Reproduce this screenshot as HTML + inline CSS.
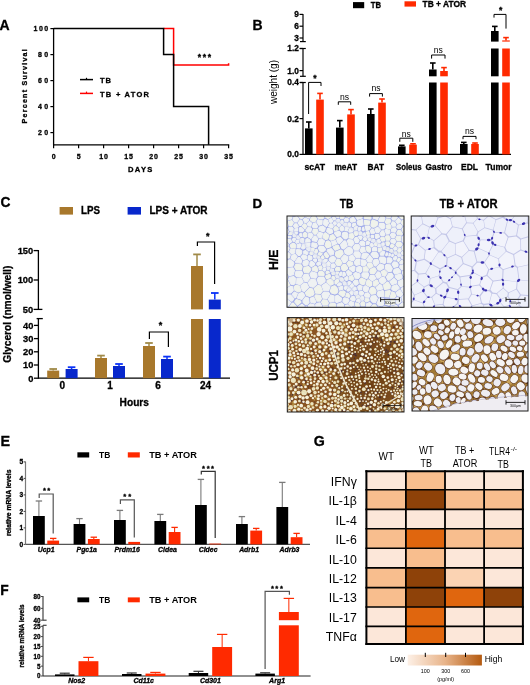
<!DOCTYPE html>
<html><head><meta charset="utf-8"><title>Figure</title>
<style>
html,body{margin:0;padding:0;background:#fff;}
body{width:530px;height:685px;overflow:hidden;}
svg{display:block;font-family:"Liberation Sans",Arial,sans-serif;}
text[font-weight="bold"]{stroke:#000;stroke-width:0.3px;}
</style></head><body>
<svg width="530" height="685" viewBox="0 0 530 685">
<rect width="530" height="685" fill="#fff"/>
<text x="-0.40" y="29.60" font-size="14" font-weight="bold">A</text>
<path d="M163.60 28.60 H173.60 V65.00 H228.60 V63.20" stroke="#ff0000" stroke-width="1.5" fill="none"/>
<path d="M53.60 28.60 H163.60 V54.60 H173.60 V106.60 H208.60 V144.80" stroke="#000" stroke-width="1.5" fill="none"/>
<line x1="53.60" y1="28.00" x2="53.60" y2="145.40" stroke="#000" stroke-width="1.3"/>
<line x1="53.00" y1="144.80" x2="229.20" y2="144.80" stroke="#000" stroke-width="1.3"/>
<line x1="50.40" y1="28.60" x2="53.60" y2="28.60" stroke="#000" stroke-width="1.2"/>
<line x1="50.40" y1="54.60" x2="53.60" y2="54.60" stroke="#000" stroke-width="1.2"/>
<line x1="50.40" y1="80.60" x2="53.60" y2="80.60" stroke="#000" stroke-width="1.2"/>
<line x1="50.40" y1="106.60" x2="53.60" y2="106.60" stroke="#000" stroke-width="1.2"/>
<line x1="50.40" y1="132.60" x2="53.60" y2="132.60" stroke="#000" stroke-width="1.2"/>
<line x1="53.60" y1="144.80" x2="53.60" y2="148.20" stroke="#000" stroke-width="1.2"/>
<line x1="78.60" y1="144.80" x2="78.60" y2="148.20" stroke="#000" stroke-width="1.2"/>
<line x1="103.60" y1="144.80" x2="103.60" y2="148.20" stroke="#000" stroke-width="1.2"/>
<line x1="128.60" y1="144.80" x2="128.60" y2="148.20" stroke="#000" stroke-width="1.2"/>
<line x1="153.60" y1="144.80" x2="153.60" y2="148.20" stroke="#000" stroke-width="1.2"/>
<line x1="178.60" y1="144.80" x2="178.60" y2="148.20" stroke="#000" stroke-width="1.2"/>
<line x1="203.60" y1="144.80" x2="203.60" y2="148.20" stroke="#000" stroke-width="1.2"/>
<line x1="228.60" y1="144.80" x2="228.60" y2="148.20" stroke="#000" stroke-width="1.2"/>
<text x="33.60" y="31.10" font-size="7" font-weight="bold" textLength="14.60" lengthAdjust="spacing">100</text>
<text x="38.00" y="57.10" font-size="7" font-weight="bold" textLength="10.20" lengthAdjust="spacing">80</text>
<text x="38.00" y="83.10" font-size="7" font-weight="bold" textLength="10.20" lengthAdjust="spacing">60</text>
<text x="38.00" y="109.10" font-size="7" font-weight="bold" textLength="10.20" lengthAdjust="spacing">40</text>
<text x="38.00" y="135.10" font-size="7" font-weight="bold" textLength="10.20" lengthAdjust="spacing">20</text>
<text x="51.80" y="159.40" font-size="7" font-weight="bold" textLength="3.60" lengthAdjust="spacing">0</text>
<text x="76.80" y="159.40" font-size="7" font-weight="bold" textLength="3.60" lengthAdjust="spacing">5</text>
<text x="99.30" y="159.40" font-size="7" font-weight="bold" textLength="8.60" lengthAdjust="spacing">10</text>
<text x="124.30" y="159.40" font-size="7" font-weight="bold" textLength="8.60" lengthAdjust="spacing">15</text>
<text x="149.30" y="159.40" font-size="7" font-weight="bold" textLength="8.60" lengthAdjust="spacing">20</text>
<text x="174.30" y="159.40" font-size="7" font-weight="bold" textLength="8.60" lengthAdjust="spacing">25</text>
<text x="199.30" y="159.40" font-size="7" font-weight="bold" textLength="8.60" lengthAdjust="spacing">30</text>
<text x="224.30" y="159.40" font-size="7" font-weight="bold" textLength="8.60" lengthAdjust="spacing">35</text>
<text x="128.00" y="171.60" font-size="7.6" font-weight="bold" textLength="24.40" lengthAdjust="spacing">DAYS</text>
<text x="27.20" y="123.40" font-size="7.1" font-weight="bold" textLength="74.20" lengthAdjust="spacing" transform="rotate(-90 27.20 123.40)">Percent Survival</text>
<line x1="80.00" y1="79.60" x2="93.00" y2="79.60" stroke="#000" stroke-width="1.5"/>
<line x1="86.50" y1="77.80" x2="86.50" y2="79.60" stroke="#000" stroke-width="1.2"/>
<text x="100.00" y="83.00" font-size="7.5" font-weight="bold" textLength="11.00" lengthAdjust="spacing">TB</text>
<line x1="80.00" y1="93.40" x2="93.00" y2="93.40" stroke="#ff0000" stroke-width="1.5"/>
<line x1="86.50" y1="91.60" x2="86.50" y2="93.40" stroke="#ff0000" stroke-width="1.2"/>
<text x="100.00" y="97.00" font-size="7.5" font-weight="bold" textLength="49.00" lengthAdjust="spacing">TB + ATOR</text>
<text x="197.87" y="60.09" font-size="8.6" font-weight="bold">*</text>
<text x="202.77" y="60.09" font-size="8.6" font-weight="bold">*</text>
<text x="207.87" y="60.09" font-size="8.6" font-weight="bold">*</text>
<text x="252.60" y="29.80" font-size="14" font-weight="bold">B</text>
<rect x="353.00" y="2.10" width="11.20" height="6.10" fill="#000"/>
<text x="370.80" y="7.90" font-size="8.5" font-weight="bold" textLength="10.30" lengthAdjust="spacingAndGlyphs">TB</text>
<rect x="404.50" y="1.30" width="11.50" height="5.30" fill="#ff2a00"/>
<text x="422.50" y="6.90" font-size="8.6" font-weight="bold" textLength="43.50" lengthAdjust="spacingAndGlyphs">TB + ATOR</text>
<line x1="303.00" y1="14.00" x2="303.00" y2="41.60" stroke="#000" stroke-width="1.2"/>
<line x1="303.00" y1="48.50" x2="303.00" y2="76.30" stroke="#000" stroke-width="1.2"/>
<line x1="303.00" y1="82.50" x2="303.00" y2="155.00" stroke="#000" stroke-width="1.2"/>
<line x1="300.00" y1="41.60" x2="305.80" y2="41.60" stroke="#000" stroke-width="1.2"/>
<line x1="300.00" y1="48.50" x2="305.80" y2="48.50" stroke="#000" stroke-width="1.2"/>
<line x1="300.00" y1="76.30" x2="305.80" y2="76.30" stroke="#000" stroke-width="1.2"/>
<line x1="300.00" y1="82.50" x2="305.80" y2="82.50" stroke="#000" stroke-width="1.2"/>
<line x1="299.50" y1="14.40" x2="303.00" y2="14.40" stroke="#000" stroke-width="1.2"/>
<text x="298.90" y="17.35" font-size="8.3" font-weight="bold" text-anchor="end">9</text>
<line x1="299.50" y1="26.20" x2="303.00" y2="26.20" stroke="#000" stroke-width="1.2"/>
<text x="298.90" y="29.15" font-size="8.3" font-weight="bold" text-anchor="end">6</text>
<line x1="299.50" y1="38.00" x2="303.00" y2="38.00" stroke="#000" stroke-width="1.2"/>
<text x="298.90" y="40.95" font-size="8.3" font-weight="bold" text-anchor="end">3</text>
<line x1="299.50" y1="48.50" x2="303.00" y2="48.50" stroke="#000" stroke-width="1.2"/>
<text x="298.90" y="51.45" font-size="8.3" font-weight="bold" text-anchor="end">1.2</text>
<line x1="299.50" y1="70.60" x2="303.00" y2="70.60" stroke="#000" stroke-width="1.2"/>
<text x="298.90" y="73.55" font-size="8.3" font-weight="bold" text-anchor="end">1.0</text>
<line x1="299.50" y1="82.50" x2="303.00" y2="82.50" stroke="#000" stroke-width="1.2"/>
<text x="298.90" y="85.45" font-size="8.3" font-weight="bold" text-anchor="end">0.4</text>
<line x1="299.50" y1="118.60" x2="303.00" y2="118.60" stroke="#000" stroke-width="1.2"/>
<text x="298.90" y="121.55" font-size="8.3" font-weight="bold" text-anchor="end">0.2</text>
<line x1="299.50" y1="154.40" x2="303.00" y2="154.40" stroke="#000" stroke-width="1.2"/>
<text x="298.90" y="157.35" font-size="8.3" font-weight="bold" text-anchor="end">0.0</text>
<text x="277.00" y="104.00" font-size="10.2" textLength="44.00" lengthAdjust="spacingAndGlyphs" transform="rotate(-90 277.00 104.00)">weight (g)</text>
<line x1="303.00" y1="154.40" x2="511.00" y2="154.40" stroke="#000" stroke-width="1.2"/>
<rect x="305.00" y="128.40" width="7.60" height="26.00" fill="#000"/>
<line x1="308.80" y1="122.00" x2="308.80" y2="128.40" stroke="#000" stroke-width="1.6"/>
<line x1="306.00" y1="122.00" x2="311.60" y2="122.00" stroke="#000" stroke-width="1.6"/>
<rect x="316.20" y="99.60" width="7.60" height="54.80" fill="#ff2a00"/>
<line x1="320.00" y1="93.40" x2="320.00" y2="99.60" stroke="#ff2a00" stroke-width="1.6"/>
<line x1="317.20" y1="93.40" x2="322.80" y2="93.40" stroke="#ff2a00" stroke-width="1.6"/>
<rect x="336.00" y="127.60" width="7.60" height="26.80" fill="#000"/>
<line x1="339.80" y1="120.60" x2="339.80" y2="127.60" stroke="#000" stroke-width="1.6"/>
<line x1="337.00" y1="120.60" x2="342.60" y2="120.60" stroke="#000" stroke-width="1.6"/>
<rect x="347.20" y="114.40" width="7.60" height="40.00" fill="#ff2a00"/>
<line x1="351.00" y1="109.60" x2="351.00" y2="114.40" stroke="#ff2a00" stroke-width="1.6"/>
<line x1="348.20" y1="109.60" x2="353.80" y2="109.60" stroke="#ff2a00" stroke-width="1.6"/>
<rect x="367.00" y="114.00" width="7.60" height="40.40" fill="#000"/>
<line x1="370.80" y1="109.00" x2="370.80" y2="114.00" stroke="#000" stroke-width="1.6"/>
<line x1="368.00" y1="109.00" x2="373.60" y2="109.00" stroke="#000" stroke-width="1.6"/>
<rect x="378.20" y="102.60" width="7.60" height="51.80" fill="#ff2a00"/>
<line x1="382.00" y1="99.00" x2="382.00" y2="102.60" stroke="#ff2a00" stroke-width="1.6"/>
<line x1="379.20" y1="99.00" x2="384.80" y2="99.00" stroke="#ff2a00" stroke-width="1.6"/>
<rect x="398.00" y="146.40" width="7.60" height="8.00" fill="#000"/>
<line x1="401.80" y1="145.30" x2="401.80" y2="146.40" stroke="#000" stroke-width="1.6"/>
<line x1="399.00" y1="145.30" x2="404.60" y2="145.30" stroke="#000" stroke-width="1.6"/>
<rect x="409.20" y="144.60" width="7.60" height="9.80" fill="#ff2a00"/>
<line x1="413.00" y1="143.80" x2="413.00" y2="144.60" stroke="#ff2a00" stroke-width="1.6"/>
<line x1="410.20" y1="143.80" x2="415.80" y2="143.80" stroke="#ff2a00" stroke-width="1.6"/>
<rect x="429.00" y="69.50" width="7.60" height="6.80" fill="#000"/>
<rect x="429.00" y="82.50" width="7.60" height="71.90" fill="#000"/>
<line x1="432.80" y1="63.00" x2="432.80" y2="69.50" stroke="#000" stroke-width="1.6"/>
<line x1="430.00" y1="63.00" x2="435.60" y2="63.00" stroke="#000" stroke-width="1.6"/>
<rect x="440.20" y="71.00" width="7.60" height="5.30" fill="#ff2a00"/>
<rect x="440.20" y="82.50" width="7.60" height="71.90" fill="#ff2a00"/>
<line x1="444.00" y1="67.60" x2="444.00" y2="71.00" stroke="#ff2a00" stroke-width="1.6"/>
<line x1="441.20" y1="67.60" x2="446.80" y2="67.60" stroke="#ff2a00" stroke-width="1.6"/>
<rect x="460.00" y="144.00" width="7.60" height="10.40" fill="#000"/>
<line x1="463.80" y1="142.40" x2="463.80" y2="144.00" stroke="#000" stroke-width="1.6"/>
<line x1="461.00" y1="142.40" x2="466.60" y2="142.40" stroke="#000" stroke-width="1.6"/>
<rect x="471.20" y="144.00" width="7.60" height="10.40" fill="#ff2a00"/>
<line x1="475.00" y1="143.00" x2="475.00" y2="144.00" stroke="#ff2a00" stroke-width="1.6"/>
<line x1="472.20" y1="143.00" x2="477.80" y2="143.00" stroke="#ff2a00" stroke-width="1.6"/>
<rect x="491.00" y="31.00" width="7.60" height="10.60" fill="#000"/>
<rect x="491.00" y="48.50" width="7.60" height="27.80" fill="#000"/>
<rect x="491.00" y="82.50" width="7.60" height="71.90" fill="#000"/>
<line x1="494.80" y1="26.40" x2="494.80" y2="31.00" stroke="#000" stroke-width="1.6"/>
<line x1="492.00" y1="26.40" x2="497.60" y2="26.40" stroke="#000" stroke-width="1.6"/>
<rect x="502.20" y="40.40" width="7.60" height="1.20" fill="#ff2a00"/>
<rect x="502.20" y="48.50" width="7.60" height="27.80" fill="#ff2a00"/>
<rect x="502.20" y="82.50" width="7.60" height="71.90" fill="#ff2a00"/>
<line x1="506.00" y1="37.60" x2="506.00" y2="40.40" stroke="#ff2a00" stroke-width="1.6"/>
<line x1="503.20" y1="37.60" x2="508.80" y2="37.60" stroke="#ff2a00" stroke-width="1.6"/>
<text x="304.40" y="169.60" font-size="8.6" font-weight="bold" textLength="20.60" lengthAdjust="spacingAndGlyphs">scAT</text>
<text x="334.40" y="169.60" font-size="8.6" font-weight="bold" textLength="22.60" lengthAdjust="spacingAndGlyphs">meAT</text>
<text x="367.60" y="169.60" font-size="8.6" font-weight="bold" textLength="16.40" lengthAdjust="spacingAndGlyphs">BAT</text>
<text x="396.00" y="169.60" font-size="8.6" font-weight="bold" textLength="25.50" lengthAdjust="spacingAndGlyphs">Soleus</text>
<text x="425.60" y="169.60" font-size="8.6" font-weight="bold" textLength="26.80" lengthAdjust="spacingAndGlyphs">Gastro</text>
<text x="461.00" y="169.60" font-size="8.6" font-weight="bold" textLength="17.00" lengthAdjust="spacingAndGlyphs">EDL</text>
<text x="485.60" y="169.60" font-size="8.6" font-weight="bold" textLength="26.00" lengthAdjust="spacingAndGlyphs">Tumor</text>
<path d="M308.6 114 V82.4 H321 V86" stroke="#000" stroke-width="1.0" fill="none"/>
<text x="313.17" y="80.79" font-size="8.6" font-weight="bold">*</text>
<path d="M338.30 104.80 V101.80 H350.70 V104.80" stroke="#000" stroke-width="1.0" fill="none"/>
<text x="344.50" y="99.70" font-size="8.6" text-anchor="middle">ns</text>
<path d="M369.60 96.60 V93.60 H382.40 V96.60" stroke="#000" stroke-width="1.0" fill="none"/>
<text x="376.00" y="91.00" font-size="8.6" text-anchor="middle">ns</text>
<path d="M399.80 141.80 V138.20 H412.80 V141.80" stroke="#000" stroke-width="1.0" fill="none"/>
<text x="406.30" y="137.00" font-size="8.6" text-anchor="middle">ns</text>
<path d="M431.60 58.60 V55.00 H445.00 V58.60" stroke="#000" stroke-width="1.0" fill="none"/>
<text x="438.30" y="52.60" font-size="8.6" text-anchor="middle">ns</text>
<path d="M463.00 139.20 V136.40 H476.00 V139.20" stroke="#000" stroke-width="1.0" fill="none"/>
<text x="469.50" y="133.60" font-size="8.6" text-anchor="middle">ns</text>
<path d="M494 17.6 V14.4 H506 V28.6" stroke="#000" stroke-width="1.0" fill="none"/>
<text x="498.97" y="12.79" font-size="8.6" font-weight="bold">*</text>
<text x="0.60" y="207.20" font-size="13.8" font-weight="bold">C</text>
<rect x="59.60" y="207.00" width="13.40" height="7.60" fill="#a8782c"/>
<text x="81.00" y="214.20" font-size="10" font-weight="bold" textLength="19.00" lengthAdjust="spacingAndGlyphs">LPS</text>
<rect x="127.60" y="207.00" width="13.40" height="7.60" fill="#0828cc"/>
<text x="149.40" y="214.20" font-size="10" font-weight="bold" textLength="58.10" lengthAdjust="spacingAndGlyphs">LPS + ATOR</text>
<line x1="38.40" y1="250.00" x2="38.40" y2="309.40" stroke="#000" stroke-width="1.3"/>
<line x1="38.40" y1="318.60" x2="38.40" y2="378.80" stroke="#000" stroke-width="1.3"/>
<line x1="33.60" y1="309.40" x2="42.40" y2="309.40" stroke="#000" stroke-width="1.3"/>
<line x1="36.60" y1="318.60" x2="42.80" y2="318.60" stroke="#000" stroke-width="1.3"/>
<line x1="33.60" y1="250.60" x2="38.40" y2="250.60" stroke="#000" stroke-width="1.3"/>
<line x1="33.60" y1="280.00" x2="38.40" y2="280.00" stroke="#000" stroke-width="1.3"/>
<line x1="34.00" y1="325.40" x2="38.40" y2="325.40" stroke="#000" stroke-width="1.3"/>
<line x1="34.00" y1="338.60" x2="38.40" y2="338.60" stroke="#000" stroke-width="1.3"/>
<line x1="34.00" y1="351.80" x2="38.40" y2="351.80" stroke="#000" stroke-width="1.3"/>
<line x1="34.00" y1="365.00" x2="38.40" y2="365.00" stroke="#000" stroke-width="1.3"/>
<line x1="34.00" y1="378.20" x2="38.40" y2="378.20" stroke="#000" stroke-width="1.3"/>
<text x="33.20" y="253.90" font-size="9.3" font-weight="bold" text-anchor="end">150</text>
<text x="33.20" y="283.30" font-size="9.3" font-weight="bold" text-anchor="end">100</text>
<text x="33.20" y="312.70" font-size="9.3" font-weight="bold" text-anchor="end">50</text>
<text x="33.40" y="328.70" font-size="9.3" font-weight="bold" text-anchor="end">40</text>
<text x="33.40" y="341.90" font-size="9.3" font-weight="bold" text-anchor="end">30</text>
<text x="33.40" y="355.10" font-size="9.3" font-weight="bold" text-anchor="end">20</text>
<text x="33.40" y="368.30" font-size="9.3" font-weight="bold" text-anchor="end">10</text>
<text x="33.40" y="381.50" font-size="9.3" font-weight="bold" text-anchor="end">0</text>
<text x="11.20" y="362.70" font-size="10.8" font-weight="bold" textLength="97.00" lengthAdjust="spacingAndGlyphs" transform="rotate(-90 11.20 362.70)">Glycerol (nmol/well)</text>
<line x1="38.40" y1="378.20" x2="230.00" y2="378.20" stroke="#000" stroke-width="1.3"/>
<rect x="47.20" y="370.60" width="12.00" height="7.60" fill="#a8782c"/>
<line x1="53.20" y1="369.00" x2="53.20" y2="370.60" stroke="#a08a48" stroke-width="1.5"/>
<line x1="49.40" y1="369.00" x2="57.00" y2="369.00" stroke="#a08a48" stroke-width="1.8"/>
<rect x="65.60" y="369.00" width="12.00" height="9.20" fill="#0828cc"/>
<line x1="71.60" y1="367.20" x2="71.60" y2="369.00" stroke="#0a32f8" stroke-width="1.5"/>
<line x1="67.80" y1="367.20" x2="75.40" y2="367.20" stroke="#0a32f8" stroke-width="1.8"/>
<rect x="95.00" y="358.00" width="12.00" height="20.20" fill="#a8782c"/>
<line x1="101.00" y1="355.60" x2="101.00" y2="358.00" stroke="#a08a48" stroke-width="1.5"/>
<line x1="97.20" y1="355.60" x2="104.80" y2="355.60" stroke="#a08a48" stroke-width="1.8"/>
<rect x="113.00" y="366.00" width="12.00" height="12.20" fill="#0828cc"/>
<line x1="119.00" y1="364.00" x2="119.00" y2="366.00" stroke="#0a32f8" stroke-width="1.5"/>
<line x1="115.20" y1="364.00" x2="122.80" y2="364.00" stroke="#0a32f8" stroke-width="1.8"/>
<rect x="143.00" y="346.00" width="12.00" height="32.20" fill="#a8782c"/>
<line x1="149.00" y1="343.00" x2="149.00" y2="346.00" stroke="#a08a48" stroke-width="1.5"/>
<line x1="145.20" y1="343.00" x2="152.80" y2="343.00" stroke="#a08a48" stroke-width="1.8"/>
<rect x="161.00" y="359.00" width="12.00" height="19.20" fill="#0828cc"/>
<line x1="167.00" y1="356.60" x2="167.00" y2="359.00" stroke="#0a32f8" stroke-width="1.5"/>
<line x1="163.20" y1="356.60" x2="170.80" y2="356.60" stroke="#0a32f8" stroke-width="1.8"/>
<rect x="191.00" y="266.00" width="12.00" height="43.40" fill="#a8782c"/>
<rect x="191.00" y="319.00" width="12.00" height="59.20" fill="#a8782c"/>
<line x1="197.00" y1="254.40" x2="197.00" y2="266.00" stroke="#a08a48" stroke-width="1.5"/>
<line x1="193.20" y1="254.40" x2="200.80" y2="254.40" stroke="#a08a48" stroke-width="1.8"/>
<rect x="208.80" y="299.60" width="12.00" height="9.80" fill="#0828cc"/>
<rect x="208.80" y="319.00" width="12.00" height="59.20" fill="#0828cc"/>
<line x1="214.80" y1="293.00" x2="214.80" y2="299.60" stroke="#0a32f8" stroke-width="1.5"/>
<line x1="211.00" y1="293.00" x2="218.60" y2="293.00" stroke="#0a32f8" stroke-width="1.8"/>
<text x="62.40" y="389.40" font-size="10" font-weight="bold" text-anchor="middle">0</text>
<text x="110.00" y="389.40" font-size="10" font-weight="bold" text-anchor="middle">1</text>
<text x="158.00" y="389.40" font-size="10" font-weight="bold" text-anchor="middle">6</text>
<text x="205.60" y="389.40" font-size="10" font-weight="bold" text-anchor="middle">24</text>
<text x="119.60" y="406.20" font-size="11" font-weight="bold" textLength="29.40" lengthAdjust="spacingAndGlyphs">Hours</text>
<path d="M149.4 339 V332 H168.4 V347" stroke="#000" stroke-width="1.2" fill="none"/>
<text x="158.79" y="328.09" font-size="9" font-weight="bold">*</text>
<path d="M197.4 246 V242 H214.6 V284" stroke="#000" stroke-width="1.2" fill="none"/>
<text x="205.89" y="238.99" font-size="9" font-weight="bold">*</text>
<text x="0.40" y="445.70" font-size="14.4" font-weight="bold">E</text>
<rect x="77.40" y="452.30" width="11.80" height="5.20" fill="#000"/>
<text x="99.00" y="457.90" font-size="9.6" font-weight="bold" textLength="11.30" lengthAdjust="spacingAndGlyphs" style="stroke:none">TB</text>
<rect x="127.80" y="452.30" width="12.00" height="5.20" fill="#ff2a00"/>
<text x="149.20" y="457.90" font-size="9.6" font-weight="bold" textLength="47.70" lengthAdjust="spacingAndGlyphs" style="stroke:none">TB + ATOR</text>
<line x1="25.50" y1="461.60" x2="25.50" y2="544.40" stroke="#7a7a7a" stroke-width="1.2"/>
<line x1="23.60" y1="544.40" x2="25.50" y2="544.40" stroke="#444" stroke-width="1.0"/>
<text x="23.20" y="546.80" font-size="6.6" font-weight="bold" text-anchor="end">0</text>
<line x1="23.60" y1="527.90" x2="25.50" y2="527.90" stroke="#444" stroke-width="1.0"/>
<text x="23.20" y="530.30" font-size="6.6" font-weight="bold" text-anchor="end">1</text>
<line x1="23.60" y1="511.40" x2="25.50" y2="511.40" stroke="#444" stroke-width="1.0"/>
<text x="23.20" y="513.80" font-size="6.6" font-weight="bold" text-anchor="end">2</text>
<line x1="23.60" y1="494.90" x2="25.50" y2="494.90" stroke="#444" stroke-width="1.0"/>
<text x="23.20" y="497.30" font-size="6.6" font-weight="bold" text-anchor="end">3</text>
<line x1="23.60" y1="478.40" x2="25.50" y2="478.40" stroke="#444" stroke-width="1.0"/>
<text x="23.20" y="480.80" font-size="6.6" font-weight="bold" text-anchor="end">4</text>
<line x1="23.60" y1="461.90" x2="25.50" y2="461.90" stroke="#444" stroke-width="1.0"/>
<text x="23.20" y="464.30" font-size="6.6" font-weight="bold" text-anchor="end">5</text>
<text x="11.00" y="536.00" font-size="6.3" font-weight="bold" textLength="66.40" lengthAdjust="spacingAndGlyphs" transform="rotate(-90 11.00 536.00)">relative mRNA levels</text>
<line x1="25.50" y1="544.40" x2="310.00" y2="544.40" stroke="#555" stroke-width="1.2"/>
<rect x="33.00" y="516.00" width="11.80" height="28.40" fill="#000"/>
<line x1="38.90" y1="501.00" x2="38.90" y2="516.00" stroke="#7a7a7a" stroke-width="1.1"/>
<line x1="35.70" y1="501.00" x2="42.10" y2="501.00" stroke="#7a7a7a" stroke-width="1.3"/>
<rect x="47.30" y="540.60" width="11.80" height="3.80" fill="#ff2a00"/>
<line x1="53.20" y1="538.40" x2="53.20" y2="540.60" stroke="#ff2a00" stroke-width="1.1"/>
<line x1="50.00" y1="538.40" x2="56.40" y2="538.40" stroke="#ff2a00" stroke-width="1.3"/>
<text x="46.10" y="552.40" font-size="6.9" font-weight="bold" text-anchor="middle" font-style="italic">Ucp1</text>
<rect x="73.60" y="524.00" width="11.80" height="20.40" fill="#000"/>
<line x1="79.50" y1="518.60" x2="79.50" y2="524.00" stroke="#7a7a7a" stroke-width="1.1"/>
<line x1="76.30" y1="518.60" x2="82.70" y2="518.60" stroke="#7a7a7a" stroke-width="1.3"/>
<rect x="87.90" y="539.00" width="11.80" height="5.40" fill="#ff2a00"/>
<line x1="93.80" y1="537.20" x2="93.80" y2="539.00" stroke="#ff2a00" stroke-width="1.1"/>
<line x1="90.60" y1="537.20" x2="97.00" y2="537.20" stroke="#ff2a00" stroke-width="1.3"/>
<text x="86.70" y="552.40" font-size="6.9" font-weight="bold" text-anchor="middle" font-style="italic">Pgc1a</text>
<rect x="114.00" y="520.00" width="11.80" height="24.40" fill="#000"/>
<line x1="119.90" y1="510.40" x2="119.90" y2="520.00" stroke="#7a7a7a" stroke-width="1.1"/>
<line x1="116.70" y1="510.40" x2="123.10" y2="510.40" stroke="#7a7a7a" stroke-width="1.3"/>
<rect x="128.30" y="541.90" width="11.80" height="2.50" fill="#ff2a00"/>
<text x="127.10" y="552.40" font-size="6.9" font-weight="bold" text-anchor="middle" font-style="italic">Prdm16</text>
<rect x="154.40" y="521.00" width="11.80" height="23.40" fill="#000"/>
<line x1="160.30" y1="514.40" x2="160.30" y2="521.00" stroke="#7a7a7a" stroke-width="1.1"/>
<line x1="157.10" y1="514.40" x2="163.50" y2="514.40" stroke="#7a7a7a" stroke-width="1.3"/>
<rect x="168.70" y="532.00" width="11.80" height="12.40" fill="#ff2a00"/>
<line x1="174.60" y1="527.40" x2="174.60" y2="532.00" stroke="#ff2a00" stroke-width="1.1"/>
<line x1="171.40" y1="527.40" x2="177.80" y2="527.40" stroke="#ff2a00" stroke-width="1.3"/>
<text x="167.50" y="552.40" font-size="6.9" font-weight="bold" text-anchor="middle" font-style="italic">Cidea</text>
<rect x="195.00" y="505.00" width="11.80" height="39.40" fill="#000"/>
<line x1="200.90" y1="479.40" x2="200.90" y2="505.00" stroke="#7a7a7a" stroke-width="1.1"/>
<line x1="197.70" y1="479.40" x2="204.10" y2="479.40" stroke="#7a7a7a" stroke-width="1.3"/>
<rect x="209.30" y="543.60" width="11.80" height="0.80" fill="#ff2a00"/>
<text x="208.10" y="552.40" font-size="6.9" font-weight="bold" text-anchor="middle" font-style="italic">Cidec</text>
<rect x="236.00" y="524.00" width="11.80" height="20.40" fill="#000"/>
<line x1="241.90" y1="516.60" x2="241.90" y2="524.00" stroke="#7a7a7a" stroke-width="1.1"/>
<line x1="238.70" y1="516.60" x2="245.10" y2="516.60" stroke="#7a7a7a" stroke-width="1.3"/>
<rect x="250.30" y="530.60" width="11.80" height="13.80" fill="#ff2a00"/>
<line x1="256.20" y1="528.40" x2="256.20" y2="530.60" stroke="#ff2a00" stroke-width="1.1"/>
<line x1="253.00" y1="528.40" x2="259.40" y2="528.40" stroke="#ff2a00" stroke-width="1.3"/>
<text x="249.10" y="552.40" font-size="6.9" font-weight="bold" text-anchor="middle" font-style="italic">Adrb1</text>
<rect x="276.40" y="507.00" width="11.80" height="37.40" fill="#000"/>
<line x1="282.30" y1="482.40" x2="282.30" y2="507.00" stroke="#7a7a7a" stroke-width="1.1"/>
<line x1="279.10" y1="482.40" x2="285.50" y2="482.40" stroke="#7a7a7a" stroke-width="1.3"/>
<rect x="290.70" y="537.20" width="11.80" height="7.20" fill="#ff2a00"/>
<line x1="296.60" y1="533.40" x2="296.60" y2="537.20" stroke="#ff2a00" stroke-width="1.1"/>
<line x1="293.40" y1="533.40" x2="299.80" y2="533.40" stroke="#ff2a00" stroke-width="1.3"/>
<text x="289.50" y="552.40" font-size="6.9" font-weight="bold" text-anchor="middle" font-style="italic">Adrb3</text>
<path d="M39.2 498 V494 H53.2 V533.6" stroke="#555" stroke-width="1.2" fill="none"/>
<text x="42.96" y="493.18" font-size="7.6" font-weight="bold">*</text>
<text x="47.36" y="493.18" font-size="7.6" font-weight="bold">*</text>
<path d="M120.4 504 V499.8 H134.3 V537.6" stroke="#555" stroke-width="1.2" fill="none"/>
<text x="123.26" y="498.68" font-size="7.6" font-weight="bold">*</text>
<text x="128.16" y="498.68" font-size="7.6" font-weight="bold">*</text>
<path d="M201.3 474.4 V471.3 H215.2 V538" stroke="#333" stroke-width="1.2" fill="none"/>
<text x="202.06" y="471.38" font-size="7.6" font-weight="bold">*</text>
<text x="206.76" y="471.38" font-size="7.6" font-weight="bold">*</text>
<text x="211.06" y="471.38" font-size="7.6" font-weight="bold">*</text>
<text x="0.20" y="594.90" font-size="13.8" font-weight="bold">F</text>
<rect x="77.40" y="597.40" width="11.80" height="4.90" fill="#000"/>
<text x="99.00" y="602.70" font-size="9.6" font-weight="bold" textLength="11.30" lengthAdjust="spacingAndGlyphs" style="stroke:none">TB</text>
<rect x="127.80" y="597.40" width="12.00" height="4.90" fill="#ff2a00"/>
<text x="149.20" y="602.70" font-size="9.6" font-weight="bold" textLength="47.70" lengthAdjust="spacingAndGlyphs" style="stroke:none">TB + ATOR</text>
<line x1="43.00" y1="596.00" x2="43.00" y2="620.20" stroke="#444" stroke-width="1.2"/>
<line x1="43.00" y1="625.30" x2="43.00" y2="676.00" stroke="#444" stroke-width="1.2"/>
<line x1="43.00" y1="620.20" x2="46.60" y2="620.20" stroke="#444" stroke-width="1.2"/>
<line x1="43.00" y1="625.30" x2="46.60" y2="625.30" stroke="#444" stroke-width="1.2"/>
<line x1="41.00" y1="596.50" x2="43.00" y2="596.50" stroke="#444" stroke-width="1.0"/>
<text x="40.60" y="598.90" font-size="6.6" font-weight="bold" text-anchor="end" textLength="7.00" lengthAdjust="spacingAndGlyphs">80</text>
<line x1="41.00" y1="608.35" x2="43.00" y2="608.35" stroke="#444" stroke-width="1.0"/>
<text x="40.60" y="610.75" font-size="6.6" font-weight="bold" text-anchor="end" textLength="7.00" lengthAdjust="spacingAndGlyphs">60</text>
<line x1="41.00" y1="620.20" x2="43.00" y2="620.20" stroke="#444" stroke-width="1.0"/>
<text x="40.60" y="622.60" font-size="6.6" font-weight="bold" text-anchor="end" textLength="7.00" lengthAdjust="spacingAndGlyphs">40</text>
<line x1="41.00" y1="626.30" x2="43.00" y2="626.30" stroke="#444" stroke-width="1.0"/>
<text x="40.60" y="628.70" font-size="6.6" font-weight="bold" text-anchor="end" textLength="7.00" lengthAdjust="spacingAndGlyphs">25</text>
<line x1="41.00" y1="636.60" x2="43.00" y2="636.60" stroke="#444" stroke-width="1.0"/>
<text x="40.60" y="639.00" font-size="6.6" font-weight="bold" text-anchor="end" textLength="7.00" lengthAdjust="spacingAndGlyphs">20</text>
<line x1="41.00" y1="646.45" x2="43.00" y2="646.45" stroke="#444" stroke-width="1.0"/>
<text x="40.60" y="648.85" font-size="6.6" font-weight="bold" text-anchor="end" textLength="7.00" lengthAdjust="spacingAndGlyphs">15</text>
<line x1="41.00" y1="656.30" x2="43.00" y2="656.30" stroke="#444" stroke-width="1.0"/>
<text x="40.60" y="658.70" font-size="6.6" font-weight="bold" text-anchor="end" textLength="7.00" lengthAdjust="spacingAndGlyphs">10</text>
<line x1="41.00" y1="666.15" x2="43.00" y2="666.15" stroke="#444" stroke-width="1.0"/>
<text x="40.60" y="668.55" font-size="6.6" font-weight="bold" text-anchor="end" textLength="3.50" lengthAdjust="spacingAndGlyphs">5</text>
<line x1="41.00" y1="676.00" x2="43.00" y2="676.00" stroke="#444" stroke-width="1.0"/>
<text x="40.60" y="678.40" font-size="6.6" font-weight="bold" text-anchor="end" textLength="3.50" lengthAdjust="spacingAndGlyphs">0</text>
<text x="24.40" y="667.60" font-size="6.3" font-weight="bold" textLength="63.10" lengthAdjust="spacingAndGlyphs" transform="rotate(-90 24.40 667.60)">relative mRNA levels</text>
<line x1="43.00" y1="676.00" x2="310.60" y2="676.00" stroke="#222" stroke-width="1.2"/>
<rect x="55.00" y="674.40" width="19.50" height="1.60" fill="#000"/>
<line x1="64.75" y1="673.20" x2="64.75" y2="674.40" stroke="#333" stroke-width="1.0"/>
<line x1="59.75" y1="673.20" x2="69.75" y2="673.20" stroke="#333" stroke-width="1.2"/>
<rect x="78.50" y="661.20" width="19.90" height="14.80" fill="#ff2a00"/>
<line x1="88.45" y1="657.40" x2="88.45" y2="661.20" stroke="#ff2a00" stroke-width="1.0"/>
<line x1="83.25" y1="657.40" x2="93.65" y2="657.40" stroke="#ff2a00" stroke-width="1.2"/>
<text x="76.70" y="683.40" font-size="7.0" font-weight="bold" text-anchor="middle" font-style="italic">Nos2</text>
<rect x="122.00" y="674.00" width="19.50" height="2.00" fill="#000"/>
<line x1="131.75" y1="673.00" x2="131.75" y2="674.00" stroke="#333" stroke-width="1.0"/>
<line x1="126.75" y1="673.00" x2="136.75" y2="673.00" stroke="#333" stroke-width="1.2"/>
<rect x="145.50" y="673.60" width="19.90" height="2.40" fill="#ff2a00"/>
<line x1="155.45" y1="672.40" x2="155.45" y2="673.60" stroke="#ff2a00" stroke-width="1.0"/>
<line x1="150.25" y1="672.40" x2="160.65" y2="672.40" stroke="#ff2a00" stroke-width="1.2"/>
<text x="143.70" y="683.40" font-size="7.0" font-weight="bold" text-anchor="middle" font-style="italic">Cd11c</text>
<rect x="188.70" y="673.00" width="19.50" height="3.00" fill="#000"/>
<line x1="198.45" y1="671.30" x2="198.45" y2="673.00" stroke="#333" stroke-width="1.0"/>
<line x1="193.45" y1="671.30" x2="203.45" y2="671.30" stroke="#333" stroke-width="1.2"/>
<rect x="212.20" y="647.00" width="19.90" height="29.00" fill="#ff2a00"/>
<line x1="222.15" y1="634.40" x2="222.15" y2="647.00" stroke="#ff2a00" stroke-width="1.0"/>
<line x1="216.95" y1="634.40" x2="227.35" y2="634.40" stroke="#ff2a00" stroke-width="1.2"/>
<text x="210.40" y="683.40" font-size="7.0" font-weight="bold" text-anchor="middle" font-style="italic">Cd301</text>
<rect x="255.40" y="673.60" width="19.50" height="2.40" fill="#000"/>
<line x1="265.15" y1="672.80" x2="265.15" y2="673.60" stroke="#333" stroke-width="1.0"/>
<line x1="260.15" y1="672.80" x2="270.15" y2="672.80" stroke="#333" stroke-width="1.2"/>
<rect x="278.90" y="612.00" width="19.90" height="8.20" fill="#ff2a00"/>
<rect x="278.90" y="625.30" width="19.90" height="50.70" fill="#ff2a00"/>
<line x1="288.85" y1="598.40" x2="288.85" y2="612.00" stroke="#ff2a00" stroke-width="1.0"/>
<line x1="283.65" y1="598.40" x2="294.05" y2="598.40" stroke="#ff2a00" stroke-width="1.2"/>
<text x="277.10" y="683.40" font-size="7.0" font-weight="bold" text-anchor="middle" font-style="italic">Arg1</text>
<path d="M265.1 669 V591.3 H289.4 V594.7" stroke="#555" stroke-width="1.2" fill="none"/>
<text x="270.96" y="590.78" font-size="7.6" font-weight="bold">*</text>
<text x="275.36" y="590.78" font-size="7.6" font-weight="bold">*</text>
<text x="280.06" y="590.78" font-size="7.6" font-weight="bold">*</text>
<text x="313.80" y="445.50" font-size="14.2" font-weight="bold">G</text>
<rect x="366.40" y="471.20" width="39.50" height="18.50" fill="#fce7d9"/>
<rect x="405.90" y="471.20" width="39.10" height="18.50" fill="#f8be8e"/>
<rect x="445.00" y="471.20" width="39.10" height="18.50" fill="#fce7d9"/>
<rect x="484.10" y="471.20" width="38.80" height="18.50" fill="#fce7d9"/>
<text x="356.80" y="485.99" font-size="12.3" text-anchor="end">IFNγ</text>
<rect x="366.40" y="489.70" width="39.50" height="19.70" fill="#f8be8e"/>
<rect x="405.90" y="489.70" width="39.10" height="19.70" fill="#8e4209"/>
<rect x="445.00" y="489.70" width="39.10" height="19.70" fill="#f8be8e"/>
<rect x="484.10" y="489.70" width="38.80" height="19.70" fill="#f8be8e"/>
<text x="356.80" y="505.37" font-size="12.3" text-anchor="end">IL-1β</text>
<rect x="366.40" y="509.40" width="39.50" height="19.40" fill="#fce7d9"/>
<rect x="405.90" y="509.40" width="39.10" height="19.40" fill="#fce7d9"/>
<rect x="445.00" y="509.40" width="39.10" height="19.40" fill="#fce7d9"/>
<rect x="484.10" y="509.40" width="38.80" height="19.40" fill="#fce7d9"/>
<text x="356.80" y="524.75" font-size="12.3" text-anchor="end">IL-4</text>
<rect x="366.40" y="528.80" width="39.50" height="19.40" fill="#f8be8e"/>
<rect x="405.90" y="528.80" width="39.10" height="19.40" fill="#e0660e"/>
<rect x="445.00" y="528.80" width="39.10" height="19.40" fill="#f8be8e"/>
<rect x="484.10" y="528.80" width="38.80" height="19.40" fill="#f8be8e"/>
<text x="356.80" y="544.13" font-size="12.3" text-anchor="end">IL-6</text>
<rect x="366.40" y="548.20" width="39.50" height="19.70" fill="#fce7d9"/>
<rect x="405.90" y="548.20" width="39.10" height="19.70" fill="#f8be8e"/>
<rect x="445.00" y="548.20" width="39.10" height="19.70" fill="#fce7d9"/>
<rect x="484.10" y="548.20" width="38.80" height="19.70" fill="#fce7d9"/>
<text x="356.80" y="563.51" font-size="12.3" text-anchor="end">IL-10</text>
<rect x="366.40" y="567.90" width="39.50" height="19.70" fill="#f8be8e"/>
<rect x="405.90" y="567.90" width="39.10" height="19.70" fill="#8e4209"/>
<rect x="445.00" y="567.90" width="39.10" height="19.70" fill="#fbd3b3"/>
<rect x="484.10" y="567.90" width="38.80" height="19.70" fill="#fce7d9"/>
<text x="356.80" y="582.89" font-size="12.3" text-anchor="end">IL-12</text>
<rect x="366.40" y="587.60" width="39.50" height="19.40" fill="#f8be8e"/>
<rect x="405.90" y="587.60" width="39.10" height="19.40" fill="#8e4209"/>
<rect x="445.00" y="587.60" width="39.10" height="19.40" fill="#e0660e"/>
<rect x="484.10" y="587.60" width="38.80" height="19.40" fill="#8e4209"/>
<text x="356.80" y="602.27" font-size="12.3" text-anchor="end">IL-13</text>
<rect x="366.40" y="607.00" width="39.50" height="19.40" fill="#fce7d9"/>
<rect x="405.90" y="607.00" width="39.10" height="19.40" fill="#e0660e"/>
<rect x="445.00" y="607.00" width="39.10" height="19.40" fill="#fce7d9"/>
<rect x="484.10" y="607.00" width="38.80" height="19.40" fill="#fce7d9"/>
<text x="356.80" y="621.65" font-size="12.3" text-anchor="end">IL-17</text>
<rect x="366.40" y="626.40" width="39.50" height="17.60" fill="#fce7d9"/>
<rect x="405.90" y="626.40" width="39.10" height="17.60" fill="#e0660e"/>
<rect x="445.00" y="626.40" width="39.10" height="17.60" fill="#fce7d9"/>
<rect x="484.10" y="626.40" width="38.80" height="17.60" fill="#fce7d9"/>
<text x="356.80" y="641.03" font-size="12.3" text-anchor="end">TNFα</text>
<line x1="366.40" y1="470.20" x2="366.40" y2="645.00" stroke="#000" stroke-width="2.0"/>
<line x1="405.90" y1="470.20" x2="405.90" y2="645.00" stroke="#000" stroke-width="1.8"/>
<line x1="445.00" y1="470.20" x2="445.00" y2="645.00" stroke="#000" stroke-width="1.8"/>
<line x1="484.10" y1="470.20" x2="484.10" y2="645.00" stroke="#000" stroke-width="1.8"/>
<line x1="522.90" y1="470.20" x2="522.90" y2="645.00" stroke="#000" stroke-width="2.0"/>
<line x1="365.40" y1="471.20" x2="523.90" y2="471.20" stroke="#000" stroke-width="2.0"/>
<line x1="365.40" y1="489.70" x2="523.90" y2="489.70" stroke="#000" stroke-width="1.6"/>
<line x1="365.40" y1="509.40" x2="523.90" y2="509.40" stroke="#000" stroke-width="1.6"/>
<line x1="365.40" y1="528.80" x2="523.90" y2="528.80" stroke="#000" stroke-width="1.6"/>
<line x1="365.40" y1="548.20" x2="523.90" y2="548.20" stroke="#000" stroke-width="1.6"/>
<line x1="365.40" y1="567.90" x2="523.90" y2="567.90" stroke="#000" stroke-width="1.6"/>
<line x1="365.40" y1="587.60" x2="523.90" y2="587.60" stroke="#000" stroke-width="1.6"/>
<line x1="365.40" y1="607.00" x2="523.90" y2="607.00" stroke="#000" stroke-width="1.6"/>
<line x1="365.40" y1="626.40" x2="523.90" y2="626.40" stroke="#000" stroke-width="1.6"/>
<line x1="365.40" y1="644.00" x2="523.90" y2="644.00" stroke="#000" stroke-width="2.0"/>
<text x="378.50" y="460.30" font-size="10.2" textLength="15.50" lengthAdjust="spacingAndGlyphs">WT</text>
<text x="419.00" y="454.00" font-size="10.2" textLength="14.80" lengthAdjust="spacingAndGlyphs">WT</text>
<text x="420.60" y="467.20" font-size="10.2" textLength="11.40" lengthAdjust="spacingAndGlyphs">TB</text>
<text x="455.00" y="454.00" font-size="10.2" textLength="19.30" lengthAdjust="spacingAndGlyphs">TB +</text>
<text x="452.70" y="467.20" font-size="10.2" textLength="24.60" lengthAdjust="spacingAndGlyphs">ATOR</text>
<text x="488.90" y="454.50" font-size="10.2" textLength="21.10" lengthAdjust="spacingAndGlyphs">TLR4</text>
<text x="510.60" y="451.30" font-size="6.2" textLength="6.60" lengthAdjust="spacingAndGlyphs">-/-</text>
<text x="497.60" y="467.50" font-size="10.2" textLength="11.30" lengthAdjust="spacingAndGlyphs">TB</text>
<defs><linearGradient id="gg" x1="0" x2="1" y1="0" y2="0"><stop offset="0" stop-color="#fdf0e6"/><stop offset="0.5" stop-color="#e8b48a"/><stop offset="1" stop-color="#b45a10"/></linearGradient></defs>
<rect x="407.7" y="654.7" width="74.2" height="10.8" fill="url(#gg)"/>
<line x1="425.30" y1="652.80" x2="425.30" y2="657.00" stroke="#000" stroke-width="1.0"/>
<line x1="445.70" y1="652.80" x2="445.70" y2="657.00" stroke="#000" stroke-width="1.0"/>
<line x1="465.50" y1="652.80" x2="465.50" y2="657.00" stroke="#000" stroke-width="1.0"/>
<text x="390.00" y="662.20" font-size="9.6" textLength="15.00" lengthAdjust="spacingAndGlyphs">Low</text>
<text x="484.70" y="662.20" font-size="9.6" textLength="17.60" lengthAdjust="spacingAndGlyphs">High</text>
<text x="425.30" y="672.60" font-size="5.4" text-anchor="middle">100</text>
<text x="445.70" y="672.60" font-size="5.4" text-anchor="middle">300</text>
<text x="465.50" y="672.60" font-size="5.4" text-anchor="middle">600</text>
<text x="445.70" y="680.60" font-size="5.4" text-anchor="middle">(pg/ml)</text>
<text x="252.40" y="207.70" font-size="13.4" font-weight="bold">D</text>
<text x="339.80" y="208.20" font-size="12" font-weight="bold" textLength="13.70" lengthAdjust="spacingAndGlyphs">TB</text>
<text x="439.40" y="207.80" font-size="12" font-weight="bold" textLength="58.10" lengthAdjust="spacingAndGlyphs">TB + ATOR</text>
<text x="278.30" y="270.00" font-size="12" font-weight="bold" textLength="20.30" lengthAdjust="spacingAndGlyphs" transform="rotate(-90 278.30 270.00)">H/E</text>
<text x="277.70" y="380.80" font-size="12" font-weight="bold" textLength="30.80" lengthAdjust="spacingAndGlyphs" transform="rotate(-90 277.70 380.80)">UCP1</text>
<defs><filter id="bl" x="-5%" y="-5%" width="110%" height="110%"><feGaussianBlur stdDeviation="0.45"/></filter><filter id="bl2" x="-5%" y="-5%" width="110%" height="110%"><feGaussianBlur stdDeviation="0.3"/></filter></defs>
<clipPath id="c1"><rect x="287.0" y="216.0" width="117.00" height="91.30"/></clipPath>
<g clip-path="url(#c1)"><g filter="url(#bl)">
<rect x="285.00" y="214.00" width="121.00" height="95.30" fill="#a4aeea"/>
<g fill="#eff2f3" stroke="#eff2f3" stroke-width="1.1" stroke-linejoin="round"><polygon points="287.3,266.7 292.7,266.3 293.9,263.6 293.5,262.1 290.0,259.8 288.3,260.2 285.9,263.3 285.8,264.6"/><polygon points="375.8,278.6 372.3,280.7 369.1,278.4 370.5,275.2 374.1,275.4"/><polygon points="349.0,284.9 348.9,284.9 348.1,284.3 347.9,282.3 349.1,281.5 350.9,282.3 351.0,282.8"/><polygon points="373.9,257.8 377.5,257.4 378.3,256.0 377.8,253.9 376.5,252.6 372.3,252.6 371.0,253.9 371.0,254.3"/><polygon points="380.0,233.7 381.8,230.9 383.5,230.8 384.9,234.6 384.0,235.6 381.0,235.6"/><polygon points="326.2,312.9 325.9,316.3 329.4,317.9 332.1,315.2 331.3,311.8 329.4,310.9"/><polygon points="371.5,304.2 368.2,308.3 368.2,308.3 366.2,306.4 366.6,303.8 369.7,302.6"/><polygon points="289.2,275.7 293.3,274.8 294.4,270.6 292.9,267.8 287.4,268.3 286.4,272.0"/><polygon points="288.3,295.0 290.7,295.0 293.8,298.7 292.5,300.8 291.4,301.1 287.6,298.2 287.6,295.7"/><polygon points="293.5,226.0 294.7,227.5 297.7,227.1 298.3,226.3 296.7,223.8 294.8,223.7"/><polygon points="364.8,245.2 364.4,245.6 361.4,245.8 359.6,243.4 360.8,241.4 362.2,240.9 364.5,242.3"/><polygon points="406.2,212.9 407.0,214.3 410.5,215.0 411.7,214.2 412.2,210.7 409.6,208.6 408.1,208.9"/><polygon points="361.6,252.6 365.4,251.4 364.4,247.3 361.4,247.4 360.0,250.7"/><polygon points="381.7,229.0 378.9,226.1 379.6,223.5 383.8,223.5 384.9,224.8 384.6,227.9 383.5,228.9"/><polygon points="364.3,230.3 363.1,230.6 362.2,230.0 362.5,227.8 363.7,227.3 363.7,227.4 364.3,230.2"/><polygon points="377.7,271.8 375.6,274.8 377.2,278.0 378.0,278.3 381.2,276.2 379.7,272.2"/><polygon points="371.4,261.4 367.9,261.7 366.6,259.5 369.7,255.5 372.6,259.0"/><polygon points="353.4,296.2 351.7,296.8 350.5,298.6 350.9,299.9 354.3,301.0 354.6,300.8 355.3,299.0 354.4,296.7"/><polygon points="329.7,294.0 327.0,298.5 323.1,298.2 321.8,294.5 323.8,292.0 328.5,292.3"/><polygon points="337.4,316.1 333.7,314.9 332.9,311.4 336.6,309.1 339.5,311.0 339.5,314.2"/><polygon points="342.8,220.6 341.0,220.7 340.6,222.4 341.9,223.8 342.0,223.8 343.4,222.2"/><polygon points="345.1,280.0 344.6,277.9 346.7,276.6 347.8,277.1 348.1,279.6 346.7,280.5"/><polygon points="379.5,215.4 377.3,219.5 373.4,218.2 373.2,215.5 376.4,212.9 378.4,213.3"/><polygon points="295.1,249.6 290.8,248.9 289.6,251.6 291.6,253.9 294.6,253.0"/><polygon points="361.9,232.6 361.3,234.4 359.0,234.5 359.1,232.1 360.7,231.8"/><polygon points="287.9,258.2 289.4,257.9 290.3,254.9 288.5,252.7 285.8,253.3 285.2,254.9"/><polygon points="347.8,233.8 347.1,232.9 344.4,232.2 342.6,233.0 342.0,236.2 344.3,238.7 346.1,238.9 347.3,237.9"/><polygon points="402.5,279.5 398.5,281.4 398.2,283.6 400.6,286.8 404.3,285.2 404.8,282.3"/><polygon points="352.3,231.9 353.0,230.6 352.3,228.7 351.1,228.0 350.0,228.4 348.7,231.5 349.4,232.3"/><polygon points="355.1,216.1 360.8,213.6 362.2,214.9 362.1,218.0 357.4,219.4"/><polygon points="400.6,271.1 398.1,268.2 394.2,269.3 393.3,271.8 394.8,274.0 400.3,272.7"/><polygon points="303.0,254.8 306.5,256.0 306.3,258.8 303.2,259.7 301.2,256.7"/><polygon points="321.1,284.4 318.5,283.7 317.2,279.4 318.7,277.2 323.9,277.6 325.2,279.9 324.9,281.9"/><polygon points="331.6,241.6 335.3,240.4 336.7,243.6 332.5,245.4"/><polygon points="403.9,278.5 406.0,281.1 410.0,279.8 410.3,277.8 408.7,275.8 404.2,276.9"/><polygon points="304.6,295.7 301.8,299.4 297.2,297.9 299.1,293.5 301.8,292.5 303.6,293.3"/><polygon points="348.6,299.0 344.8,297.8 343.4,298.5 342.9,301.4 345.0,303.5 347.2,303.1 349.0,300.4"/><polygon points="348.5,270.3 351.9,273.1 351.6,274.0 348.6,275.4 347.5,274.9 346.5,271.9"/><polygon points="287.6,220.1 286.4,219.4 286.7,214.6 289.0,213.4 292.1,216.9 291.4,219.0"/><polygon points="395.5,235.2 394.9,233.8 391.6,233.2 390.3,235.0 391.7,237.6 394.3,237.5"/><polygon points="352.0,253.4 352.9,251.0 351.5,248.0 348.4,247.3 344.4,250.4 345.1,253.3 348.3,255.0"/><polygon points="396.3,292.4 399.9,289.9 402.8,294.4 400.6,296.5 397.3,295.8"/><polygon points="393.1,312.7 391.0,311.0 390.6,307.3 391.1,306.7 396.0,305.5 397.2,306.1 398.2,309.1 397.0,311.4"/><polygon points="379.0,298.8 377.0,303.4 378.3,305.1 381.5,305.8 383.6,304.7 383.6,298.8 383.5,298.7"/><polygon points="303.0,249.1 304.7,248.3 305.2,247.2 304.1,244.4 304.1,244.4 302.5,244.7 301.5,248.1"/><polygon points="343.6,211.8 340.8,208.4 337.5,208.7 337.0,209.9 338.1,212.8 340.1,213.7 343.2,212.8"/><polygon points="334.0,267.8 331.4,267.2 330.9,266.1 331.8,264.0 334.1,263.7 335.4,265.9"/><polygon points="319.7,230.6 318.8,228.3 319.5,227.0 322.6,225.9 325.4,227.9 324.5,231.0 323.1,231.8"/><polygon points="357.4,226.7 356.6,229.5 354.8,229.7 354.1,228.0 356.6,226.0"/><polygon points="337.1,217.8 338.8,217.7 339.2,215.2 337.6,214.4 336.1,216.2"/><polygon points="358.2,278.5 360.0,276.6 359.8,274.0 355.7,272.4 353.9,273.5 353.6,274.6 355.3,278.2"/><polygon points="391.4,215.1 390.1,217.7 386.6,217.2 385.9,216.0 387.5,212.8 389.9,213.0"/><polygon points="331.9,223.9 330.0,223.9 328.5,226.7 332.2,227.9 333.4,226.0"/><polygon points="374.8,228.7 377.7,227.2 380.4,230.0 378.6,232.8 376.1,232.5"/><polygon points="316.4,247.1 315.1,247.5 312.0,246.6 311.7,246.3 311.9,243.4 312.4,242.7 316.2,243.3 317.3,245.6"/><polygon points="323.2,244.8 324.5,241.0 321.9,238.9 319.4,239.4 317.9,242.4 319.1,244.9"/><polygon points="281.5,294.9 279.2,297.2 279.5,299.4 282.9,300.8 285.7,298.2 285.7,295.5"/><polygon points="290.7,302.5 286.7,299.5 283.9,302.0 284.8,305.2 288.0,306.2"/><polygon points="354.3,312.1 357.3,311.0 357.5,309.0 354.2,306.9 352.0,308.0 351.6,309.7"/><polygon points="281.8,206.8 280.7,209.7 281.7,211.8 285.7,213.0 288.2,211.6 288.3,211.2 286.9,206.8 284.6,205.6"/><polygon points="408.5,229.4 406.0,234.0 408.6,235.6 411.4,234.3 411.8,232.3 409.0,229.5"/><polygon points="312.1,258.2 311.4,259.7 309.5,260.3 308.0,259.0 308.1,256.2 309.0,255.5 311.7,256.4"/><polygon points="356.3,257.7 359.9,257.6 360.4,253.8 358.6,251.7 354.6,251.7 353.7,254.0"/><polygon points="366.1,230.5 369.0,229.9 370.5,227.8 369.5,226.4 365.2,226.2"/><polygon points="330.0,286.5 325.8,283.2 322.0,285.7 323.8,290.5 328.7,290.7"/><polygon points="315.9,315.1 312.6,313.8 311.6,311.6 311.7,311.3 315.0,309.4 317.6,311.1 316.9,314.6"/><polygon points="363.4,213.3 361.9,211.9 360.9,209.1 363.5,204.8 365.2,204.7 368.1,207.7 367.2,211.6"/><polygon points="295.0,275.1 296.0,271.2 301.5,271.1 302.7,273.4 301.1,276.4 296.8,276.7"/><polygon points="378.2,269.9 376.8,267.3 380.1,263.9 383.8,265.3 383.4,268.4 380.3,270.3"/><polygon points="310.9,238.4 313.1,235.1 311.3,233.0 308.5,233.7 308.1,236.8"/><polygon points="402.0,241.0 403.7,243.0 407.1,243.1 408.0,242.3 407.7,237.3 404.8,235.6 404.1,235.6 402.7,236.7"/><polygon points="291.1,284.3 293.2,284.7 295.1,283.6 295.4,278.2 293.5,276.5 289.6,277.4 288.6,279.6"/><polygon points="412.0,297.8 413.9,293.3 413.7,292.9 409.3,292.3 407.8,294.5 410.1,297.8"/><polygon points="298.5,307.7 302.2,309.4 304.3,306.1 302.0,304.1 298.5,306.7"/><polygon points="305.6,297.1 302.9,300.8 303.2,302.5 305.9,304.8 306.8,304.8 309.1,302.7 308.7,298.3"/><polygon points="335.6,296.0 335.6,301.7 336.8,302.6 341.0,301.1 341.5,298.1 337.7,295.2"/><polygon points="355.1,284.9 356.5,285.1 358.3,283.6 357.7,280.3 355.1,280.1 353.3,281.8 353.3,282.5"/><polygon points="296.8,249.6 300.0,249.7 301.8,251.0 301.7,253.5 299.9,255.5 298.3,255.5 296.2,253.2 296.7,249.7"/><polygon points="400.6,220.3 398.5,218.3 395.7,221.2 397.3,223.5 400.0,222.8"/><polygon points="292.5,239.4 293.1,241.3 294.3,241.5 295.7,239.3 295.1,238.4 293.3,238.3"/><polygon points="295.0,254.4 292.0,255.3 291.0,258.5 294.3,260.7 297.1,256.6"/><polygon points="395.9,262.0 393.8,261.9 392.0,264.2 393.9,267.5 397.7,266.4 398.2,264.8 397.7,263.3"/><polygon points="325.1,219.4 327.3,220.2 328.6,223.1 326.9,226.1 326.3,226.4 323.6,224.4 323.8,220.6"/><polygon points="317.0,227.4 313.2,227.8 312.4,226.7 313.2,223.6 315.6,222.9 317.6,226.2"/><polygon points="304.3,291.6 302.4,290.8 300.9,285.8 304.3,283.1 306.7,283.6 308.6,287.2"/><polygon points="396.7,281.1 394.0,278.4 389.9,281.6 391.9,284.7 396.4,283.2"/><polygon points="298.3,257.5 295.5,261.5 295.9,262.8 301.0,263.1 301.7,260.6 299.8,257.5"/><polygon points="350.1,221.0 351.8,222.3 355.3,221.3 355.5,220.3 353.3,217.0 353.1,216.9 350.2,218.9"/><polygon points="315.6,215.0 312.5,214.7 310.7,212.0 311.8,208.8 314.0,208.4 317.4,212.0"/><polygon points="379.0,279.6 380.2,282.8 382.6,283.7 386.2,280.9 384.6,277.9 382.3,277.3"/><polygon points="353.2,261.0 349.3,259.7 349.0,256.4 352.5,254.9 355.0,258.5"/><polygon points="314.1,304.9 314.3,307.9 310.9,309.7 308.2,305.9 310.4,303.9"/><polygon points="310.0,243.4 305.7,243.7 306.8,246.7 309.8,246.1"/><polygon points="308.6,220.4 306.1,222.6 304.5,222.2 303.3,219.6 305.2,218.0 308.4,219.5"/><polygon points="386.7,264.5 385.6,265.2 385.2,268.5 388.3,271.6 391.4,271.2 392.3,268.5 390.3,264.9"/><polygon points="325.4,249.1 323.5,246.5 319.4,246.5 318.4,248.1 319.6,250.9 323.1,251.9 325.1,250.3"/><polygon points="287.8,239.1 287.1,240.9 289.4,243.4 291.5,241.8 290.9,239.8"/><polygon points="406.1,293.4 404.0,293.5 401.2,289.0 401.4,288.3 404.9,286.8 407.2,288.5 407.6,291.0"/><polygon points="376.7,248.2 376.4,250.9 372.5,250.9 372.6,248.3 374.4,247.0 376.1,247.4"/><polygon points="335.7,276.1 336.2,275.5 337.9,275.7 338.6,277.1 338.3,277.6 336.6,277.9"/><polygon points="407.3,315.5 410.5,316.8 413.6,313.4 412.5,309.0 408.4,308.1 406.5,310.3"/><polygon points="304.6,281.3 302.6,277.2 304.3,274.2 308.2,274.6 309.8,278.2 307.0,281.8"/><polygon points="360.2,230.2 358.7,230.4 358.1,229.9 358.8,227.3 360.5,227.5"/><polygon points="309.2,317.1 310.9,314.6 309.9,312.4 305.9,314.1 306.6,316.7"/><polygon points="393.1,275.3 393.0,277.1 388.9,280.3 387.9,280.0 386.4,277.0 388.7,273.5 391.6,273.2"/><polygon points="377.7,290.3 376.2,287.4 379.6,284.4 381.8,285.3 382.5,289.0"/><polygon points="284.5,314.0 288.3,312.9 289.2,311.5 287.7,307.7 284.3,306.7 280.5,309.8 280.4,310.2"/><polygon points="316.1,258.9 313.9,259.0 313.2,260.2 315.5,262.1 316.5,261.0 316.6,259.5"/><polygon points="390.4,257.9 391.6,258.7 392.2,260.7 390.4,263.0 387.2,262.6 387.2,258.2 388.2,257.8"/><polygon points="363.0,272.7 367.9,272.8 368.8,274.6 367.5,277.9 366.2,278.4 362.0,276.6 361.8,274.0"/><polygon points="405.2,309.0 407.1,306.9 406.1,303.8 402.4,302.8 399.2,305.6 400.1,308.6"/><polygon points="380.0,244.2 378.4,244.4 377.7,246.3 378.1,246.9 380.4,246.4"/><polygon points="384.5,251.7 382.8,251.0 380.1,253.4 380.6,255.2 383.7,255.2 384.6,251.8"/><polygon points="361.5,271.2 361.4,267.5 360.0,266.4 356.8,267.2 356.5,270.9 360.4,272.4"/><polygon points="380.0,242.4 378.2,242.6 377.0,241.3 377.0,240.2 379.2,239.3 380.5,241.7"/><polygon points="310.9,226.2 308.2,226.0 307.1,223.7 309.6,221.4 311.6,223.1"/><polygon points="339.9,228.0 340.1,229.7 341.8,231.0 343.4,230.3 343.7,227.5 342.0,226.0 341.8,226.0"/><polygon points="303.5,261.2 302.8,263.7 303.9,265.7 307.9,265.0 308.4,261.6 306.8,260.3"/><polygon points="351.7,287.7 353.8,285.8 352.2,283.7 349.9,286.1"/><polygon points="395.2,226.2 392.5,226.3 391.3,223.9 392.4,221.8 394.3,222.0 395.9,224.3"/><polygon points="355.5,237.5 357.1,237.4 359.1,240.5 358.0,242.4 355.5,242.5 354.1,239.4"/><polygon points="344.9,272.6 345.8,275.1 343.8,276.4 342.7,276.0 343.0,272.4"/><polygon points="356.4,301.3 359.4,302.4 360.4,301.0 359.2,299.3 357.0,299.8"/><polygon points="315.7,236.1 314.3,236.0 312.1,239.2 312.5,240.8 316.4,241.5 317.8,238.7"/><polygon points="336.5,220.7 337.6,222.1 339.0,221.8 339.5,220.0 338.9,219.4 337.2,219.5"/><polygon points="337.3,304.2 337.5,307.7 340.3,309.6 342.9,308.3 343.8,304.8 341.7,302.7"/><polygon points="349.1,222.7 350.7,223.8 350.4,226.2 349.4,226.6 347.8,225.5 347.9,223.5"/><polygon points="406.4,256.1 405.6,255.0 406.2,252.5 408.7,251.3 410.4,252.4 409.6,256.2"/><polygon points="333.5,269.2 333.7,270.7 331.1,271.9 330.4,270.4 331.2,268.7"/><polygon points="347.7,260.0 345.5,262.5 343.4,262.4 341.1,258.5 344.3,254.9 347.4,256.6"/><polygon points="406.6,265.4 405.0,263.6 405.4,261.5 409.1,262.3 409.1,263.6"/><polygon points="317.3,303.2 320.1,302.9 321.7,306.0 320.6,308.9 318.7,309.7 315.9,307.9 315.7,304.7"/><polygon points="287.6,288.5 288.3,293.0 290.8,292.9 293.3,290.4 292.8,286.7 290.7,286.2"/><polygon points="343.4,249.0 347.3,246.1 345.8,241.1 344.0,240.9 340.5,244.9 341.7,248.1"/><polygon points="407.3,266.8 410.1,264.8 412.4,266.6 411.8,269.5 409.6,270.5 407.1,268.6"/><polygon points="363.1,224.8 362.6,219.9 362.3,219.5 357.4,221.1 357.1,222.1 357.8,224.3 358.8,225.1 361.1,225.5"/><polygon points="336.9,236.4 340.1,235.7 340.7,232.6 338.9,231.2 334.9,232.4 334.5,233.5"/><polygon points="326.6,231.4 329.6,233.8 332.4,232.7 332.7,231.6 331.9,229.4 327.9,228.2 327.4,228.4"/><polygon points="359.5,291.7 362.1,291.2 363.7,292.8 362.9,294.9 360.8,295.3 359.3,293.9"/><polygon points="368.5,254.6 368.4,254.2 366.0,252.9 362.2,254.1 361.7,257.8 361.9,258.0 365.3,258.6"/><polygon points="296.9,240.1 295.6,242.2 296.6,243.3 299.0,242.3 298.5,240.4"/><polygon points="316.0,257.3 313.8,257.4 313.4,255.9 314.6,254.7 316.2,255.0 316.4,255.4"/><polygon points="303.8,230.5 303.8,230.0 301.1,227.5 300.0,227.6 299.3,228.4 299.4,231.0 300.0,231.7 302.1,231.8"/><polygon points="282.3,220.1 279.7,216.6 281.3,213.5 285.2,214.6 284.9,219.3"/><polygon points="383.9,257.0 385.5,258.1 385.5,262.9 384.4,263.6 380.6,262.2 379.3,258.6 380.2,257.1"/><polygon points="348.6,239.6 347.3,240.6 348.8,245.6 351.7,246.2 354.0,243.3 352.5,240.0"/><polygon points="354.5,261.9 354.9,264.3 356.2,265.4 359.5,264.6 360.1,259.6 359.8,259.3 356.3,259.4"/><polygon points="288.2,236.2 290.8,236.2 291.1,237.1 290.6,238.0 288.3,237.5 288.0,236.3"/><polygon points="366.5,262.6 365.7,264.9 362.5,265.9 361.0,264.8 361.6,259.8 365.1,260.4"/><polygon points="280.0,272.7 278.5,270.7 279.6,266.9 284.3,265.8 285.8,267.9 284.8,271.5"/><polygon points="406.9,225.7 408.6,227.2 409.1,227.2 411.8,225.0 411.5,222.9 410.4,222.1 407.9,222.7"/><polygon points="289.3,227.4 288.8,228.0 289.9,230.7 292.7,231.4 292.9,231.1 293.2,228.5 292.0,227.0"/><polygon points="401.8,278.1 398.0,279.9 395.2,277.1 395.3,275.4 400.8,274.1 402.0,276.5"/><polygon points="337.8,223.7 339.3,223.4 340.7,224.9 339.0,226.7 337.1,225.4"/><polygon points="318.0,219.7 316.9,222.0 318.9,225.3 322.0,224.2 322.2,220.5"/><polygon points="388.8,233.9 386.4,234.1 384.9,230.3 385.9,229.4 389.5,230.4 390.0,232.1"/><polygon points="310.2,247.9 310.0,247.6 307.1,248.1 306.6,249.1 308.9,251.0 309.7,250.4"/><polygon points="359.3,311.3 361.1,313.2 364.2,313.1 366.8,309.7 364.6,307.6 360.9,307.6 359.4,309.2"/><polygon points="378.9,237.6 379.5,236.4 378.5,234.5 376.0,234.2 375.2,235.1 375.5,237.9 376.3,238.6"/><polygon points="294.6,221.9 296.8,222.0 298.9,219.1 296.9,216.5 293.7,217.5 293.0,219.5"/><polygon points="365.2,235.9 363.5,236.2 362.7,235.0 363.3,233.2 364.8,232.8 365.6,235.0"/><polygon points="399.6,262.7 400.2,263.9 403.2,263.2 403.6,261.1 403.5,260.9 401.6,260.3"/><polygon points="391.4,242.7 390.6,241.1 391.7,239.3 394.3,239.1 395.8,241.5 394.5,243.5"/><polygon points="405.5,266.6 403.5,264.7 400.1,265.5 399.6,267.2 402.0,270.0 405.3,268.4"/><polygon points="402.0,226.3 400.4,228.8 397.9,228.8 396.7,227.0 397.5,225.0 400.2,224.2"/><polygon points="283.2,229.4 283.5,233.7 281.5,234.3 279.4,232.7 279.6,230.5 282.5,229.1"/><polygon points="353.0,247.3 355.4,244.3 358.1,244.2 360.0,246.7 358.5,250.1 354.4,250.1"/><polygon points="354.1,290.4 356.3,289.6 355.9,287.2 354.7,287.0 352.8,288.7 352.8,289.3"/><polygon points="371.8,228.9 370.4,230.9 371.2,233.7 373.8,233.5 374.6,232.7 373.4,229.3"/><polygon points="323.0,261.8 323.2,260.4 325.3,259.2 327.1,259.6 327.2,260.6 325.5,262.3 323.1,262.1"/><polygon points="288.2,245.4 288.3,244.5 286.0,241.9 283.2,243.0 284.2,246.2"/><polygon points="333.9,219.9 332.5,217.9 332.9,217.0 334.7,217.1 335.6,218.6 334.8,219.7"/><polygon points="286.7,259.2 283.9,255.8 281.5,256.9 280.8,258.6 284.6,261.9"/><polygon points="358.2,289.5 357.7,286.7 359.5,285.2 362.2,286.2 361.6,289.6 359.0,290.1"/><polygon points="322.3,317.1 324.2,316.2 324.5,312.8 321.3,310.6 319.4,311.4 318.7,315.0"/><polygon points="280.8,255.3 278.2,252.0 278.9,250.3 282.3,249.7 284.1,252.4 283.4,254.1"/><polygon points="280.6,223.9 277.2,224.5 276.6,227.5 278.8,229.1 281.9,227.6"/><polygon points="341.0,272.0 341.5,272.3 341.3,275.4 340.0,275.8 339.4,274.4 340.0,272.6"/><polygon points="314.6,263.5 314.6,264.8 311.3,266.7 309.7,265.2 310.1,261.9 312.0,261.3"/><polygon points="396.4,229.7 395.1,232.2 391.7,231.6 391.3,229.9 392.5,228.0 395.2,227.9"/><polygon points="380.9,216.2 378.7,220.4 379.5,221.8 383.7,221.8 385.0,218.2 384.3,216.9"/><polygon points="354.5,294.5 354.7,292.1 357.1,291.2 357.8,291.8 357.7,293.8 355.4,294.9"/><polygon points="348.6,291.1 350.4,289.6 350.4,289.1 348.7,287.6 348.7,287.6 347.0,290.4 347.3,290.9"/><polygon points="329.5,265.5 327.2,265.5 326.7,263.4 328.5,261.6 330.4,263.4"/><polygon points="397.3,217.1 395.4,215.5 393.1,215.8 391.9,218.3 392.7,219.9 394.6,220.1 397.3,217.4"/><polygon points="348.5,228.0 347.3,231.0 344.9,230.4 345.2,227.7 346.9,226.9"/><polygon points="286.7,234.2 288.3,231.6 287.3,229.3 284.8,229.8 285.1,233.7 286.5,234.4"/><polygon points="325.4,267.9 323.5,267.9 322.7,269.9 324.5,271.1 325.8,269.8"/><polygon points="334.0,262.0 335.7,258.4 333.7,256.4 330.7,257.0 329.2,259.0 329.3,260.2 331.4,262.3"/><polygon points="353.8,302.5 353.4,305.4 351.2,306.5 348.7,303.9 350.4,301.3"/><polygon points="329.7,267.9 328.9,269.4 327.3,269.2 327.0,267.5 327.4,267.0 329.3,267.0"/><polygon points="366.4,239.8 365.2,240.8 363.2,239.6 363.9,237.8 365.5,237.5 366.5,238.8"/><polygon points="368.3,310.6 371.8,312.8 370.6,316.5 367.5,316.9 365.8,313.8 368.2,310.6"/><polygon points="285.5,251.5 283.8,248.9 284.3,247.7 288.5,246.9 289.2,248.4 288.1,250.9"/><polygon points="297.3,212.3 294.9,210.0 290.4,211.9 290.2,212.3 293.2,215.8 296.4,214.9"/><polygon points="381.7,243.7 382.1,245.8 382.3,245.9 384.3,245.0 384.1,242.8 382.1,243.1"/><polygon points="317.9,262.4 320.7,262.9 320.8,263.2 320.5,264.3 318.0,265.4 316.8,264.6 316.8,263.5"/><polygon points="393.1,209.4 391.2,212.1 392.7,214.2 395.1,213.9 395.7,210.8"/><polygon points="406.4,302.1 402.7,301.2 401.8,297.6 404.0,295.3 406.2,295.3 408.7,298.9"/><polygon points="360.5,298.4 361.8,300.2 363.2,300.0 364.0,298.0 363.1,296.5 361.1,296.8"/><polygon points="302.7,238.4 301.1,238.7 300.1,239.8 300.6,242.0 302.0,242.6 303.7,242.3 303.9,239.0"/><polygon points="346.5,286.2 344.6,286.7 344.5,289.1 345.7,289.7 347.4,286.9"/><polygon points="285.8,236.3 284.2,235.5 282.0,236.1 280.5,240.5 282.4,241.3 285.4,240.2 286.2,238.2"/><polygon points="301.8,233.7 300.0,233.6 299.4,234.9 300.8,236.7 302.1,236.5"/><polygon points="375.5,295.6 371.6,296.1 370.6,298.2 371.0,300.7 373.1,302.6 375.4,302.8 377.4,298.2"/><polygon points="368.8,211.9 369.7,208.1 373.5,207.6 375.5,211.6 372.1,214.5"/><polygon points="397.6,255.4 398.4,256.6 400.0,256.8 400.7,255.5 399.9,253.8 398.5,253.9"/><polygon points="392.8,254.0 393.8,255.3 392.4,256.8 391.6,256.2 392.0,254.2"/><polygon points="309.9,239.9 310.2,241.3 309.8,241.9 305.6,242.3 305.6,242.2 305.9,239.3 307.5,238.6"/><polygon points="282.4,302.3 283.3,305.5 279.5,308.5 275.9,304.0 278.9,300.9"/><polygon points="384.6,306.3 382.5,307.5 383.3,312.4 384.8,313.2 389.0,311.2 388.6,307.5"/><polygon points="309.2,218.2 305.7,216.6 305.8,213.8 309.4,212.9 311.1,215.5"/><polygon points="296.4,234.1 295.0,232.9 294.9,232.7 295.0,232.6 297.2,232.4 297.6,232.8 297.1,233.8"/><polygon points="372.3,239.8 374.2,239.4 375.0,240.1 375.0,241.1 373.5,242.3 371.7,241.8 371.6,241.5"/><polygon points="297.1,247.8 297.1,244.8 299.7,243.7 301.0,244.3 299.9,247.9"/><polygon points="287.6,226.1 287.1,226.8 284.2,227.5 283.4,227.1 282.1,223.3 282.9,222.0 285.4,221.2 286.6,221.8"/><polygon points="327.5,249.7 331.3,248.6 333.9,251.7 333.3,254.5 330.4,255.1 327.1,251.0"/><polygon points="346.4,223.5 346.3,225.5 344.7,226.2 343.2,224.8 344.6,223.0"/><polygon points="306.0,306.9 306.8,306.9 309.5,310.7 309.4,311.0 305.2,312.8 304.0,312.0 303.7,310.4"/><polygon points="403.6,275.5 402.4,273.0 402.7,271.5 405.9,269.8 408.5,271.7 408.2,274.3"/><polygon points="313.2,287.3 316.8,284.2 315.5,279.8 311.1,279.2 308.1,282.9 310.1,286.5"/><polygon points="401.4,257.6 402.0,258.7 403.9,259.3 404.8,257.2 404.2,256.2 402.2,256.3"/><polygon points="337.2,284.8 339.8,282.7 341.2,283.2 341.4,284.8 338.3,286.0"/><polygon points="396.8,284.8 392.2,286.3 391.7,289.1 392.4,290.0 395.4,291.1 399.0,288.6 399.2,287.8"/><polygon points="352.8,294.4 353.0,292.1 351.7,290.9 349.7,292.5 351.4,294.9"/><polygon points="369.1,297.2 365.4,297.1 364.5,295.4 365.3,293.3 368.1,292.8 370.0,295.2"/><polygon points="391.8,208.5 390.1,211.2 387.8,211.0 386.4,208.6 388.7,206.4 391.7,207.8"/><polygon points="336.7,239.7 338.1,243.0 339.4,243.6 342.7,239.9 340.5,237.5 337.3,238.2"/><polygon points="402.1,254.8 404.1,254.7 404.6,252.4 402.4,251.5 401.2,253.1"/><polygon points="293.4,236.7 295.2,236.8 295.7,235.6 293.7,233.9 293.0,235.5"/><polygon points="377.1,294.4 379.0,296.9 383.4,296.8 383.5,291.1 382.9,290.6 377.9,291.8"/><polygon points="297.2,236.3 296.7,237.5 297.2,238.4 298.8,238.7 299.6,237.7 298.2,235.8"/><polygon points="319.2,232.2 317.0,235.1 319.2,237.8 321.6,237.3 322.6,233.3"/><polygon points="365.3,285.8 363.9,286.4 363.3,289.9 364.9,291.6 367.8,291.1 368.7,287.8"/><polygon points="406.6,282.6 406.2,285.3 408.4,287.0 412.1,284.9 412.3,283.7 410.5,281.3"/><polygon points="362.1,237.2 361.3,236.0 359.0,236.1 358.4,236.7 360.3,239.5 361.5,239.0"/><polygon points="308.1,232.2 306.0,230.5 306.0,230.0 307.9,227.6 310.7,227.8 311.5,228.9 310.9,231.5"/><polygon points="303.7,251.3 305.5,250.4 308.0,252.4 307.8,253.9 306.9,254.6 303.7,253.5"/><polygon points="393.6,248.7 395.3,246.7 397.1,248.2 396.2,250.0 394.4,250.2"/><polygon points="387.7,253.0 386.3,252.8 385.6,255.2 386.6,255.8 387.2,255.6 387.8,253.2"/><polygon points="346.1,284.5 345.9,282.2 344.4,281.8 343.1,282.8 343.3,284.5 344.0,285.1"/><polygon points="318.5,259.6 318.5,261.0 321.0,261.4 321.2,260.2 320.4,259.2"/><polygon points="325.7,265.9 325.2,263.9 322.9,263.7 322.6,264.8 323.5,266.4 325.3,266.4"/><polygon points="385.9,247.1 385.2,246.6 383.0,247.5 383.6,249.2 385.1,249.8"/><polygon points="345.7,218.0 348.3,219.1 348.2,221.1 347.0,222.0 345.0,221.6 344.4,219.7"/><polygon points="372.9,262.2 374.6,265.7 375.7,266.1 379.0,262.7 377.7,259.3 374.1,259.7"/><polygon points="371.1,243.3 373.0,243.9 373.4,245.8 371.7,247.0 369.9,245.3"/><polygon points="349.7,309.2 350.1,307.5 347.6,304.9 345.5,305.3 344.6,308.5 347.5,310.4"/><polygon points="389.3,253.4 388.7,255.9 390.2,255.9 390.5,254.0"/><polygon points="395.1,256.4 393.4,258.2 393.9,259.9 395.7,260.0 396.9,257.6 396.1,256.4"/><polygon points="310.5,298.2 310.8,302.3 314.4,303.3 315.9,301.9 313.5,297.0"/><polygon points="352.1,315.8 348.0,315.2 348.3,311.9 350.5,310.7 353.2,313.2"/><polygon points="369.1,236.9 369.3,235.6 367.2,235.9 366.9,236.5 367.7,237.5"/><polygon points="338.8,287.4 342.2,286.1 342.8,286.7 342.8,289.3 339.6,290.1"/><polygon points="334.2,221.8 333.3,223.2 334.5,225.1 335.7,224.8 336.4,223.2 335.2,221.7"/><polygon points="330.9,294.9 328.3,299.3 329.9,302.1 334.1,301.6 334.1,295.9"/><polygon points="371.0,236.9 371.2,235.5 371.2,235.5 373.4,235.4 373.6,237.6 371.9,238.0"/><polygon points="292.2,294.3 295.1,297.8 295.7,297.5 297.4,293.6 294.3,292.0"/><polygon points="396.9,303.6 398.1,304.2 401.1,301.6 400.2,298.2 397.0,297.6 395.6,299.2"/><polygon points="296.6,283.8 300.0,284.6 303.3,282.0 301.3,277.9 296.9,278.3"/><polygon points="349.6,267.8 349.4,268.9 352.9,271.8 354.7,270.8 355.0,267.0 353.7,266.0"/><polygon points="311.4,277.7 315.7,278.2 317.1,276.1 316.7,273.2 311.8,271.7 309.9,274.1"/><polygon points="355.8,224.8 355.2,223.1 352.4,224.0 352.2,226.2 353.2,226.8"/><polygon points="294.9,228.9 294.6,231.1 297.6,230.9 297.6,228.6"/><polygon points="332.9,220.9 331.8,222.3 329.9,222.4 328.8,219.8 331.2,218.6"/><polygon points="369.6,242.2 369.7,242.5 368.5,244.5 366.5,244.7 366.2,242.2 367.5,241.2"/><polygon points="302.9,222.9 301.7,220.3 300.2,220.1 298.1,222.9 299.8,225.5 300.9,225.4"/></g>
<g fill="#f0f3ec" stroke="#f0f3ec" stroke-width="1.1" stroke-linejoin="round"><polygon points="335.5,268.9 335.7,270.4 336.0,270.6 338.8,270.8 340.0,270.1 339.3,267.5 336.8,267.1"/><polygon points="336.9,265.2 340.0,265.7 342.0,263.1 339.7,259.2 337.2,259.1 335.5,262.8"/><polygon points="289.2,225.7 288.2,221.6 291.8,220.5 293.4,222.8 291.9,225.4"/><polygon points="342.5,250.9 343.2,253.7 339.9,257.4 337.3,257.3 335.3,255.1 335.8,252.1 340.8,249.9"/><polygon points="401.3,235.1 402.5,234.1 400.4,230.6 398.0,230.6 396.8,233.1 397.4,234.5"/><polygon points="295.3,248.0 295.4,244.7 294.1,243.4 292.7,243.2 290.4,244.9 290.3,245.9 291.1,247.4 295.2,248.1"/><polygon points="318.0,231.3 317.1,229.1 313.3,229.4 312.6,232.0 314.4,234.1 315.8,234.2"/><polygon points="390.4,291.4 389.8,290.6 385.2,291.3 385.0,296.8 385.1,296.8 388.6,296.9"/><polygon points="346.3,315.1 345.4,315.9 341.2,314.2 341.2,311.1 343.7,309.9 346.7,311.8"/><polygon points="373.2,304.7 375.4,304.8 376.6,306.5 374.7,311.0 373.0,311.4 369.6,309.1"/><polygon points="384.7,209.4 386.2,212.0 384.5,215.2 381.2,214.5 380.1,212.4 382.8,209.1"/><polygon points="314.3,288.4 317.9,285.4 320.6,286.1 322.4,290.9 320.4,293.5 315.7,293.1"/><polygon points="369.2,300.8 368.8,298.7 365.5,298.6 364.8,300.6 366.1,302.0"/><polygon points="335.9,284.0 338.8,281.6 338.2,279.4 336.2,279.7 334.9,281.3 335.0,283.7"/><polygon points="318.5,272.9 318.9,275.6 323.7,276.0 324.2,274.5 323.8,272.4 321.6,271.1 319.4,271.5"/><polygon points="399.2,210.1 401.1,212.8 398.5,215.5 396.6,214.0 397.2,211.0"/><polygon points="350.0,295.7 348.3,293.3 346.8,293.1 345.7,296.3 349.0,297.4"/><polygon points="371.4,262.9 373.1,266.3 369.5,268.2 367.2,265.4 368.0,263.1"/><polygon points="354.0,232.9 354.7,231.7 356.8,231.6 357.5,232.2 357.5,234.7 356.9,235.3 355.4,235.5"/><polygon points="294.8,290.2 298.2,292.0 300.9,291.0 299.5,286.1 296.1,285.3 294.3,286.4"/><polygon points="304.1,216.6 304.2,213.7 302.1,211.9 299.1,212.8 298.2,215.5 300.3,218.2 302.0,218.5"/><polygon points="352.2,212.5 353.9,208.6 353.3,207.7 349.6,207.7 348.3,210.6"/><polygon points="368.3,279.7 371.5,282.0 371.5,285.6 369.6,286.4 366.1,284.4 367.1,280.2"/><polygon points="402.0,247.7 403.7,245.0 407.1,245.0 408.1,249.8 405.4,251.1 402.8,250.0"/><polygon points="281.9,247.8 278.7,248.4 277.2,245.5 279.3,242.4 279.6,242.4 281.4,243.2 282.4,246.6"/><polygon points="325.7,215.0 329.0,212.4 330.1,212.8 331.2,215.9 330.6,217.0 328.0,218.4 325.8,217.6"/><polygon points="368.7,246.5 370.7,248.3 370.5,251.1 369.3,252.3 367.0,251.1 366.0,247.1 366.4,246.7"/><polygon points="391.0,305.1 390.8,299.6 394.2,299.6 395.4,304.0"/><polygon points="376.3,270.6 375.0,268.1 373.9,267.7 370.3,269.6 369.8,271.7 370.6,273.4 374.2,273.6"/><polygon points="389.7,223.1 390.9,221.0 390.0,219.4 386.5,218.9 385.3,222.2 386.3,223.5"/><polygon points="333.3,284.1 333.1,281.4 330.6,279.2 327.2,280.3 326.9,282.2 330.7,285.2"/><polygon points="321.5,258.0 322.3,258.9 324.2,257.9 322.9,255.5 321.6,256.8"/><polygon points="314.8,296.2 317.2,301.3 320.0,301.1 321.5,298.8 320.2,295.2 315.8,294.9"/><polygon points="315.5,266.1 312.2,268.1 312.3,270.3 316.9,271.7 317.8,270.4 316.9,267.1"/><polygon points="342.0,269.9 342.8,270.4 345.2,270.6 347.4,268.8 347.6,267.5 345.4,264.4 343.3,264.3 341.2,266.8"/><polygon points="352.6,262.4 353.0,264.6 348.9,266.4 346.9,263.5 348.9,261.1"/><polygon points="404.0,218.4 405.2,215.4 404.4,214.0 402.3,213.9 399.6,216.6 399.7,216.9 401.7,218.9"/><polygon points="326.0,252.3 328.8,255.9 327.5,257.6 325.7,257.1 324.2,254.5 324.4,253.7"/><polygon points="370.2,219.1 371.0,218.4 370.8,215.9 367.9,213.6 364.4,215.1 364.3,218.1 364.6,218.4"/><polygon points="387.1,245.5 386.3,244.9 385.9,242.3 386.3,241.9 389.0,241.9 389.6,243.4 388.6,245.4"/><polygon points="344.3,217.0 343.6,214.5 340.7,215.3 340.3,218.1 340.9,218.8 343.0,218.7"/><polygon points="308.5,273.0 310.4,270.5 310.3,268.2 308.4,266.5 304.1,267.2 303.3,270.1 304.5,272.5"/><polygon points="378.0,307.0 376.0,311.7 378.6,313.7 381.9,312.6 381.0,307.7"/><polygon points="286.8,278.9 287.8,276.7 285.1,273.1 280.3,274.2 279.3,278.2 282.1,280.5"/><polygon points="314.4,248.9 311.7,248.1 311.2,250.6 313.2,251.2"/><polygon points="384.9,289.5 389.9,288.7 390.4,285.8 388.2,282.4 387.2,282.1 383.5,284.9 384.2,288.9"/><polygon points="326.9,247.9 330.7,246.8 331.1,246.0 330.1,241.9 328.5,240.9 326.2,241.6 325.0,245.4"/><polygon points="324.0,233.5 325.4,232.8 328.7,235.3 327.8,238.9 325.6,239.6 323.0,237.6"/><polygon points="309.2,211.5 305.3,212.4 303.3,210.6 304.1,207.3 307.9,206.3 310.2,208.3"/><polygon points="396.2,245.3 396.0,244.5 397.3,242.4 400.5,242.3 402.2,244.2 400.5,246.8 398.2,247.1"/><polygon points="369.9,238.3 368.3,239.0 368.2,239.8 370.0,240.7 370.7,239.3"/><polygon points="375.3,293.7 371.4,294.2 369.4,291.6 370.5,288.2 372.4,287.3 374.5,288.1 376.1,291.1"/><polygon points="286.5,287.4 282.5,286.0 282.6,282.0 287.3,280.4 289.7,285.0"/><polygon points="389.5,304.8 389.0,305.3 385.5,304.3 385.5,299.3 388.6,299.4 389.3,299.9"/><polygon points="388.2,250.4 386.6,250.2 386.5,250.1 387.3,247.7 388.4,247.7 389.1,248.7"/><polygon points="394.1,252.8 395.3,254.4 396.2,254.4 397.1,253.0 396.3,251.7 394.6,251.9"/><polygon points="363.2,271.2 363.1,267.4 366.2,266.5 368.4,269.2 367.9,271.3"/><polygon points="391.0,247.5 390.3,246.3 391.3,244.3 394.0,245.0 394.1,245.7 392.5,247.7"/><polygon points="369.5,234.1 369.5,234.1 368.8,231.6 366.3,232.1 366.2,232.2 367.0,234.4"/><polygon points="297.9,309.1 301.6,310.9 302.0,312.4 298.6,314.7 295.9,311.5"/><polygon points="335.3,286.1 336.9,287.7 337.9,291.0 337.0,293.1 334.8,294.0 331.5,293.0 330.3,291.2 331.6,287.0 334.3,285.8"/><polygon points="398.8,312.4 400.0,310.2 404.9,310.6 405.6,315.6 402.0,317.1"/><polygon points="306.4,295.2 309.6,296.5 313.0,295.2 314.1,293.7 312.7,289.1 309.7,288.3 305.4,292.8"/><polygon points="400.7,208.2 403.9,206.6 406.5,208.4 404.7,212.1 402.5,211.9 400.5,209.0"/><polygon points="288.7,234.5 290.1,232.2 292.2,232.8 292.3,233.0 291.7,234.5"/><polygon points="317.7,257.7 318.0,256.3 319.7,256.9 319.6,257.9 318.0,258.2"/><polygon points="330.1,303.8 329.1,305.8 330.2,309.2 332.1,310.1 335.8,307.7 335.6,304.2 334.4,303.3"/><polygon points="318.2,218.2 322.5,218.9 323.9,217.8 323.8,215.1 320.5,212.6 319.0,213.0 317.2,215.9"/><polygon points="381.3,248.0 381.9,249.9 379.2,252.2 378.1,251.0 378.4,248.5 381.1,247.8"/><polygon points="359.5,279.9 361.3,278.1 365.5,279.9 364.5,284.1 363.0,284.7 360.1,283.5"/><polygon points="279.2,265.4 277.2,263.1 277.5,260.9 279.9,259.8 283.7,263.1 283.6,264.4"/><polygon points="296.0,269.6 301.4,269.5 302.2,266.7 301.0,264.7 295.7,264.4 294.6,267.0"/><polygon points="326.8,300.1 323.0,299.8 321.5,302.2 323.1,305.1 327.5,305.0 328.4,303.0"/><polygon points="405.6,219.0 406.8,216.0 410.1,216.6 410.1,220.4 407.4,221.0"/><polygon points="388.8,235.7 386.4,235.8 385.5,236.8 386.2,240.2 389.2,240.2 390.2,238.3"/><polygon points="407.7,303.1 410.0,299.8 412.2,299.7 414.7,301.5 415.2,304.9 412.8,307.3 408.7,306.4"/><polygon points="334.1,272.1 331.8,273.2 331.7,273.3 332.4,274.8 334.0,274.7 334.4,274.1 334.3,272.3"/><polygon points="317.7,251.4 316.6,253.2 315.0,252.9 314.6,251.8 315.8,249.6 316.9,249.2"/><polygon points="339.6,248.4 338.5,245.6 337.2,245.0 333.3,246.7 333.0,247.5 335.3,250.3"/><polygon points="321.2,265.8 322.1,267.4 321.2,269.4 319.4,269.8 318.6,267.0"/><polygon points="296.0,299.8 294.7,301.8 297.5,305.1 300.9,302.4 300.6,300.9 296.6,299.6"/><polygon points="399.7,258.5 400.3,259.5 398.6,261.6 397.2,260.5 398.3,258.3"/><polygon points="370.9,225.3 372.0,226.9 373.9,227.3 377.0,225.6 377.8,222.8 376.9,221.4 372.7,220.0 371.8,220.8"/><polygon points="352.6,233.5 354.2,236.4 352.7,238.4 348.9,238.0 349.4,234.0"/><polygon points="404.5,220.1 406.3,222.1 405.3,225.2 403.2,225.3 401.5,223.2 402.0,220.7"/><polygon points="329.9,277.7 326.7,278.7 325.6,276.8 326.1,275.4 329.7,274.2 330.5,276.0"/><polygon points="382.0,241.2 380.6,238.5 381.2,237.3 384.1,237.3 384.7,240.5 384.4,240.8"/><polygon points="344.0,296.0 342.6,296.6 338.9,293.8 339.8,291.8 343.4,290.9 344.9,291.7 345.3,292.3"/><polygon points="355.8,302.7 359.0,303.8 359.4,306.2 358.1,307.6 355.1,305.6 355.5,302.9"/><polygon points="336.1,226.6 338.1,228.0 338.3,229.7 334.5,230.9 333.7,228.7 334.8,226.9"/><polygon points="323.2,306.6 322.2,309.4 325.4,311.5 328.5,309.7 327.5,306.4"/><polygon points="346.1,216.2 345.3,213.6 345.7,212.7 347.3,212.0 351.2,214.0 351.8,215.5 348.9,217.4"/><polygon points="331.1,240.2 334.8,239.0 335.5,237.5 333.1,234.6 330.3,235.7 329.6,239.2"/><polygon points="364.9,303.2 363.4,301.7 361.9,301.9 360.7,303.5 361.2,305.9 364.5,305.9"/><polygon points="321.5,211.4 323.0,208.4 326.8,208.0 328.1,211.1 324.7,213.8"/><polygon points="296.4,307.8 294.2,310.4 290.9,310.7 289.5,307.1 292.1,303.4 293.3,303.1 296.4,306.8"/><polygon points="304.9,228.8 302.2,226.3 304.1,223.9 305.7,224.3 306.7,226.5"/><polygon points="389.9,229.0 386.2,227.9 386.5,225.1 389.9,224.6 391.1,227.1"/><polygon points="356.1,296.3 358.3,295.2 359.6,296.4 359.0,297.8 356.8,298.3"/><polygon points="331.7,278.1 333.8,280.0 335.1,278.4 334.1,276.5 332.3,276.6"/><polygon points="353.9,278.8 352.3,275.4 349.2,276.8 349.6,279.6 352.0,280.6"/><polygon points="400.4,240.7 397.2,240.8 395.7,238.4 397.0,236.0 401.1,236.7"/><polygon points="377.1,243.7 376.3,245.8 374.8,245.4 374.4,243.6 375.8,242.4"/><polygon points="332.7,215.2 331.6,212.3 335.5,210.6 336.5,213.4 334.9,215.3"/><polygon points="376.5,280.0 373.2,282.0 373.2,285.4 375.2,286.2 378.6,283.3 377.3,280.3"/><polygon points="328.7,271.3 329.3,272.6 329.3,272.8 326.3,273.8 326.0,272.1 327.1,271.0"/><polygon points="354.3,214.8 359.4,212.6 358.6,210.4 355.3,209.7 353.7,213.4 354.2,214.7"/><polygon points="320.6,255.4 322.0,254.0 322.1,253.3 319.3,252.4 318.2,254.2 318.4,254.7"/><polygon points="286.1,288.8 286.7,293.3 286.0,294.0 281.9,293.4 280.7,288.8 282.2,287.6"/><polygon points="398.6,252.2 400.0,252.1 401.3,250.5 400.6,248.5 398.5,248.7 397.6,250.7"/><polygon points="316.5,218.9 315.3,221.2 312.7,221.9 310.5,220.1 310.4,219.2 312.4,216.4 315.5,216.7"/><polygon points="389.7,251.4 390.7,249.4 392.1,249.6 392.8,251.0 392.3,252.0 391.4,252.2 389.9,251.5"/><polygon points="405.4,227.2 407.1,228.8 404.6,233.2 404.0,233.2 401.9,229.7 403.4,227.3"/><polygon points="340.5,280.8 339.9,278.6 340.3,278.1 341.8,277.7 342.9,278.2 343.4,280.2 342.0,281.3"/><polygon points="306.6,236.5 304.9,237.3 303.7,236.7 303.4,233.4 305.0,232.2 306.9,233.7"/><polygon points="364.8,224.7 369.0,224.9 369.8,221.0 364.4,220.3 364.8,224.7"/><polygon points="313.0,253.7 312.6,252.6 310.7,252.1 310.0,252.7 309.8,254.0 311.9,254.8"/><polygon points="338.5,272.3 337.9,274.2 336.2,274.0 336.1,272.1"/><polygon points="405.7,259.9 406.6,257.9 409.3,257.9 410.0,259.3 409.2,260.8 405.8,260.1"/><polygon points="381.2,271.7 384.3,269.9 387.2,272.7 384.9,276.2 382.7,275.6"/><polygon points="390.7,298.0 390.0,297.4 391.9,291.8 394.8,292.9 395.7,296.3 394.2,297.9"/></g>
<path d="M292 232 L362 300" stroke="#e4e8f2" stroke-width="3.0" fill="none" stroke-linecap="round" opacity="0.6"/>
<path d="M336 220 L404 258" stroke="#e4e8f2" stroke-width="2.4" fill="none" stroke-linecap="round" opacity="0.6"/>
<line x1="380.60" y1="299.60" x2="399.40" y2="299.60" stroke="#111" stroke-width="0.9"/>
<line x1="380.60" y1="297.40" x2="380.60" y2="301.80" stroke="#111" stroke-width="0.9"/>
<line x1="399.40" y1="297.40" x2="399.40" y2="301.80" stroke="#111" stroke-width="0.9"/>
<text x="390.00" y="303.80" font-size="3.6" text-anchor="middle" fill="#111">300µm</text>
</g></g>
<rect x="287.00" y="216.00" width="117.00" height="91.30" fill="none" stroke="#1c1c1c" stroke-width="1.0"/>
<clipPath id="c2"><rect x="411.2" y="216.0" width="117.60" height="91.30"/></clipPath>
<g clip-path="url(#c2)"><g filter="url(#bl)">
<rect x="409.20" y="214.00" width="121.60" height="95.30" fill="#c4c7e8"/>
<g fill="#eef0fa" stroke="#eef0fa" stroke-width="1.6" stroke-linejoin="round"><polygon points="461.7,227.5 465.3,222.4 463.8,217.0 458.3,214.5 451.7,219.1 453.4,225.8"/><polygon points="448.6,258.7 448.0,264.8 455.4,269.8 461.8,263.1 460.5,258.1 455.5,255.7"/><polygon points="444.0,280.7 446.4,281.4 454.2,273.5 453.9,272.0 446.6,267.0 441.3,269.9 440.5,275.4"/><polygon points="504.4,270.6 504.0,278.9 504.3,279.2 516.3,280.6 517.7,279.1 516.3,268.5 514.5,267.2"/><polygon points="490.1,214.9 489.6,212.3 492.9,206.0 495.4,205.0 501.5,208.4 501.8,216.0 495.9,218.2"/><polygon points="435.6,306.2 442.2,305.6 444.0,308.4 440.8,314.6 435.0,315.0 432.5,310.3"/><polygon points="438.0,274.9 438.7,269.6 431.3,265.5 427.0,273.1 430.7,277.2"/><polygon points="440.9,250.0 439.2,249.8 435.5,246.7 435.1,241.2 441.9,235.4 445.1,235.9 447.8,241.2"/><polygon points="504.8,307.7 509.0,306.7 511.7,309.3 511.5,314.0 506.4,316.6 503.1,312.3"/><polygon points="519.9,281.1 529.2,282.1 531.6,286.2 530.9,292.2 527.9,294.2 521.4,293.7 517.9,288.6 518.4,282.6"/><polygon points="482.4,305.7 480.8,304.6 473.2,306.7 471.9,310.3 475.3,315.1 480.9,315.2"/><polygon points="426.5,235.9 421.4,237.4 417.2,230.2 422.8,225.2 428.2,227.8"/><polygon points="487.4,253.5 487.8,255.0 483.8,261.0 477.9,260.8 475.6,251.9 478.7,249.6"/><polygon points="411.2,287.3 415.0,293.8 422.1,290.6 422.8,287.3 417.4,283.2"/><polygon points="433.8,239.2 428.6,236.2 430.3,228.1 434.9,227.0 440.4,233.5"/><polygon points="442.6,251.3 449.5,242.5 454.2,244.5 454.5,253.6 447.8,256.6"/><polygon points="517.9,235.1 519.5,226.1 526.8,224.2 529.1,225.9 527.1,235.8 521.2,237.6"/><polygon points="469.1,288.2 470.2,293.9 467.8,297.8 459.7,298.2 459.3,290.0 461.9,287.5"/><polygon points="513.8,313.9 519.4,316.5 522.4,309.0 519.0,307.1 514.0,309.4"/><polygon points="490.3,238.9 492.7,232.8 491.7,231.0 484.9,228.9 479.4,232.4 478.4,235.1 480.8,238.8"/><polygon points="450.5,240.1 447.7,234.5 453.0,228.0 461.3,229.8 463.9,236.2 462.1,239.8 455.4,242.2"/><polygon points="457.8,305.0 462.5,311.4 459.8,315.7 454.8,315.2 452.4,309.4"/><polygon points="520.1,279.0 529.4,280.0 532.8,273.3 528.9,265.9 518.7,268.1"/><polygon points="498.4,257.5 490.7,254.3 490.3,252.7 493.9,245.6 503.5,248.0 504.8,251.2"/><polygon points="521.8,240.0 527.9,238.2 533.6,241.4 534.0,247.2 529.0,251.5 521.9,249.0"/><polygon points="506.2,221.3 502.5,218.7 496.8,220.8 494.5,229.3 495.5,231.1 503.6,231.6"/><polygon points="414.6,244.4 405.6,239.0 405.5,234.8 410.1,230.7 415.2,231.2 419.4,238.7 417.4,243.4"/><polygon points="519.0,294.9 516.0,290.4 509.7,293.4 509.3,296.2 511.3,298.8 517.0,298.1"/><polygon points="409.4,200.1 402.4,208.0 404.1,214.4 407.2,215.7 412.7,213.2 413.6,203.4"/><polygon points="493.1,312.3 490.5,316.6 485.0,317.3 483.1,315.7 484.5,306.0 488.8,305.4 491.4,307.0"/><polygon points="478.5,240.5 476.1,236.6 466.4,237.4 464.7,241.0 469.7,249.1 473.6,249.7 477.0,247.3"/><polygon points="483.6,227.1 478.3,230.4 474.5,223.4 477.7,220.0 482.8,221.3"/><polygon points="508.3,218.6 504.5,216.0 504.2,208.4 510.4,204.2 516.4,206.4 517.6,208.8 511.5,218.4"/><polygon points="404.2,287.0 402.0,288.1 398.8,295.9 405.9,303.7 408.0,303.4 412.5,299.1 413.0,295.3 408.9,288.3"/><polygon points="529.5,296.8 532.3,294.9 538.7,298.7 537.5,307.9 533.8,308.8 529.2,306.2"/><polygon points="515.5,234.6 517.1,225.7 511.7,221.7 508.5,221.8 505.9,232.3 508.9,235.5"/><polygon points="477.5,212.9 478.5,217.8 483.3,219.0 487.3,215.5 486.8,213.1 480.3,210.7"/><polygon points="434.3,224.5 436.6,218.1 430.6,212.2 428.3,212.2 422.8,217.3 423.7,222.9 429.5,225.7"/><polygon points="498.9,268.1 490.0,270.3 488.4,275.0 493.5,279.8 501.3,278.6 501.7,270.4"/><polygon points="413.9,215.4 408.3,217.9 410.5,228.0 415.6,228.6 421.5,223.4 420.6,217.8"/><polygon points="524.4,309.8 527.6,308.9 532.0,311.4 529.1,319.9 522.3,319.1 521.5,317.4"/><polygon points="419.1,272.7 425.0,272.1 429.4,264.4 429.3,264.1 424.0,260.7 417.7,262.4 416.2,269.8"/><polygon points="415.7,247.1 412.2,255.2 416.8,259.8 423.1,258.2 424.0,250.8 418.4,246.1"/><polygon points="444.2,214.9 444.5,205.4 438.1,203.2 432.4,210.9 438.2,216.6"/><polygon points="523.7,306.7 526.9,305.9 527.2,296.9 521.3,296.4 519.2,299.7 520.3,304.8"/><polygon points="443.3,283.8 445.6,284.5 447.4,287.6 444.5,295.3 444.1,295.6 437.5,292.5 437.2,288.9"/><polygon points="492.4,228.8 494.7,220.3 489.0,217.1 484.8,220.9 485.7,226.8"/><polygon points="449.9,286.2 457.5,288.2 460.1,285.7 458.6,277.7 455.7,275.1 448.0,282.9"/><polygon points="440.7,253.4 438.9,253.2 432.4,262.9 432.5,263.2 440.0,267.3 445.2,264.5 445.8,258.6"/><polygon points="434.3,289.2 434.6,292.9 431.3,295.9 428.1,295.9 424.6,291.2 425.4,287.8 429.2,285.9"/><polygon points="469.6,276.9 469.6,285.6 469.2,286.0 462.6,285.4 461.2,278.0"/><polygon points="443.1,297.8 442.0,303.3 435.6,303.9 433.1,297.7 436.4,294.7"/><polygon points="418.6,281.4 424.2,285.6 428.1,283.6 428.9,278.7 425.2,274.7 419.3,275.2"/><polygon points="432.5,241.2 427.2,238.2 422.0,239.7 419.9,244.4 425.5,249.0 432.9,246.7"/><polygon points="513.3,219.6 519.5,209.8 526.0,213.0 526.4,221.8 518.9,223.7"/><polygon points="466.2,235.1 463.7,228.9 467.2,224.0 472.6,224.4 476.6,231.6 475.6,234.3"/><polygon points="441.7,282.0 435.5,287.2 430.5,283.9 431.3,279.2 438.4,277.0"/><polygon points="513.1,307.5 518.0,305.3 517.0,300.3 511.4,301.0 510.6,305.1"/><polygon points="503.2,289.6 507.0,293.1 506.6,295.8 501.2,297.9 498.2,293.7"/><polygon points="450.0,288.9 457.0,290.7 457.4,298.1 457.3,298.2 447.2,296.3"/><polygon points="426.0,297.2 422.6,292.7 415.7,295.8 415.2,299.3 422.5,301.8"/><polygon points="469.3,251.7 463.0,257.6 464.3,262.5 472.0,265.4 475.6,261.7 473.1,252.3"/><polygon points="415.7,203.4 414.9,213.2 421.3,215.6 426.6,210.6 421.9,203.2"/><polygon points="470.7,212.1 466.0,216.4 467.4,221.6 472.8,222.0 476.1,218.5 475.0,213.3"/><polygon points="502.8,307.0 501.1,311.6 495.3,311.4 493.6,306.4 499.6,303.4"/></g>
<g fill="#f2f3fb" stroke="#f2f3fb" stroke-width="1.6" stroke-linejoin="round"><polygon points="486.6,276.9 482.9,278.2 481.0,284.6 484.6,289.0 489.0,289.1 491.6,281.6"/><polygon points="487.3,269.5 485.7,274.3 481.9,275.7 474.4,271.8 473.9,267.2 477.5,263.6 483.7,263.7"/><polygon points="456.6,253.5 461.5,255.9 467.6,250.1 462.8,242.2 456.3,244.4"/><polygon points="500.7,266.0 499.8,259.1 506.4,252.6 512.5,255.5 513.8,264.9 503.5,268.3"/><polygon points="470.6,267.8 471.1,272.1 469.2,274.3 460.5,275.4 457.8,272.9 457.5,271.4 463.4,265.1"/><polygon points="507.5,250.2 506.1,246.9 509.0,238.4 516.0,237.4 519.5,240.1 519.6,249.1 513.5,253.0"/><polygon points="446.0,298.2 456.5,300.2 456.0,303.1 450.7,307.5 446.3,306.8 444.5,304.0 445.6,298.5"/><polygon points="471.7,276.1 473.6,273.9 480.6,277.5 478.8,283.6 471.7,284.9"/><polygon points="422.0,303.9 414.5,301.3 410.3,305.3 418.2,313.4 423.6,308.5"/><polygon points="498.8,301.5 499.1,299.4 496.0,295.0 492.7,294.5 490.4,302.9 492.8,304.4"/><polygon points="459.8,300.6 459.3,303.5 464.0,309.8 469.1,309.1 470.4,305.5 467.5,300.1 459.9,300.5"/><polygon points="405.1,284.2 406.5,273.3 414.0,271.9 417.0,274.9 416.3,281.2 409.7,285.5"/><polygon points="431.1,298.5 433.6,304.9 430.5,308.9 426.0,307.9 424.4,303.3 428.0,298.5"/><polygon points="504.4,305.4 508.3,304.5 509.1,300.4 507.2,297.8 501.8,299.9 501.4,302.0"/><polygon points="494.3,243.4 504.0,245.9 506.8,237.5 503.7,234.1 495.2,233.6 492.8,239.9"/><polygon points="433.5,249.0 426.4,251.1 425.5,258.3 430.7,261.7 437.2,252.1"/><polygon points="531.3,226.0 540.5,226.2 543.0,232.9 534.9,239.4 529.2,236.2"/><polygon points="445.8,232.9 442.4,232.4 436.5,225.4 438.8,218.9 445.1,217.2 449.5,219.6 451.2,226.3"/><polygon points="472.0,287.4 478.9,286.2 482.3,290.3 479.1,294.6 472.6,293.1 471.6,287.9"/><polygon points="528.6,221.9 528.2,212.8 535.8,208.4 540.3,210.0 542.8,220.1 540.7,223.9 531.1,223.7"/><polygon points="484.1,303.0 482.6,302.0 481.3,296.4 484.6,292.0 488.9,292.0 490.6,293.9 488.3,302.5"/><polygon points="413.4,269.3 414.9,261.9 410.3,257.4 408.6,257.6 402.4,263.8 402.4,267.8 406.0,270.6"/><polygon points="501.4,281.2 493.9,282.4 491.3,289.6 493.0,291.6 496.5,292.1 501.9,287.7 501.7,281.5"/><polygon points="516.3,264.6 518.2,266.0 528.3,263.8 529.6,261.2 528.1,253.9 521.0,251.4 515.0,255.2"/><polygon points="515.8,282.6 515.3,288.2 508.6,291.5 504.5,287.6 504.3,281.4"/><polygon points="472.2,295.4 469.9,299.1 472.7,304.5 480.1,302.5 478.8,297.0"/><polygon points="491.8,244.5 488.3,251.4 479.6,247.5 481.1,241.0 490.3,241.1"/><polygon points="413.0,246.5 404.6,241.4 401.0,245.8 401.4,249.1 408.1,254.2 409.8,254.1"/><polygon points="467.7,206.1 462.2,204.6 459.0,206.7 459.3,212.4 464.4,214.8 469.1,210.5"/><polygon points="456.9,212.7 456.6,206.8 450.2,203.3 446.6,205.4 446.3,214.9 450.5,217.2"/><polygon points="498.4,266.1 489.3,268.3 485.7,262.5 489.9,256.3 497.5,259.4"/><polygon points="445.9,309.4 442.8,315.7 445.9,319.5 449.7,319.5 452.9,316.0 450.4,310.1"/></g>
<g fill="#3a30b0"><ellipse cx="462.9" cy="215.4" rx="1.29" ry="0.90" transform="rotate(-155 462.9 215.4)"/><ellipse cx="450.5" cy="268.1" rx="1.40" ry="0.98" transform="rotate(34 450.5 268.1)"/><ellipse cx="483.3" cy="289.2" rx="1.72" ry="1.21" transform="rotate(50 483.3 289.2)"/><ellipse cx="452.0" cy="277.3" rx="1.15" ry="0.80" transform="rotate(-45 452.0 277.3)"/><ellipse cx="455.7" cy="272.8" rx="1.23" ry="0.86" transform="rotate(-100 455.7 272.8)"/><ellipse cx="445.6" cy="266.0" rx="1.22" ry="0.85" transform="rotate(151 445.6 266.0)"/><ellipse cx="439.8" cy="271.6" rx="1.12" ry="0.78" transform="rotate(98 439.8 271.6)"/><ellipse cx="502.7" cy="279.9" rx="1.38" ry="0.96" transform="rotate(48 502.7 279.9)"/><ellipse cx="518.6" cy="280.4" rx="1.89" ry="1.33" transform="rotate(-45 518.6 280.4)"/><ellipse cx="512.5" cy="266.5" rx="1.37" ry="0.96" transform="rotate(161 512.5 266.5)"/><ellipse cx="501.5" cy="206.9" rx="1.52" ry="1.07" transform="rotate(29 501.5 206.9)"/><ellipse cx="503.0" cy="212.6" rx="1.12" ry="0.79" transform="rotate(88 503.0 212.6)"/><ellipse cx="509.9" cy="306.1" rx="1.32" ry="0.93" transform="rotate(44 509.9 306.1)"/><ellipse cx="423.4" cy="238.2" rx="1.83" ry="1.28" transform="rotate(163 423.4 238.2)"/><ellipse cx="482.4" cy="262.5" rx="1.82" ry="1.28" transform="rotate(-178 482.4 262.5)"/><ellipse cx="476.8" cy="248.9" rx="1.88" ry="1.32" transform="rotate(-36 476.8 248.9)"/><ellipse cx="423.5" cy="290.5" rx="1.88" ry="1.31" transform="rotate(-78 423.5 290.5)"/><ellipse cx="428.7" cy="237.8" rx="1.38" ry="0.97" transform="rotate(-150 428.7 237.8)"/><ellipse cx="444.4" cy="255.2" rx="1.25" ry="0.87" transform="rotate(-135 444.4 255.2)"/><ellipse cx="472.9" cy="270.7" rx="1.24" ry="0.87" transform="rotate(84 472.9 270.7)"/><ellipse cx="523.4" cy="223.7" rx="1.30" ry="0.91" transform="rotate(-15 523.4 223.7)"/><ellipse cx="492.1" cy="238.3" rx="1.45" ry="1.02" transform="rotate(-69 492.1 238.3)"/><ellipse cx="494.0" cy="231.8" rx="1.16" ry="0.81" transform="rotate(-119 494.0 231.8)"/><ellipse cx="478.7" cy="238.3" rx="1.63" ry="1.14" transform="rotate(58 478.7 238.3)"/><ellipse cx="488.7" cy="240.0" rx="1.87" ry="1.31" transform="rotate(0 488.7 240.0)"/><ellipse cx="444.8" cy="297.1" rx="1.45" ry="1.02" transform="rotate(-34 444.8 297.1)"/><ellipse cx="460.1" cy="306.4" rx="1.60" ry="1.12" transform="rotate(54 460.1 306.4)"/><ellipse cx="455.1" cy="316.3" rx="1.73" ry="1.21" transform="rotate(-174 455.1 316.3)"/><ellipse cx="453.3" cy="307.0" rx="1.13" ry="0.79" transform="rotate(-40 453.3 307.0)"/><ellipse cx="532.0" cy="269.4" rx="1.83" ry="1.28" transform="rotate(-118 532.0 269.4)"/><ellipse cx="472.6" cy="272.9" rx="1.56" ry="1.09" transform="rotate(-49 472.6 272.9)"/><ellipse cx="481.7" cy="278.5" rx="1.65" ry="1.16" transform="rotate(107 481.7 278.5)"/><ellipse cx="470.7" cy="277.3" rx="1.61" ry="1.13" transform="rotate(-90 470.7 277.3)"/><ellipse cx="489.0" cy="253.5" rx="1.15" ry="0.81" transform="rotate(-104 489.0 253.5)"/><ellipse cx="535.0" cy="244.4" rx="1.29" ry="0.90" transform="rotate(86 535.0 244.4)"/><ellipse cx="533.6" cy="249.0" rx="1.14" ry="0.80" transform="rotate(140 533.6 249.0)"/><ellipse cx="411.5" cy="243.7" rx="1.11" ry="0.78" transform="rotate(-149 411.5 243.7)"/><ellipse cx="416.0" cy="245.5" rx="1.45" ry="1.01" transform="rotate(160 416.0 245.5)"/><ellipse cx="401.7" cy="209.6" rx="1.16" ry="0.81" transform="rotate(75 401.7 209.6)"/><ellipse cx="411.0" cy="199.2" rx="1.80" ry="1.26" transform="rotate(-142 411.0 199.2)"/><ellipse cx="490.5" cy="304.8" rx="1.31" ry="0.92" transform="rotate(32 490.5 304.8)"/><ellipse cx="478.6" cy="244.7" rx="1.48" ry="1.04" transform="rotate(-77 478.6 244.7)"/><ellipse cx="479.4" cy="219.3" rx="1.17" ry="0.82" transform="rotate(15 479.4 219.3)"/><ellipse cx="507.0" cy="219.7" rx="1.34" ry="0.94" transform="rotate(-145 507.0 219.7)"/><ellipse cx="491.1" cy="305.2" rx="1.61" ry="1.13" transform="rotate(32 491.1 305.2)"/><ellipse cx="497.9" cy="303.1" rx="1.81" ry="1.27" transform="rotate(-26 497.9 303.1)"/><ellipse cx="471.3" cy="308.1" rx="1.50" ry="1.05" transform="rotate(-70 471.3 308.1)"/><ellipse cx="413.7" cy="298.8" rx="1.39" ry="0.97" transform="rotate(-82 413.7 298.8)"/><ellipse cx="410.7" cy="289.2" rx="1.55" ry="1.08" transform="rotate(-120 410.7 289.2)"/><ellipse cx="535.2" cy="310.1" rx="1.70" ry="1.19" transform="rotate(167 535.2 310.1)"/><ellipse cx="514.0" cy="221.7" rx="1.30" ry="0.91" transform="rotate(-144 514.0 221.7)"/><ellipse cx="510.4" cy="220.1" rx="1.68" ry="1.18" transform="rotate(177 510.4 220.1)"/><ellipse cx="433.9" cy="306.5" rx="1.30" ry="0.91" transform="rotate(127 433.9 306.5)"/><ellipse cx="428.5" cy="297.1" rx="1.32" ry="0.92" transform="rotate(0 428.5 297.1)"/><ellipse cx="510.2" cy="301.2" rx="1.26" ry="0.88" transform="rotate(-78 510.2 301.2)"/><ellipse cx="500.2" cy="300.6" rx="1.76" ry="1.23" transform="rotate(100 500.2 300.6)"/><ellipse cx="432.4" cy="226.2" rx="1.86" ry="1.30" transform="rotate(-14 432.4 226.2)"/><ellipse cx="491.7" cy="268.8" rx="1.51" ry="1.05" transform="rotate(166 491.7 268.8)"/><ellipse cx="495.0" cy="244.8" rx="1.49" ry="1.05" transform="rotate(14 495.0 244.8)"/><ellipse cx="500.6" cy="232.9" rx="1.35" ry="0.95" transform="rotate(-177 500.6 232.9)"/><ellipse cx="492.6" cy="242.9" rx="1.77" ry="1.24" transform="rotate(67 492.6 242.9)"/><ellipse cx="408.4" cy="216.5" rx="1.67" ry="1.17" transform="rotate(156 408.4 216.5)"/><ellipse cx="520.8" cy="320.1" rx="1.77" ry="1.24" transform="rotate(-117 520.8 320.1)"/><ellipse cx="538.0" cy="238.2" rx="1.46" ry="1.02" transform="rotate(142 538.0 238.2)"/><ellipse cx="415.4" cy="260.3" rx="1.20" ry="0.84" transform="rotate(45 415.4 260.3)"/><ellipse cx="477.6" cy="295.6" rx="1.17" ry="0.82" transform="rotate(-167 477.6 295.6)"/><ellipse cx="470.3" cy="287.0" rx="1.31" ry="0.91" transform="rotate(-47 470.3 287.0)"/><ellipse cx="447.5" cy="290.4" rx="1.87" ry="1.31" transform="rotate(111 447.5 290.4)"/><ellipse cx="444.8" cy="297.1" rx="1.60" ry="1.12" transform="rotate(146 444.8 297.1)"/><ellipse cx="528.6" cy="211.2" rx="1.67" ry="1.17" transform="rotate(-30 528.6 211.2)"/><ellipse cx="536.8" cy="224.9" rx="1.84" ry="1.29" transform="rotate(-179 536.8 224.9)"/><ellipse cx="485.7" cy="290.4" rx="1.52" ry="1.06" transform="rotate(0 485.7 290.4)"/><ellipse cx="449.2" cy="280.1" rx="1.29" ry="0.90" transform="rotate(135 449.2 280.1)"/><ellipse cx="410.1" cy="255.8" rx="1.61" ry="1.13" transform="rotate(174 410.1 255.8)"/><ellipse cx="401.0" cy="264.7" rx="1.52" ry="1.06" transform="rotate(90 401.0 264.7)"/><ellipse cx="430.8" cy="263.6" rx="1.47" ry="1.03" transform="rotate(68 430.8 263.6)"/><ellipse cx="503.1" cy="284.1" rx="1.64" ry="1.15" transform="rotate(-92 503.1 284.1)"/><ellipse cx="525.9" cy="251.7" rx="1.44" ry="1.01" transform="rotate(-161 525.9 251.7)"/><ellipse cx="470.5" cy="286.9" rx="1.27" ry="0.89" transform="rotate(133 470.5 286.9)"/><ellipse cx="461.0" cy="284.6" rx="1.15" ry="0.80" transform="rotate(-101 461.0 284.6)"/><ellipse cx="441.2" cy="295.7" rx="1.40" ry="0.98" transform="rotate(25 441.2 295.7)"/><ellipse cx="428.5" cy="276.7" rx="1.38" ry="0.97" transform="rotate(-133 428.5 276.7)"/><ellipse cx="417.5" cy="280.5" rx="1.27" ry="0.89" transform="rotate(96 417.5 280.5)"/><ellipse cx="429.6" cy="249.0" rx="1.40" ry="0.98" transform="rotate(-17 429.6 249.0)"/><ellipse cx="523.6" cy="223.6" rx="1.75" ry="1.22" transform="rotate(165 523.6 223.6)"/><ellipse cx="464.7" cy="235.0" rx="1.15" ry="0.81" transform="rotate(-112 464.7 235.0)"/><ellipse cx="431.2" cy="285.8" rx="1.83" ry="1.28" transform="rotate(-147 431.2 285.8)"/><ellipse cx="440.5" cy="277.6" rx="1.48" ry="1.04" transform="rotate(57 440.5 277.6)"/><ellipse cx="458.2" cy="292.3" rx="1.70" ry="1.19" transform="rotate(87 458.2 292.3)"/><ellipse cx="456.1" cy="299.1" rx="1.54" ry="1.08" transform="rotate(-169 456.1 299.1)"/><ellipse cx="424.1" cy="301.9" rx="1.50" ry="1.05" transform="rotate(-53 424.1 301.9)"/><ellipse cx="445.3" cy="212.9" rx="1.34" ry="0.93" transform="rotate(92 445.3 212.9)"/><ellipse cx="499.5" cy="265.0" rx="1.56" ry="1.09" transform="rotate(83 499.5 265.0)"/><ellipse cx="424.7" cy="214.1" rx="1.76" ry="1.23" transform="rotate(-43 424.7 214.1)"/><ellipse cx="468.5" cy="212.8" rx="1.20" ry="0.84" transform="rotate(138 468.5 212.8)"/></g>
<line x1="506.00" y1="299.40" x2="525.00" y2="299.40" stroke="#111" stroke-width="0.9"/>
<line x1="506.00" y1="297.20" x2="506.00" y2="301.60" stroke="#111" stroke-width="0.9"/>
<line x1="525.00" y1="297.20" x2="525.00" y2="301.60" stroke="#111" stroke-width="0.9"/>
<text x="515.50" y="303.60" font-size="3.6" text-anchor="middle" fill="#111">300µm</text>
</g></g>
<rect x="411.20" y="216.00" width="117.60" height="91.30" fill="none" stroke="#1c1c1c" stroke-width="1.0"/>
<clipPath id="c3"><rect x="287.3" y="317.6" width="116.70" height="94.40"/></clipPath>
<g clip-path="url(#c3)"><g filter="url(#bl)">
<rect x="285.30" y="315.60" width="120.70" height="98.40" fill="#8a5420"/>
<defs><radialGradient id="lob" cx="0.5" cy="0.5" r="0.5"><stop offset="0" stop-color="#6e4014"/><stop offset="0.75" stop-color="#7a4c1c"/><stop offset="1" stop-color="#885c24"/></radialGradient></defs>
<ellipse cx="372" cy="374" rx="40" ry="46" fill="url(#lob)"/>
<g fill="#b08a40"><circle cx="314.8" cy="327.3" r="1.20"/><circle cx="305.4" cy="323.9" r="1.20"/><circle cx="313.2" cy="368.3" r="1.08"/><circle cx="307.4" cy="327.6" r="1.01"/><circle cx="395.5" cy="395.9" r="1.61"/><circle cx="380.7" cy="335.9" r="1.11"/><circle cx="390.0" cy="325.8" r="1.41"/><circle cx="342.6" cy="326.0" r="1.73"/><circle cx="322.9" cy="394.3" r="0.84"/><circle cx="292.7" cy="376.7" r="1.08"/><circle cx="403.7" cy="336.1" r="1.21"/><circle cx="311.0" cy="377.3" r="1.08"/><circle cx="328.8" cy="388.1" r="1.12"/><circle cx="352.5" cy="403.0" r="0.90"/><circle cx="294.5" cy="339.2" r="1.57"/><circle cx="359.1" cy="340.0" r="1.13"/><circle cx="308.0" cy="360.9" r="0.84"/><circle cx="373.1" cy="408.2" r="0.82"/><circle cx="321.0" cy="408.8" r="1.58"/><circle cx="335.2" cy="406.6" r="1.42"/><circle cx="339.1" cy="330.5" r="1.18"/><circle cx="399.5" cy="348.9" r="0.81"/><circle cx="292.5" cy="333.6" r="1.58"/><circle cx="329.6" cy="345.0" r="0.90"/><circle cx="401.9" cy="357.6" r="1.01"/><circle cx="294.2" cy="322.8" r="0.97"/><circle cx="366.3" cy="331.7" r="0.84"/><circle cx="344.6" cy="341.1" r="1.80"/><circle cx="301.6" cy="367.6" r="1.57"/><circle cx="335.1" cy="410.8" r="1.28"/><circle cx="315.5" cy="356.4" r="0.84"/><circle cx="336.5" cy="341.1" r="1.69"/><circle cx="317.0" cy="340.5" r="1.01"/><circle cx="314.3" cy="399.7" r="0.94"/><circle cx="293.3" cy="405.2" r="1.37"/><circle cx="402.9" cy="355.6" r="1.70"/><circle cx="345.0" cy="326.4" r="1.01"/><circle cx="389.3" cy="402.5" r="1.72"/><circle cx="326.6" cy="379.6" r="1.60"/><circle cx="395.0" cy="407.9" r="0.87"/><circle cx="400.6" cy="408.4" r="1.47"/><circle cx="292.5" cy="402.5" r="0.93"/><circle cx="306.8" cy="377.6" r="1.37"/><circle cx="287.7" cy="404.7" r="0.81"/><circle cx="389.6" cy="328.5" r="1.61"/><circle cx="389.8" cy="336.6" r="1.47"/><circle cx="325.9" cy="401.8" r="1.57"/><circle cx="342.3" cy="367.3" r="0.83"/><circle cx="291.3" cy="373.7" r="1.29"/><circle cx="329.6" cy="390.1" r="1.32"/><circle cx="288.5" cy="396.7" r="1.63"/><circle cx="297.2" cy="368.9" r="1.18"/><circle cx="344.1" cy="408.8" r="0.90"/><circle cx="300.7" cy="376.2" r="1.69"/><circle cx="377.9" cy="323.9" r="1.68"/><circle cx="310.2" cy="346.1" r="1.64"/><circle cx="336.6" cy="393.0" r="0.97"/><circle cx="389.3" cy="334.2" r="0.95"/><circle cx="345.0" cy="349.6" r="1.34"/><circle cx="323.7" cy="369.0" r="1.29"/><circle cx="315.9" cy="397.6" r="1.16"/><circle cx="376.8" cy="410.7" r="1.43"/><circle cx="323.0" cy="399.5" r="1.59"/><circle cx="302.9" cy="325.4" r="0.94"/><circle cx="381.7" cy="334.4" r="1.70"/><circle cx="330.7" cy="372.0" r="1.15"/><circle cx="359.8" cy="326.4" r="1.20"/><circle cx="396.6" cy="334.6" r="1.45"/><circle cx="325.4" cy="346.0" r="0.82"/><circle cx="289.6" cy="407.2" r="1.63"/><circle cx="305.8" cy="372.7" r="1.30"/><circle cx="354.3" cy="406.1" r="1.56"/><circle cx="400.3" cy="328.6" r="1.45"/><circle cx="334.7" cy="374.1" r="1.70"/><circle cx="325.4" cy="376.8" r="1.80"/><circle cx="288.8" cy="335.0" r="1.34"/><circle cx="295.2" cy="409.5" r="1.79"/><circle cx="298.0" cy="341.9" r="1.02"/><circle cx="395.6" cy="401.9" r="1.58"/><circle cx="304.7" cy="340.1" r="1.10"/><circle cx="397.9" cy="333.0" r="1.59"/><circle cx="317.9" cy="367.1" r="0.96"/><circle cx="298.6" cy="320.6" r="1.12"/><circle cx="301.5" cy="323.4" r="1.79"/><circle cx="321.0" cy="401.6" r="1.50"/><circle cx="345.9" cy="332.2" r="1.64"/><circle cx="343.8" cy="324.0" r="0.97"/><circle cx="389.4" cy="341.8" r="1.19"/><circle cx="332.4" cy="357.5" r="0.83"/><circle cx="389.6" cy="319.4" r="1.76"/><circle cx="305.1" cy="332.4" r="1.65"/><circle cx="383.4" cy="339.5" r="1.35"/><circle cx="342.9" cy="385.4" r="0.99"/><circle cx="383.6" cy="411.7" r="1.51"/><circle cx="394.8" cy="406.1" r="1.18"/><circle cx="299.8" cy="376.1" r="1.71"/><circle cx="322.9" cy="378.7" r="1.70"/><circle cx="357.3" cy="321.1" r="1.43"/><circle cx="317.1" cy="398.6" r="1.46"/><circle cx="323.2" cy="402.1" r="1.43"/><circle cx="326.9" cy="396.3" r="1.69"/><circle cx="391.5" cy="401.0" r="1.46"/><circle cx="402.5" cy="350.9" r="0.88"/><circle cx="357.1" cy="341.2" r="1.00"/><circle cx="295.6" cy="391.4" r="1.71"/><circle cx="368.6" cy="328.6" r="1.78"/><circle cx="289.4" cy="386.8" r="0.83"/><circle cx="343.1" cy="331.3" r="1.16"/><circle cx="322.1" cy="354.3" r="1.40"/><circle cx="291.3" cy="356.5" r="1.77"/><circle cx="338.3" cy="334.1" r="0.82"/><circle cx="390.8" cy="405.6" r="1.08"/><circle cx="317.2" cy="365.8" r="0.83"/><circle cx="318.1" cy="344.7" r="1.71"/><circle cx="302.8" cy="389.2" r="0.89"/><circle cx="402.4" cy="333.3" r="0.89"/><circle cx="312.0" cy="405.7" r="1.47"/><circle cx="327.0" cy="360.6" r="1.79"/><circle cx="306.7" cy="340.6" r="1.64"/><circle cx="300.6" cy="409.3" r="1.10"/><circle cx="296.1" cy="397.5" r="0.98"/><circle cx="371.1" cy="320.2" r="1.57"/><circle cx="308.4" cy="337.1" r="0.83"/><circle cx="325.2" cy="348.6" r="1.78"/><circle cx="307.4" cy="337.9" r="1.76"/><circle cx="294.0" cy="402.9" r="1.50"/><circle cx="310.6" cy="330.6" r="1.28"/><circle cx="291.7" cy="332.0" r="1.02"/><circle cx="315.1" cy="371.8" r="0.99"/><circle cx="327.9" cy="410.3" r="1.01"/><circle cx="290.4" cy="335.6" r="1.63"/><circle cx="292.1" cy="346.5" r="1.52"/><circle cx="333.1" cy="330.8" r="1.18"/><circle cx="341.4" cy="351.2" r="1.25"/><circle cx="303.2" cy="320.4" r="1.58"/><circle cx="321.8" cy="370.3" r="1.69"/><circle cx="343.5" cy="409.5" r="1.33"/><circle cx="308.4" cy="375.7" r="1.40"/><circle cx="338.3" cy="393.1" r="0.94"/><circle cx="292.3" cy="334.9" r="1.09"/><circle cx="338.1" cy="347.3" r="1.43"/><circle cx="307.2" cy="350.2" r="1.48"/><circle cx="350.8" cy="408.1" r="1.74"/><circle cx="317.4" cy="349.2" r="1.34"/><circle cx="310.3" cy="362.1" r="0.92"/><circle cx="304.0" cy="384.7" r="1.40"/><circle cx="293.3" cy="395.0" r="1.67"/><circle cx="296.7" cy="406.5" r="1.58"/><circle cx="294.0" cy="362.5" r="1.67"/><circle cx="311.7" cy="362.2" r="1.08"/><circle cx="367.9" cy="408.2" r="1.69"/><circle cx="320.9" cy="357.0" r="0.80"/><circle cx="349.1" cy="398.2" r="1.64"/><circle cx="295.7" cy="358.5" r="0.88"/><circle cx="336.8" cy="403.8" r="1.08"/><circle cx="386.0" cy="407.8" r="1.62"/><circle cx="310.9" cy="404.3" r="1.72"/><circle cx="403.8" cy="318.6" r="0.80"/><circle cx="321.3" cy="366.5" r="1.22"/><circle cx="298.1" cy="378.1" r="1.47"/><circle cx="367.8" cy="323.7" r="1.24"/><circle cx="303.1" cy="327.4" r="1.56"/><circle cx="325.1" cy="349.6" r="1.08"/><circle cx="355.8" cy="328.8" r="1.44"/><circle cx="295.5" cy="407.8" r="0.96"/><circle cx="322.8" cy="351.5" r="1.56"/><circle cx="360.2" cy="333.7" r="1.28"/><circle cx="353.8" cy="335.9" r="1.76"/><circle cx="340.0" cy="349.0" r="1.10"/><circle cx="324.2" cy="345.9" r="1.12"/><circle cx="311.7" cy="363.3" r="1.09"/><circle cx="330.3" cy="380.2" r="1.12"/><circle cx="384.7" cy="334.3" r="0.90"/><circle cx="403.4" cy="320.7" r="0.81"/><circle cx="388.5" cy="317.8" r="1.46"/><circle cx="352.2" cy="338.6" r="1.05"/><circle cx="400.2" cy="354.7" r="1.04"/><circle cx="338.8" cy="386.7" r="1.09"/><circle cx="297.7" cy="392.2" r="0.90"/><circle cx="293.8" cy="318.0" r="1.79"/><circle cx="338.0" cy="387.2" r="1.36"/><circle cx="401.1" cy="350.0" r="1.15"/><circle cx="366.9" cy="317.7" r="1.16"/><circle cx="333.1" cy="325.8" r="1.19"/><circle cx="311.9" cy="320.2" r="1.09"/><circle cx="302.0" cy="360.7" r="1.54"/></g>
<g fill="#4a3038"><circle cx="365.4" cy="401.5" r="0.70"/><circle cx="393.9" cy="327.3" r="0.96"/><circle cx="390.1" cy="410.1" r="0.92"/><circle cx="370.3" cy="358.7" r="0.86"/><circle cx="389.8" cy="372.0" r="0.81"/><circle cx="395.2" cy="344.5" r="0.67"/><circle cx="291.4" cy="400.5" r="0.81"/><circle cx="365.8" cy="340.1" r="0.59"/><circle cx="343.2" cy="400.4" r="0.68"/><circle cx="336.5" cy="357.0" r="0.92"/><circle cx="301.8" cy="399.3" r="0.51"/><circle cx="368.9" cy="389.7" r="0.73"/><circle cx="373.9" cy="344.1" r="0.57"/><circle cx="329.3" cy="342.6" r="0.86"/><circle cx="353.1" cy="380.0" r="0.99"/><circle cx="377.5" cy="392.3" r="0.98"/><circle cx="395.7" cy="387.6" r="0.67"/><circle cx="346.6" cy="388.9" r="0.89"/><circle cx="392.3" cy="387.7" r="0.83"/><circle cx="317.0" cy="376.3" r="0.59"/><circle cx="362.8" cy="334.2" r="0.51"/><circle cx="398.8" cy="399.7" r="0.65"/><circle cx="292.5" cy="394.9" r="0.89"/><circle cx="305.4" cy="394.7" r="0.92"/><circle cx="354.3" cy="343.5" r="0.53"/><circle cx="294.7" cy="359.2" r="0.86"/><circle cx="361.8" cy="338.8" r="0.90"/><circle cx="294.7" cy="375.6" r="0.59"/><circle cx="287.9" cy="335.9" r="0.90"/><circle cx="312.9" cy="318.9" r="0.74"/><circle cx="328.0" cy="371.8" r="0.79"/><circle cx="369.9" cy="404.0" r="0.67"/><circle cx="361.4" cy="328.8" r="0.63"/><circle cx="298.5" cy="399.0" r="0.67"/><circle cx="370.2" cy="400.4" r="0.69"/><circle cx="311.4" cy="341.0" r="0.74"/><circle cx="332.5" cy="324.2" r="0.93"/><circle cx="361.9" cy="399.9" r="0.92"/><circle cx="372.0" cy="395.4" r="0.85"/><circle cx="337.3" cy="394.9" r="0.96"/><circle cx="299.8" cy="331.2" r="0.58"/><circle cx="340.5" cy="399.2" r="0.76"/><circle cx="387.1" cy="352.2" r="0.78"/><circle cx="316.1" cy="378.0" r="0.64"/><circle cx="288.2" cy="355.2" r="0.78"/><circle cx="390.1" cy="344.6" r="0.96"/><circle cx="382.0" cy="332.5" r="0.89"/><circle cx="396.5" cy="408.4" r="0.85"/><circle cx="332.9" cy="368.9" r="0.83"/><circle cx="358.8" cy="335.5" r="0.94"/><circle cx="350.4" cy="324.3" r="0.65"/><circle cx="296.7" cy="361.1" r="0.55"/><circle cx="349.1" cy="343.9" r="0.91"/><circle cx="377.0" cy="335.3" r="0.91"/><circle cx="355.2" cy="343.1" r="0.96"/><circle cx="288.0" cy="355.3" r="0.80"/><circle cx="306.3" cy="364.0" r="0.94"/><circle cx="327.4" cy="384.5" r="0.60"/><circle cx="401.1" cy="408.6" r="0.58"/><circle cx="376.5" cy="349.1" r="0.52"/><circle cx="311.9" cy="386.4" r="0.73"/><circle cx="349.1" cy="329.7" r="0.59"/><circle cx="329.9" cy="366.1" r="0.91"/><circle cx="339.7" cy="348.6" r="0.96"/><circle cx="367.9" cy="389.0" r="0.90"/><circle cx="343.9" cy="342.2" r="0.56"/><circle cx="364.0" cy="388.3" r="0.95"/><circle cx="394.6" cy="365.1" r="0.74"/><circle cx="399.9" cy="325.7" r="0.69"/><circle cx="351.0" cy="374.4" r="0.81"/><circle cx="305.8" cy="365.6" r="0.59"/><circle cx="332.1" cy="334.5" r="0.66"/><circle cx="360.5" cy="355.3" r="0.58"/><circle cx="342.0" cy="380.8" r="0.65"/><circle cx="319.0" cy="358.8" r="0.85"/><circle cx="291.5" cy="381.1" r="0.53"/><circle cx="391.1" cy="335.6" r="0.91"/><circle cx="291.3" cy="364.2" r="0.63"/><circle cx="377.9" cy="390.4" r="0.56"/><circle cx="293.3" cy="386.5" r="0.71"/><circle cx="330.8" cy="350.5" r="0.68"/><circle cx="354.6" cy="354.2" r="0.56"/><circle cx="342.3" cy="410.9" r="0.88"/><circle cx="371.1" cy="405.2" r="0.72"/><circle cx="329.6" cy="392.4" r="0.55"/><circle cx="376.8" cy="331.6" r="0.81"/><circle cx="347.3" cy="390.5" r="0.53"/><circle cx="365.7" cy="395.7" r="0.52"/><circle cx="367.1" cy="344.0" r="0.87"/><circle cx="401.5" cy="317.9" r="0.70"/><circle cx="345.6" cy="410.2" r="0.96"/><circle cx="290.7" cy="330.5" r="0.70"/><circle cx="381.1" cy="392.1" r="0.78"/><circle cx="394.8" cy="395.0" r="0.94"/><circle cx="361.3" cy="342.1" r="0.87"/><circle cx="370.9" cy="405.2" r="0.59"/><circle cx="289.9" cy="349.8" r="0.63"/><circle cx="332.5" cy="323.2" r="0.81"/><circle cx="337.2" cy="342.6" r="0.55"/><circle cx="354.3" cy="327.0" r="0.93"/><circle cx="319.6" cy="402.4" r="0.56"/><circle cx="332.8" cy="391.1" r="0.76"/><circle cx="339.6" cy="400.8" r="0.58"/><circle cx="386.6" cy="366.2" r="0.64"/><circle cx="328.1" cy="343.9" r="0.82"/><circle cx="338.7" cy="366.5" r="0.82"/><circle cx="387.6" cy="383.5" r="0.65"/><circle cx="365.0" cy="382.9" r="0.95"/><circle cx="332.4" cy="367.8" r="0.88"/><circle cx="326.3" cy="348.4" r="0.81"/><circle cx="330.9" cy="397.6" r="0.67"/><circle cx="313.0" cy="375.2" r="0.80"/><circle cx="402.9" cy="406.6" r="0.71"/><circle cx="339.7" cy="379.1" r="0.75"/><circle cx="355.9" cy="355.5" r="0.93"/><circle cx="391.4" cy="392.2" r="0.87"/><circle cx="390.9" cy="341.7" r="0.97"/><circle cx="310.8" cy="327.2" r="0.75"/><circle cx="305.7" cy="341.8" r="0.80"/><circle cx="304.6" cy="355.1" r="0.68"/><circle cx="397.4" cy="325.0" r="0.75"/><circle cx="341.9" cy="332.9" r="0.67"/><circle cx="329.7" cy="351.4" r="0.78"/><circle cx="352.2" cy="361.6" r="0.72"/><circle cx="358.4" cy="363.4" r="0.56"/><circle cx="363.9" cy="356.2" r="0.93"/><circle cx="302.7" cy="369.1" r="0.65"/><circle cx="361.1" cy="394.8" r="0.82"/><circle cx="354.0" cy="405.5" r="0.61"/><circle cx="403.5" cy="359.0" r="0.82"/><circle cx="302.4" cy="320.4" r="0.58"/><circle cx="350.7" cy="340.3" r="0.90"/><circle cx="305.4" cy="380.2" r="0.95"/><circle cx="368.2" cy="404.7" r="0.91"/><circle cx="387.4" cy="321.4" r="0.76"/><circle cx="322.2" cy="359.0" r="0.86"/><circle cx="372.6" cy="336.9" r="0.59"/><circle cx="295.5" cy="387.4" r="0.91"/><circle cx="298.0" cy="330.5" r="0.57"/><circle cx="402.9" cy="324.3" r="0.79"/><circle cx="389.6" cy="333.7" r="0.84"/><circle cx="326.9" cy="378.1" r="0.73"/><circle cx="304.7" cy="402.3" r="0.75"/><circle cx="401.9" cy="373.8" r="0.98"/><circle cx="363.7" cy="323.0" r="0.50"/><circle cx="403.1" cy="380.5" r="0.90"/><circle cx="385.1" cy="351.7" r="0.85"/><circle cx="362.8" cy="323.3" r="0.77"/><circle cx="395.8" cy="370.1" r="0.89"/><circle cx="295.1" cy="356.8" r="0.75"/><circle cx="352.1" cy="397.5" r="0.75"/><circle cx="353.4" cy="366.5" r="0.84"/><circle cx="355.0" cy="354.9" r="0.64"/><circle cx="388.1" cy="351.1" r="0.86"/><circle cx="319.0" cy="410.8" r="0.61"/><circle cx="336.3" cy="352.4" r="0.94"/><circle cx="372.7" cy="342.4" r="0.62"/><circle cx="374.0" cy="359.8" r="0.59"/><circle cx="300.9" cy="385.7" r="0.83"/><circle cx="381.4" cy="324.9" r="0.74"/><circle cx="304.2" cy="371.4" r="0.61"/><circle cx="314.1" cy="370.6" r="0.58"/><circle cx="380.0" cy="333.3" r="0.63"/><circle cx="375.4" cy="342.5" r="0.65"/><circle cx="378.7" cy="370.7" r="0.91"/><circle cx="388.7" cy="408.5" r="0.54"/><circle cx="333.1" cy="360.5" r="0.64"/><circle cx="388.5" cy="354.8" r="0.96"/><circle cx="295.5" cy="359.5" r="0.81"/><circle cx="379.1" cy="363.2" r="0.95"/><circle cx="322.0" cy="351.2" r="0.60"/><circle cx="309.4" cy="363.5" r="0.87"/><circle cx="309.8" cy="363.7" r="0.72"/><circle cx="402.0" cy="364.1" r="0.90"/><circle cx="314.7" cy="402.1" r="0.51"/><circle cx="305.0" cy="377.5" r="0.77"/><circle cx="348.8" cy="376.4" r="0.67"/><circle cx="364.6" cy="355.1" r="0.79"/><circle cx="370.6" cy="346.8" r="0.88"/><circle cx="383.6" cy="410.9" r="0.53"/><circle cx="337.0" cy="333.1" r="0.58"/><circle cx="342.5" cy="391.0" r="0.56"/><circle cx="380.1" cy="397.3" r="0.98"/><circle cx="375.6" cy="337.4" r="0.86"/><circle cx="354.3" cy="343.4" r="0.90"/><circle cx="326.0" cy="396.9" r="0.94"/><circle cx="333.6" cy="330.4" r="0.91"/><circle cx="305.6" cy="328.9" r="0.94"/><circle cx="315.0" cy="342.2" r="0.70"/><circle cx="371.7" cy="336.0" r="0.66"/><circle cx="295.1" cy="341.8" r="0.87"/><circle cx="361.9" cy="374.2" r="0.95"/><circle cx="290.9" cy="344.2" r="0.82"/><circle cx="329.2" cy="409.8" r="0.61"/><circle cx="399.3" cy="386.7" r="0.84"/><circle cx="397.2" cy="358.5" r="0.67"/><circle cx="338.2" cy="387.0" r="0.91"/><circle cx="360.9" cy="392.4" r="0.83"/><circle cx="378.1" cy="329.7" r="0.91"/><circle cx="349.6" cy="348.5" r="0.56"/><circle cx="358.1" cy="338.3" r="0.68"/><circle cx="351.0" cy="337.3" r="0.62"/><circle cx="296.2" cy="350.5" r="0.91"/><circle cx="315.8" cy="342.8" r="0.57"/><circle cx="358.1" cy="387.6" r="0.59"/><circle cx="383.1" cy="318.6" r="0.56"/><circle cx="298.3" cy="391.9" r="0.54"/><circle cx="372.6" cy="337.3" r="0.65"/><circle cx="298.9" cy="394.2" r="0.69"/><circle cx="395.8" cy="383.1" r="0.78"/><circle cx="341.1" cy="370.7" r="0.79"/><circle cx="400.4" cy="338.4" r="0.59"/><circle cx="403.8" cy="382.5" r="0.82"/><circle cx="342.0" cy="318.8" r="0.61"/><circle cx="380.9" cy="343.2" r="0.80"/><circle cx="344.3" cy="333.9" r="0.53"/><circle cx="295.0" cy="384.9" r="0.62"/><circle cx="346.9" cy="372.1" r="0.88"/><circle cx="305.9" cy="357.9" r="0.88"/><circle cx="364.9" cy="362.4" r="0.82"/><circle cx="379.1" cy="400.4" r="0.76"/><circle cx="299.1" cy="329.8" r="0.83"/><circle cx="366.7" cy="359.6" r="0.85"/><circle cx="312.7" cy="354.8" r="0.69"/><circle cx="374.8" cy="408.8" r="0.64"/><circle cx="298.9" cy="352.5" r="0.93"/><circle cx="403.4" cy="323.0" r="0.67"/><circle cx="342.9" cy="402.0" r="0.78"/><circle cx="337.2" cy="409.5" r="0.87"/><circle cx="392.1" cy="394.1" r="0.99"/><circle cx="367.1" cy="391.3" r="0.75"/><circle cx="366.5" cy="406.1" r="0.97"/><circle cx="392.4" cy="381.4" r="0.75"/><circle cx="336.0" cy="354.6" r="0.98"/><circle cx="365.1" cy="393.0" r="0.83"/><circle cx="299.1" cy="359.9" r="0.67"/><circle cx="400.3" cy="382.5" r="0.68"/><circle cx="347.1" cy="401.9" r="0.76"/><circle cx="369.7" cy="351.8" r="0.71"/><circle cx="376.7" cy="336.4" r="0.84"/><circle cx="385.5" cy="411.5" r="0.76"/><circle cx="358.9" cy="411.4" r="0.90"/><circle cx="388.7" cy="367.2" r="0.57"/><circle cx="383.8" cy="326.5" r="0.86"/><circle cx="321.3" cy="393.9" r="0.82"/><circle cx="346.9" cy="362.9" r="0.65"/><circle cx="403.9" cy="370.1" r="0.98"/><circle cx="301.2" cy="319.9" r="0.59"/><circle cx="324.6" cy="410.6" r="0.56"/><circle cx="348.2" cy="398.4" r="0.65"/><circle cx="321.3" cy="337.7" r="0.53"/><circle cx="355.2" cy="370.6" r="0.61"/><circle cx="352.8" cy="365.0" r="0.85"/><circle cx="315.8" cy="339.1" r="0.94"/><circle cx="367.5" cy="389.1" r="0.67"/><circle cx="355.3" cy="353.4" r="0.84"/><circle cx="398.9" cy="363.6" r="0.73"/><circle cx="369.1" cy="364.4" r="0.68"/><circle cx="289.9" cy="394.9" r="0.75"/><circle cx="386.2" cy="350.0" r="0.94"/><circle cx="381.5" cy="339.6" r="0.89"/><circle cx="292.2" cy="378.5" r="0.89"/><circle cx="371.5" cy="345.1" r="0.68"/><circle cx="308.5" cy="402.3" r="0.80"/><circle cx="378.5" cy="363.9" r="0.72"/><circle cx="397.2" cy="405.9" r="0.87"/><circle cx="363.2" cy="401.6" r="0.66"/><circle cx="324.6" cy="391.9" r="0.84"/><circle cx="376.5" cy="385.1" r="0.70"/><circle cx="301.0" cy="390.6" r="0.94"/><circle cx="349.3" cy="347.6" r="0.92"/><circle cx="309.3" cy="335.8" r="0.79"/><circle cx="343.2" cy="389.3" r="0.51"/><circle cx="396.1" cy="344.1" r="0.75"/><circle cx="290.4" cy="353.0" r="0.75"/><circle cx="397.7" cy="335.7" r="0.56"/><circle cx="388.3" cy="404.6" r="0.75"/><circle cx="347.6" cy="400.7" r="0.73"/><circle cx="339.9" cy="358.5" r="0.62"/><circle cx="319.4" cy="352.2" r="0.53"/><circle cx="341.4" cy="391.2" r="0.94"/><circle cx="302.0" cy="352.0" r="0.93"/><circle cx="398.9" cy="347.5" r="0.59"/><circle cx="385.3" cy="345.5" r="0.83"/><circle cx="395.3" cy="341.4" r="0.65"/><circle cx="353.8" cy="325.6" r="0.75"/><circle cx="354.5" cy="358.4" r="0.87"/><circle cx="365.1" cy="372.4" r="0.91"/><circle cx="304.0" cy="334.4" r="0.64"/><circle cx="307.7" cy="402.3" r="0.93"/><circle cx="391.8" cy="354.5" r="0.93"/><circle cx="396.3" cy="390.1" r="0.92"/><circle cx="367.3" cy="318.8" r="0.66"/><circle cx="317.4" cy="367.6" r="0.78"/><circle cx="394.4" cy="342.1" r="0.99"/><circle cx="305.1" cy="391.7" r="0.66"/><circle cx="353.0" cy="375.9" r="0.52"/><circle cx="354.8" cy="379.9" r="0.63"/><circle cx="298.2" cy="374.7" r="0.63"/><circle cx="307.9" cy="340.3" r="0.79"/><circle cx="342.0" cy="353.8" r="0.56"/><circle cx="312.9" cy="375.5" r="0.70"/><circle cx="308.7" cy="394.8" r="0.77"/><circle cx="327.6" cy="409.3" r="0.77"/><circle cx="305.1" cy="362.8" r="0.63"/><circle cx="386.0" cy="391.2" r="0.54"/><circle cx="303.3" cy="381.2" r="0.75"/><circle cx="323.7" cy="363.7" r="0.57"/><circle cx="342.0" cy="371.2" r="0.97"/><circle cx="358.8" cy="372.0" r="0.52"/><circle cx="346.2" cy="370.7" r="0.83"/><circle cx="323.9" cy="406.6" r="0.85"/><circle cx="371.5" cy="409.9" r="0.98"/><circle cx="302.4" cy="402.4" r="0.77"/><circle cx="357.8" cy="319.6" r="0.53"/><circle cx="380.2" cy="352.2" r="0.99"/><circle cx="397.7" cy="368.6" r="0.79"/><circle cx="356.8" cy="368.5" r="0.91"/><circle cx="402.4" cy="349.2" r="0.71"/><circle cx="333.1" cy="325.0" r="0.58"/><circle cx="308.5" cy="387.8" r="0.59"/><circle cx="356.9" cy="409.8" r="0.70"/><circle cx="403.9" cy="341.2" r="0.68"/><circle cx="304.0" cy="332.1" r="0.70"/><circle cx="377.7" cy="379.4" r="0.61"/><circle cx="294.9" cy="324.8" r="0.67"/><circle cx="351.4" cy="317.7" r="0.55"/><circle cx="365.1" cy="339.6" r="0.52"/><circle cx="381.9" cy="324.7" r="0.87"/><circle cx="293.4" cy="398.9" r="0.74"/><circle cx="326.7" cy="337.6" r="0.91"/><circle cx="335.9" cy="370.2" r="0.66"/><circle cx="308.2" cy="346.7" r="0.63"/><circle cx="373.8" cy="395.3" r="0.89"/><circle cx="321.7" cy="349.5" r="0.97"/><circle cx="341.2" cy="372.3" r="0.53"/><circle cx="377.9" cy="359.4" r="0.61"/><circle cx="342.8" cy="336.6" r="0.68"/><circle cx="329.4" cy="358.8" r="0.67"/><circle cx="307.0" cy="396.2" r="0.77"/><circle cx="331.4" cy="377.0" r="0.55"/><circle cx="321.8" cy="351.2" r="0.74"/><circle cx="388.0" cy="359.6" r="0.70"/><circle cx="357.5" cy="390.7" r="0.66"/><circle cx="366.5" cy="351.8" r="0.51"/><circle cx="295.9" cy="322.4" r="0.70"/><circle cx="313.2" cy="370.7" r="0.87"/><circle cx="339.9" cy="386.5" r="0.65"/><circle cx="309.4" cy="395.4" r="0.78"/><circle cx="312.7" cy="351.4" r="0.94"/><circle cx="294.4" cy="398.2" r="0.56"/><circle cx="389.7" cy="368.1" r="0.56"/><circle cx="319.4" cy="354.8" r="0.80"/><circle cx="379.4" cy="397.2" r="0.61"/><circle cx="355.0" cy="390.6" r="0.60"/><circle cx="381.7" cy="340.4" r="0.80"/><circle cx="345.5" cy="368.1" r="0.93"/><circle cx="303.5" cy="342.2" r="0.98"/><circle cx="360.7" cy="402.7" r="0.61"/><circle cx="324.7" cy="372.6" r="0.89"/><circle cx="346.9" cy="324.7" r="0.72"/><circle cx="377.0" cy="400.8" r="0.54"/><circle cx="333.1" cy="403.6" r="0.87"/><circle cx="359.3" cy="333.3" r="0.75"/><circle cx="336.1" cy="365.0" r="0.75"/><circle cx="297.9" cy="394.2" r="0.72"/><circle cx="309.4" cy="375.8" r="0.66"/><circle cx="302.1" cy="372.6" r="0.51"/><circle cx="394.3" cy="371.4" r="0.63"/><circle cx="396.6" cy="372.5" r="0.51"/><circle cx="371.7" cy="322.6" r="0.64"/><circle cx="353.8" cy="379.9" r="0.98"/><circle cx="382.7" cy="334.5" r="0.77"/><circle cx="299.2" cy="384.0" r="0.71"/><circle cx="363.5" cy="324.0" r="0.75"/><circle cx="338.2" cy="321.7" r="0.83"/><circle cx="401.6" cy="388.1" r="0.98"/><circle cx="298.6" cy="378.0" r="0.79"/><circle cx="340.0" cy="393.3" r="0.71"/><circle cx="297.5" cy="377.4" r="0.93"/><circle cx="330.5" cy="376.9" r="0.57"/><circle cx="401.3" cy="410.0" r="0.51"/><circle cx="362.3" cy="405.3" r="0.76"/><circle cx="296.7" cy="386.4" r="0.75"/><circle cx="327.2" cy="323.1" r="0.61"/><circle cx="382.7" cy="362.0" r="0.77"/><circle cx="362.3" cy="353.5" r="0.88"/><circle cx="371.8" cy="319.5" r="0.82"/><circle cx="290.4" cy="365.3" r="0.96"/><circle cx="384.0" cy="346.2" r="0.97"/><circle cx="307.5" cy="383.9" r="0.88"/><circle cx="291.9" cy="342.0" r="0.77"/><circle cx="403.6" cy="333.2" r="0.73"/><circle cx="391.8" cy="333.9" r="0.92"/><circle cx="374.0" cy="392.7" r="0.67"/><circle cx="357.8" cy="331.5" r="0.64"/><circle cx="381.8" cy="328.3" r="0.77"/><circle cx="297.2" cy="393.8" r="0.82"/><circle cx="301.5" cy="400.9" r="0.83"/><circle cx="362.5" cy="324.9" r="0.91"/><circle cx="368.9" cy="353.9" r="0.54"/><circle cx="377.4" cy="338.4" r="0.89"/><circle cx="355.5" cy="352.7" r="0.72"/><circle cx="320.2" cy="365.6" r="0.94"/><circle cx="353.1" cy="354.2" r="0.85"/><circle cx="400.9" cy="335.0" r="0.78"/><circle cx="391.0" cy="369.8" r="0.62"/><circle cx="309.0" cy="384.2" r="0.79"/><circle cx="296.4" cy="327.6" r="0.65"/><circle cx="351.6" cy="359.1" r="0.65"/><circle cx="315.9" cy="373.3" r="0.89"/><circle cx="331.1" cy="361.0" r="0.85"/><circle cx="329.9" cy="390.7" r="0.50"/><circle cx="318.1" cy="372.1" r="0.56"/><circle cx="292.0" cy="375.9" r="0.78"/><circle cx="363.3" cy="397.7" r="0.66"/><circle cx="393.1" cy="398.7" r="0.98"/><circle cx="322.9" cy="323.6" r="0.89"/><circle cx="309.7" cy="323.1" r="0.86"/><circle cx="368.6" cy="380.9" r="0.55"/></g>
<g fill="#6a3a14"><circle cx="370.6" cy="340.7" r="1.00"/><circle cx="366.2" cy="350.7" r="0.89"/><circle cx="384.5" cy="379.3" r="1.27"/><circle cx="293.2" cy="390.9" r="0.75"/><circle cx="325.0" cy="378.9" r="1.23"/><circle cx="361.9" cy="365.4" r="1.03"/><circle cx="357.8" cy="337.7" r="0.90"/><circle cx="337.7" cy="327.7" r="0.94"/><circle cx="368.0" cy="318.4" r="0.87"/><circle cx="396.1" cy="403.1" r="0.70"/><circle cx="393.4" cy="404.2" r="1.11"/><circle cx="312.1" cy="361.7" r="0.72"/><circle cx="351.4" cy="327.0" r="0.91"/><circle cx="303.8" cy="381.7" r="0.88"/><circle cx="386.4" cy="395.7" r="0.72"/><circle cx="372.6" cy="387.0" r="0.82"/><circle cx="383.7" cy="323.3" r="0.86"/><circle cx="367.8" cy="393.7" r="1.36"/><circle cx="352.5" cy="386.6" r="1.36"/><circle cx="396.4" cy="348.4" r="0.95"/><circle cx="377.4" cy="366.9" r="0.66"/><circle cx="393.4" cy="354.2" r="0.73"/><circle cx="326.3" cy="320.2" r="1.33"/><circle cx="303.6" cy="317.6" r="1.37"/><circle cx="323.2" cy="376.4" r="0.89"/><circle cx="326.9" cy="404.9" r="1.19"/><circle cx="326.5" cy="395.6" r="1.22"/><circle cx="388.5" cy="357.4" r="0.94"/><circle cx="392.4" cy="361.2" r="0.89"/><circle cx="359.5" cy="383.4" r="1.02"/><circle cx="296.1" cy="411.1" r="0.75"/><circle cx="355.5" cy="348.5" r="0.64"/><circle cx="314.5" cy="356.4" r="0.64"/><circle cx="298.4" cy="366.4" r="0.92"/><circle cx="293.6" cy="347.3" r="0.78"/><circle cx="387.4" cy="405.0" r="1.30"/><circle cx="391.8" cy="362.8" r="0.78"/><circle cx="360.9" cy="338.7" r="1.34"/><circle cx="312.9" cy="372.6" r="1.09"/><circle cx="298.9" cy="386.6" r="0.98"/><circle cx="368.6" cy="368.8" r="1.22"/><circle cx="300.2" cy="338.4" r="1.14"/><circle cx="298.1" cy="355.6" r="1.17"/><circle cx="303.6" cy="355.6" r="1.16"/><circle cx="311.3" cy="346.8" r="1.01"/><circle cx="386.8" cy="366.7" r="1.28"/><circle cx="343.1" cy="328.0" r="1.32"/><circle cx="338.3" cy="330.1" r="1.05"/><circle cx="338.4" cy="317.8" r="0.84"/><circle cx="302.3" cy="355.1" r="0.86"/><circle cx="397.7" cy="322.0" r="0.84"/><circle cx="290.5" cy="353.5" r="0.88"/><circle cx="324.8" cy="335.3" r="0.85"/><circle cx="384.7" cy="402.9" r="1.02"/><circle cx="354.4" cy="340.9" r="1.36"/><circle cx="289.9" cy="365.3" r="1.02"/><circle cx="346.7" cy="405.3" r="1.08"/><circle cx="300.9" cy="327.8" r="1.07"/><circle cx="289.2" cy="353.9" r="1.22"/><circle cx="341.6" cy="411.5" r="0.97"/><circle cx="327.0" cy="326.0" r="0.96"/><circle cx="336.3" cy="385.3" r="1.07"/><circle cx="388.9" cy="362.4" r="0.94"/><circle cx="299.6" cy="388.0" r="0.86"/><circle cx="341.5" cy="380.0" r="1.04"/><circle cx="308.8" cy="380.7" r="0.72"/><circle cx="393.4" cy="411.6" r="1.39"/><circle cx="343.5" cy="351.1" r="1.05"/><circle cx="376.6" cy="338.8" r="1.11"/><circle cx="327.0" cy="353.3" r="0.65"/><circle cx="371.9" cy="349.5" r="1.05"/><circle cx="349.4" cy="399.4" r="1.18"/><circle cx="373.7" cy="405.7" r="1.27"/><circle cx="304.6" cy="399.6" r="1.30"/><circle cx="309.3" cy="344.0" r="1.21"/><circle cx="390.7" cy="323.7" r="1.22"/><circle cx="389.0" cy="359.9" r="0.78"/><circle cx="316.4" cy="340.1" r="1.28"/><circle cx="375.7" cy="342.0" r="1.20"/><circle cx="382.7" cy="342.4" r="1.32"/><circle cx="359.0" cy="323.7" r="0.92"/><circle cx="327.0" cy="336.1" r="1.10"/><circle cx="337.1" cy="407.2" r="0.96"/><circle cx="353.7" cy="402.6" r="0.60"/><circle cx="323.8" cy="403.0" r="1.12"/><circle cx="385.1" cy="323.9" r="1.23"/><circle cx="317.6" cy="347.4" r="0.88"/><circle cx="348.8" cy="397.5" r="1.13"/><circle cx="368.2" cy="339.2" r="1.16"/><circle cx="331.3" cy="396.2" r="1.09"/><circle cx="307.5" cy="354.6" r="1.13"/><circle cx="362.8" cy="338.8" r="0.77"/><circle cx="373.7" cy="326.2" r="1.02"/><circle cx="378.3" cy="336.8" r="0.62"/><circle cx="400.0" cy="395.0" r="1.17"/><circle cx="374.3" cy="393.9" r="0.98"/><circle cx="393.8" cy="408.0" r="1.16"/><circle cx="372.8" cy="322.5" r="0.74"/><circle cx="351.6" cy="391.6" r="0.63"/><circle cx="391.5" cy="403.3" r="0.63"/><circle cx="371.6" cy="384.7" r="0.84"/><circle cx="353.3" cy="334.5" r="0.94"/><circle cx="392.6" cy="357.0" r="0.99"/><circle cx="325.5" cy="382.1" r="1.00"/><circle cx="332.2" cy="367.7" r="1.10"/><circle cx="395.9" cy="346.1" r="0.75"/><circle cx="315.4" cy="341.4" r="1.03"/><circle cx="301.3" cy="334.8" r="0.96"/><circle cx="288.2" cy="354.1" r="1.32"/><circle cx="319.9" cy="373.0" r="1.14"/><circle cx="368.6" cy="408.5" r="1.01"/><circle cx="310.4" cy="386.8" r="0.71"/><circle cx="337.4" cy="322.8" r="0.77"/><circle cx="320.0" cy="374.6" r="1.31"/><circle cx="295.9" cy="407.6" r="0.85"/><circle cx="320.8" cy="320.6" r="0.84"/><circle cx="287.4" cy="352.3" r="1.17"/><circle cx="349.4" cy="340.1" r="1.37"/><circle cx="390.7" cy="375.8" r="0.82"/><circle cx="332.0" cy="324.6" r="1.20"/><circle cx="361.3" cy="382.7" r="1.13"/><circle cx="342.4" cy="364.8" r="0.89"/><circle cx="320.8" cy="324.8" r="1.08"/><circle cx="353.3" cy="404.0" r="0.95"/><circle cx="402.6" cy="324.5" r="0.99"/><circle cx="345.3" cy="373.2" r="1.30"/><circle cx="352.9" cy="380.8" r="1.28"/><circle cx="401.3" cy="328.9" r="1.26"/><circle cx="333.2" cy="385.1" r="1.24"/><circle cx="298.3" cy="322.6" r="1.31"/><circle cx="349.4" cy="395.3" r="0.70"/><circle cx="348.9" cy="370.6" r="0.68"/><circle cx="362.7" cy="342.1" r="1.10"/><circle cx="305.5" cy="382.8" r="1.06"/><circle cx="373.5" cy="378.3" r="1.23"/><circle cx="287.7" cy="326.5" r="0.92"/><circle cx="335.0" cy="363.9" r="1.09"/><circle cx="326.7" cy="344.9" r="0.83"/><circle cx="325.5" cy="364.9" r="1.33"/><circle cx="311.1" cy="392.8" r="1.15"/><circle cx="336.8" cy="374.0" r="1.13"/><circle cx="386.2" cy="323.1" r="1.06"/><circle cx="339.0" cy="344.1" r="1.30"/><circle cx="319.4" cy="380.3" r="1.21"/><circle cx="384.7" cy="330.9" r="1.08"/><circle cx="311.6" cy="392.4" r="0.61"/><circle cx="335.1" cy="400.6" r="0.63"/><circle cx="319.6" cy="380.3" r="0.77"/><circle cx="400.0" cy="345.7" r="0.99"/><circle cx="334.9" cy="373.6" r="0.68"/><circle cx="353.0" cy="368.9" r="0.70"/><circle cx="313.0" cy="321.9" r="0.99"/><circle cx="315.2" cy="366.5" r="1.09"/><circle cx="355.9" cy="339.9" r="1.06"/><circle cx="363.4" cy="370.3" r="0.61"/><circle cx="287.9" cy="344.9" r="1.08"/><circle cx="319.2" cy="388.3" r="1.31"/><circle cx="371.3" cy="325.5" r="1.08"/><circle cx="384.8" cy="402.9" r="0.65"/><circle cx="354.2" cy="340.4" r="1.01"/><circle cx="334.4" cy="400.3" r="0.68"/><circle cx="308.2" cy="385.6" r="1.24"/><circle cx="320.5" cy="410.8" r="1.11"/><circle cx="373.2" cy="321.4" r="1.18"/><circle cx="351.7" cy="325.4" r="0.73"/><circle cx="318.0" cy="411.3" r="0.84"/><circle cx="354.3" cy="341.8" r="0.94"/><circle cx="342.3" cy="319.2" r="0.64"/><circle cx="351.8" cy="334.2" r="0.93"/><circle cx="289.8" cy="367.9" r="0.80"/><circle cx="362.8" cy="388.4" r="1.37"/><circle cx="390.3" cy="375.6" r="1.11"/><circle cx="401.4" cy="364.8" r="0.99"/><circle cx="328.1" cy="348.5" r="0.66"/><circle cx="376.1" cy="374.1" r="1.39"/><circle cx="314.6" cy="340.9" r="0.82"/><circle cx="324.3" cy="332.5" r="1.12"/><circle cx="331.3" cy="323.6" r="0.87"/><circle cx="351.8" cy="322.8" r="1.10"/><circle cx="392.0" cy="373.1" r="1.20"/><circle cx="293.7" cy="322.4" r="1.21"/><circle cx="379.4" cy="333.7" r="0.79"/><circle cx="316.5" cy="379.8" r="0.80"/><circle cx="389.3" cy="389.5" r="0.85"/><circle cx="352.2" cy="395.8" r="0.80"/><circle cx="311.0" cy="373.7" r="1.40"/><circle cx="306.8" cy="362.4" r="0.61"/><circle cx="309.1" cy="394.4" r="1.35"/><circle cx="318.3" cy="345.0" r="0.68"/><circle cx="361.5" cy="356.4" r="1.23"/><circle cx="322.9" cy="363.6" r="1.23"/><circle cx="297.7" cy="340.8" r="1.27"/><circle cx="393.6" cy="406.2" r="1.31"/><circle cx="310.0" cy="342.2" r="0.85"/><circle cx="299.8" cy="371.6" r="0.88"/><circle cx="298.1" cy="387.6" r="0.81"/><circle cx="330.9" cy="359.3" r="1.13"/><circle cx="388.5" cy="406.6" r="0.91"/><circle cx="385.4" cy="391.2" r="1.08"/><circle cx="335.7" cy="320.0" r="0.92"/></g>
<g fill="#f6f2de"><circle cx="351.0" cy="356.1" r="1.28"/><circle cx="315.6" cy="343.7" r="1.44"/><circle cx="294.1" cy="320.4" r="1.34"/><circle cx="410.9" cy="388.7" r="1.70"/><circle cx="398.4" cy="400.8" r="1.71"/><circle cx="370.7" cy="321.6" r="1.79"/><circle cx="317.1" cy="339.0" r="1.56"/><circle cx="371.2" cy="416.9" r="1.30"/><circle cx="292.0" cy="358.3" r="1.08"/><circle cx="335.8" cy="409.5" r="1.55"/><circle cx="383.2" cy="419.8" r="1.20"/><circle cx="344.2" cy="409.9" r="1.31"/><circle cx="323.1" cy="381.6" r="1.79"/><circle cx="385.4" cy="394.5" r="0.94"/><circle cx="323.6" cy="330.8" r="1.93"/><circle cx="291.4" cy="414.3" r="1.66"/><circle cx="383.8" cy="359.2" r="1.07"/><circle cx="279.7" cy="408.7" r="1.26"/><circle cx="287.0" cy="419.6" r="1.56"/><circle cx="331.8" cy="309.7" r="1.79"/><circle cx="353.5" cy="325.3" r="1.84"/><circle cx="387.6" cy="415.4" r="1.65"/><circle cx="341.7" cy="364.6" r="1.40"/><circle cx="342.8" cy="333.2" r="1.62"/><circle cx="391.5" cy="334.5" r="1.58"/><circle cx="360.3" cy="350.3" r="0.99"/><circle cx="352.8" cy="336.9" r="1.22"/><circle cx="358.9" cy="317.2" r="1.86"/><circle cx="325.5" cy="391.7" r="1.29"/><circle cx="300.0" cy="396.6" r="1.70"/><circle cx="301.7" cy="363.2" r="1.45"/><circle cx="399.2" cy="355.5" r="1.18"/><circle cx="314.2" cy="347.1" r="1.48"/><circle cx="333.7" cy="373.6" r="1.40"/><circle cx="324.5" cy="322.4" r="1.87"/><circle cx="305.0" cy="355.5" r="1.36"/><circle cx="379.7" cy="362.6" r="0.71"/><circle cx="353.9" cy="406.7" r="1.47"/><circle cx="396.3" cy="379.6" r="0.93"/><circle cx="316.7" cy="365.2" r="0.93"/><circle cx="370.4" cy="333.0" r="1.12"/><circle cx="310.0" cy="414.2" r="0.85"/><circle cx="328.3" cy="366.6" r="1.42"/><circle cx="319.8" cy="351.7" r="1.64"/><circle cx="285.9" cy="359.5" r="1.66"/><circle cx="384.1" cy="345.4" r="1.25"/><circle cx="340.3" cy="340.2" r="1.58"/><circle cx="336.9" cy="312.4" r="1.54"/><circle cx="380.2" cy="384.1" r="1.12"/><circle cx="382.8" cy="404.6" r="1.46"/><circle cx="378.5" cy="323.3" r="1.53"/><circle cx="403.4" cy="413.4" r="1.33"/><circle cx="302.2" cy="322.5" r="1.90"/><circle cx="317.4" cy="410.2" r="1.48"/><circle cx="363.7" cy="349.3" r="1.37"/><circle cx="344.9" cy="402.6" r="1.55"/><circle cx="320.7" cy="378.3" r="1.66"/><circle cx="410.5" cy="397.2" r="1.54"/><circle cx="294.5" cy="355.7" r="1.25"/><circle cx="370.6" cy="344.1" r="1.42"/><circle cx="370.5" cy="406.8" r="1.12"/><circle cx="289.0" cy="400.9" r="1.98"/><circle cx="358.5" cy="411.9" r="1.98"/><circle cx="392.2" cy="379.7" r="1.52"/><circle cx="305.5" cy="386.9" r="1.40"/><circle cx="319.4" cy="366.6" r="1.03"/><circle cx="311.3" cy="419.9" r="1.34"/><circle cx="330.2" cy="394.0" r="1.69"/><circle cx="330.7" cy="369.7" r="1.33"/><circle cx="348.5" cy="326.8" r="1.52"/><circle cx="403.0" cy="379.5" r="1.12"/><circle cx="325.4" cy="396.3" r="1.60"/><circle cx="332.1" cy="345.1" r="1.27"/><circle cx="314.7" cy="375.2" r="1.37"/><circle cx="326.1" cy="340.3" r="1.57"/><circle cx="306.7" cy="370.5" r="1.98"/><circle cx="311.5" cy="372.4" r="1.69"/><circle cx="344.7" cy="364.1" r="1.35"/><circle cx="346.6" cy="353.8" r="1.55"/><circle cx="406.7" cy="388.5" r="1.75"/><circle cx="332.8" cy="327.2" r="2.19"/><circle cx="394.6" cy="312.8" r="1.80"/><circle cx="330.5" cy="323.3" r="1.97"/><circle cx="284.1" cy="417.3" r="1.51"/><circle cx="311.5" cy="321.9" r="1.74"/><circle cx="388.9" cy="309.7" r="1.56"/><circle cx="407.2" cy="414.4" r="1.20"/><circle cx="331.6" cy="405.5" r="1.87"/><circle cx="378.2" cy="395.4" r="0.98"/><circle cx="402.0" cy="363.3" r="1.05"/><circle cx="307.6" cy="402.3" r="1.94"/><circle cx="283.3" cy="408.3" r="1.85"/><circle cx="382.2" cy="361.9" r="0.93"/><circle cx="330.4" cy="378.7" r="0.87"/><circle cx="387.8" cy="377.6" r="1.32"/><circle cx="407.3" cy="404.4" r="1.29"/><circle cx="293.4" cy="340.9" r="0.92"/><circle cx="355.7" cy="329.8" r="1.74"/><circle cx="307.2" cy="348.7" r="1.93"/><circle cx="366.0" cy="315.3" r="1.75"/><circle cx="309.9" cy="411.9" r="1.26"/><circle cx="409.4" cy="350.2" r="1.76"/><circle cx="384.1" cy="316.3" r="1.72"/><circle cx="284.0" cy="379.9" r="1.79"/><circle cx="357.5" cy="360.7" r="1.43"/><circle cx="345.8" cy="378.1" r="1.23"/><circle cx="301.2" cy="373.0" r="1.72"/><circle cx="318.6" cy="381.4" r="1.43"/><circle cx="299.9" cy="326.0" r="1.92"/><circle cx="388.8" cy="381.4" r="1.09"/><circle cx="325.4" cy="384.9" r="1.44"/><circle cx="280.4" cy="369.8" r="1.50"/><circle cx="365.6" cy="340.7" r="1.16"/><circle cx="312.5" cy="368.1" r="1.91"/><circle cx="400.9" cy="393.2" r="1.02"/><circle cx="297.9" cy="337.4" r="1.31"/><circle cx="350.9" cy="408.7" r="1.80"/><circle cx="346.0" cy="349.2" r="1.47"/><circle cx="388.0" cy="314.5" r="1.42"/><circle cx="351.5" cy="342.1" r="1.34"/><circle cx="329.4" cy="330.0" r="1.66"/><circle cx="355.7" cy="334.1" r="1.27"/><circle cx="320.8" cy="364.0" r="1.28"/><circle cx="394.0" cy="369.0" r="1.10"/><circle cx="329.4" cy="383.2" r="0.98"/><circle cx="305.7" cy="339.4" r="1.25"/><circle cx="359.1" cy="375.5" r="1.19"/><circle cx="398.1" cy="330.7" r="1.51"/><circle cx="367.4" cy="343.7" r="1.01"/><circle cx="311.9" cy="328.6" r="1.37"/><circle cx="363.0" cy="401.1" r="0.85"/><circle cx="301.0" cy="338.6" r="1.29"/><circle cx="368.1" cy="403.7" r="1.27"/><circle cx="394.3" cy="402.2" r="1.28"/><circle cx="328.4" cy="417.7" r="1.09"/><circle cx="307.0" cy="397.3" r="1.87"/><circle cx="342.9" cy="320.4" r="1.47"/><circle cx="403.4" cy="359.6" r="1.06"/><circle cx="340.4" cy="344.8" r="1.42"/><circle cx="298.0" cy="364.7" r="1.66"/><circle cx="329.8" cy="359.7" r="1.55"/><circle cx="304.2" cy="327.7" r="1.30"/><circle cx="371.7" cy="357.4" r="1.52"/><circle cx="322.6" cy="410.9" r="1.56"/><circle cx="386.6" cy="335.3" r="1.94"/><circle cx="377.5" cy="413.2" r="1.49"/><circle cx="374.4" cy="404.7" r="1.72"/><circle cx="405.7" cy="334.1" r="1.70"/><circle cx="296.7" cy="361.0" r="1.09"/><circle cx="397.4" cy="406.2" r="2.40"/><circle cx="368.6" cy="361.4" r="1.09"/><circle cx="289.8" cy="328.9" r="2.58"/><circle cx="293.7" cy="374.4" r="2.05"/><circle cx="295.2" cy="401.7" r="1.80"/><circle cx="292.3" cy="345.4" r="1.41"/><circle cx="401.2" cy="340.8" r="1.83"/><circle cx="329.1" cy="345.3" r="1.19"/><circle cx="358.3" cy="333.8" r="1.17"/><circle cx="290.1" cy="354.5" r="1.62"/><circle cx="403.8" cy="319.8" r="2.10"/><circle cx="372.3" cy="398.6" r="1.29"/><circle cx="321.0" cy="400.7" r="0.94"/><circle cx="292.6" cy="369.9" r="1.53"/><circle cx="339.5" cy="319.3" r="1.75"/><circle cx="383.5" cy="388.6" r="0.97"/><circle cx="344.7" cy="343.9" r="1.63"/><circle cx="305.9" cy="330.3" r="1.43"/><circle cx="365.0" cy="404.6" r="0.88"/><circle cx="318.6" cy="392.0" r="1.05"/><circle cx="307.1" cy="410.0" r="1.65"/><circle cx="292.6" cy="349.2" r="1.37"/><circle cx="395.7" cy="361.6" r="1.02"/><circle cx="279.7" cy="378.9" r="1.52"/><circle cx="309.0" cy="311.6" r="1.40"/><circle cx="341.5" cy="330.3" r="1.24"/><circle cx="408.7" cy="354.5" r="1.74"/><circle cx="324.9" cy="406.7" r="1.62"/><circle cx="285.5" cy="320.9" r="0.99"/><circle cx="349.3" cy="352.0" r="1.23"/><circle cx="323.2" cy="358.5" r="1.17"/><circle cx="283.0" cy="352.8" r="1.91"/><circle cx="375.3" cy="416.7" r="1.34"/><circle cx="368.8" cy="340.2" r="1.29"/><circle cx="376.9" cy="328.3" r="1.68"/><circle cx="384.9" cy="330.7" r="2.30"/><circle cx="409.0" cy="363.7" r="1.60"/><circle cx="341.1" cy="368.5" r="1.25"/><circle cx="381.5" cy="412.2" r="1.20"/><circle cx="288.2" cy="365.0" r="1.29"/><circle cx="298.3" cy="416.8" r="1.19"/><circle cx="294.4" cy="411.0" r="1.98"/><circle cx="409.3" cy="419.1" r="1.04"/><circle cx="279.3" cy="415.6" r="1.26"/><circle cx="342.0" cy="386.7" r="1.02"/><circle cx="285.0" cy="313.2" r="1.05"/><circle cx="374.1" cy="389.7" r="1.08"/><circle cx="396.5" cy="365.4" r="1.00"/><circle cx="400.5" cy="323.7" r="1.38"/><circle cx="319.8" cy="346.9" r="1.71"/><circle cx="354.7" cy="347.5" r="0.80"/><circle cx="320.8" cy="407.2" r="1.58"/><circle cx="399.1" cy="396.6" r="1.66"/><circle cx="402.6" cy="403.5" r="1.45"/><circle cx="376.5" cy="377.2" r="0.96"/><circle cx="344.1" cy="414.4" r="1.41"/><circle cx="341.4" cy="404.3" r="0.90"/><circle cx="294.5" cy="331.6" r="1.90"/><circle cx="346.5" cy="319.8" r="1.82"/><circle cx="330.7" cy="349.0" r="1.45"/><circle cx="365.9" cy="320.3" r="1.68"/><circle cx="376.2" cy="372.1" r="1.24"/><circle cx="315.6" cy="418.8" r="1.56"/><circle cx="390.3" cy="338.8" r="1.91"/><circle cx="300.2" cy="349.6" r="1.82"/><circle cx="341.3" cy="336.4" r="1.44"/><circle cx="302.6" cy="317.1" r="1.78"/><circle cx="368.4" cy="390.2" r="1.11"/><circle cx="395.3" cy="385.0" r="1.01"/><circle cx="410.9" cy="404.2" r="1.70"/><circle cx="320.9" cy="309.7" r="1.55"/><circle cx="397.4" cy="315.5" r="1.34"/><circle cx="364.6" cy="360.3" r="1.54"/><circle cx="350.5" cy="392.1" r="1.23"/><circle cx="364.6" cy="381.3" r="1.28"/><circle cx="360.0" cy="387.1" r="1.11"/><circle cx="324.9" cy="310.7" r="1.51"/><circle cx="361.6" cy="414.9" r="1.39"/><circle cx="306.5" cy="378.9" r="1.29"/><circle cx="384.9" cy="320.4" r="1.46"/><circle cx="329.2" cy="355.9" r="1.56"/><circle cx="309.5" cy="359.4" r="1.64"/><circle cx="311.1" cy="382.9" r="1.30"/><circle cx="313.8" cy="360.1" r="1.57"/><circle cx="295.0" cy="414.9" r="1.44"/><circle cx="372.5" cy="327.9" r="1.21"/><circle cx="287.4" cy="415.4" r="1.82"/><circle cx="318.3" cy="398.7" r="1.51"/><circle cx="296.0" cy="340.2" r="1.33"/><circle cx="336.3" cy="419.3" r="1.72"/><circle cx="348.3" cy="404.6" r="1.39"/><circle cx="402.1" cy="347.4" r="1.42"/><circle cx="405.1" cy="384.0" r="1.29"/><circle cx="342.6" cy="355.9" r="1.86"/><circle cx="373.8" cy="312.9" r="1.47"/><circle cx="301.2" cy="405.7" r="1.89"/><circle cx="290.1" cy="376.7" r="1.72"/><circle cx="355.7" cy="373.4" r="0.79"/><circle cx="355.5" cy="318.0" r="1.47"/><circle cx="333.5" cy="356.1" r="1.75"/><circle cx="306.5" cy="415.3" r="0.97"/><circle cx="394.9" cy="322.8" r="1.69"/><circle cx="324.7" cy="364.0" r="1.61"/><circle cx="380.8" cy="401.7" r="1.02"/><circle cx="288.5" cy="314.9" r="1.25"/><circle cx="378.5" cy="381.6" r="1.11"/><circle cx="309.2" cy="391.2" r="2.10"/><circle cx="407.1" cy="368.6" r="1.63"/><circle cx="298.3" cy="320.1" r="1.65"/><circle cx="341.9" cy="407.4" r="1.80"/><circle cx="351.9" cy="376.8" r="1.30"/><circle cx="288.0" cy="322.1" r="1.61"/><circle cx="328.9" cy="319.0" r="1.85"/><circle cx="383.5" cy="416.3" r="1.66"/><circle cx="397.9" cy="393.2" r="1.23"/><circle cx="285.3" cy="366.4" r="1.66"/><circle cx="328.8" cy="399.3" r="1.32"/><circle cx="402.4" cy="419.1" r="1.31"/><circle cx="326.1" cy="377.8" r="1.64"/><circle cx="349.5" cy="337.9" r="1.64"/><circle cx="282.3" cy="325.4" r="1.94"/><circle cx="375.6" cy="397.0" r="0.81"/><circle cx="321.9" cy="361.1" r="1.16"/><circle cx="322.3" cy="337.2" r="1.94"/><circle cx="293.4" cy="392.7" r="1.41"/><circle cx="370.8" cy="325.5" r="1.39"/><circle cx="366.7" cy="351.9" r="1.35"/><circle cx="334.9" cy="351.0" r="1.44"/><circle cx="287.7" cy="344.8" r="1.93"/><circle cx="295.8" cy="315.5" r="1.67"/><circle cx="285.5" cy="389.6" r="1.79"/><circle cx="375.4" cy="401.0" r="1.56"/><circle cx="336.3" cy="323.3" r="2.09"/><circle cx="390.1" cy="418.0" r="1.85"/><circle cx="374.1" cy="342.2" r="0.88"/><circle cx="384.4" cy="342.2" r="0.95"/><circle cx="347.0" cy="323.8" r="1.34"/><circle cx="376.1" cy="387.0" r="1.21"/><circle cx="361.2" cy="398.1" r="1.09"/><circle cx="400.8" cy="333.6" r="1.42"/><circle cx="351.3" cy="403.4" r="1.83"/><circle cx="323.5" cy="313.7" r="1.23"/><circle cx="303.5" cy="401.7" r="1.27"/><circle cx="347.8" cy="415.7" r="1.28"/><circle cx="299.1" cy="313.2" r="1.90"/><circle cx="367.7" cy="367.3" r="0.94"/><circle cx="375.0" cy="355.0" r="1.05"/><circle cx="369.0" cy="373.9" r="0.95"/><circle cx="317.2" cy="384.1" r="1.60"/><circle cx="377.9" cy="406.3" r="0.78"/><circle cx="283.7" cy="343.4" r="2.06"/><circle cx="397.3" cy="386.3" r="0.74"/><circle cx="406.8" cy="395.2" r="1.24"/><circle cx="397.1" cy="341.8" r="1.30"/><circle cx="302.6" cy="416.0" r="1.61"/><circle cx="319.2" cy="329.4" r="2.31"/><circle cx="342.3" cy="351.9" r="1.36"/><circle cx="328.1" cy="313.6" r="1.73"/><circle cx="332.8" cy="314.4" r="2.20"/><circle cx="347.7" cy="366.5" r="1.24"/><circle cx="360.7" cy="367.1" r="0.72"/><circle cx="281.8" cy="404.3" r="1.65"/><circle cx="405.3" cy="323.8" r="1.63"/><circle cx="377.3" cy="341.5" r="1.04"/><circle cx="375.7" cy="393.0" r="1.22"/><circle cx="362.0" cy="370.1" r="0.60"/><circle cx="370.0" cy="386.0" r="1.09"/><circle cx="311.0" cy="395.5" r="1.59"/><circle cx="410.1" cy="339.3" r="1.59"/><circle cx="411.3" cy="359.1" r="1.88"/><circle cx="389.8" cy="363.8" r="1.08"/><circle cx="394.3" cy="352.1" r="1.50"/><circle cx="299.4" cy="360.6" r="1.25"/><circle cx="390.9" cy="318.9" r="1.68"/><circle cx="378.7" cy="354.4" r="0.72"/><circle cx="295.3" cy="389.7" r="1.51"/><circle cx="351.1" cy="382.2" r="0.84"/><circle cx="298.8" cy="341.3" r="1.20"/><circle cx="325.4" cy="370.0" r="1.53"/><circle cx="362.5" cy="354.3" r="1.61"/><circle cx="282.5" cy="361.0" r="1.80"/><circle cx="296.2" cy="384.1" r="1.50"/><circle cx="292.0" cy="398.7" r="1.47"/><circle cx="303.1" cy="397.9" r="1.74"/><circle cx="405.9" cy="407.1" r="1.33"/><circle cx="407.1" cy="329.5" r="1.73"/><circle cx="317.8" cy="372.5" r="1.32"/><circle cx="350.3" cy="363.3" r="1.23"/><circle cx="301.5" cy="387.2" r="1.18"/><circle cx="314.0" cy="325.1" r="1.28"/><circle cx="316.6" cy="358.8" r="0.82"/><circle cx="386.9" cy="339.8" r="1.57"/><circle cx="298.6" cy="392.6" r="1.96"/><circle cx="410.3" cy="374.6" r="1.70"/><circle cx="380.9" cy="350.5" r="1.00"/><circle cx="397.6" cy="310.6" r="1.86"/><circle cx="410.0" cy="332.6" r="1.95"/><circle cx="366.9" cy="333.7" r="1.73"/><circle cx="320.1" cy="322.8" r="1.74"/><circle cx="361.8" cy="313.0" r="2.36"/><circle cx="399.1" cy="344.7" r="1.18"/><circle cx="305.4" cy="375.6" r="1.27"/><circle cx="328.1" cy="363.3" r="1.41"/><circle cx="335.1" cy="370.4" r="1.44"/><circle cx="337.1" cy="346.9" r="1.73"/><circle cx="385.4" cy="364.2" r="0.87"/><circle cx="295.4" cy="417.9" r="1.39"/><circle cx="410.9" cy="410.2" r="1.12"/><circle cx="375.4" cy="320.1" r="1.39"/><circle cx="280.8" cy="396.8" r="1.73"/><circle cx="374.7" cy="324.5" r="1.37"/><circle cx="399.0" cy="377.5" r="1.56"/><circle cx="348.3" cy="342.0" r="1.25"/><circle cx="326.9" cy="343.5" r="1.16"/><circle cx="403.4" cy="368.2" r="1.67"/><circle cx="361.8" cy="329.5" r="1.16"/><circle cx="317.5" cy="320.5" r="1.22"/><circle cx="351.9" cy="388.7" r="0.95"/><circle cx="386.6" cy="419.4" r="1.63"/><circle cx="281.1" cy="320.8" r="1.48"/><circle cx="334.7" cy="394.5" r="1.78"/><circle cx="356.1" cy="403.3" r="1.37"/><circle cx="395.2" cy="395.5" r="1.28"/><circle cx="392.3" cy="405.3" r="1.88"/><circle cx="281.1" cy="393.0" r="1.41"/><circle cx="347.9" cy="401.0" r="1.14"/><circle cx="332.3" cy="385.8" r="1.27"/><circle cx="320.1" cy="358.1" r="1.24"/><circle cx="404.6" cy="326.9" r="1.14"/><circle cx="303.6" cy="382.2" r="1.38"/><circle cx="393.2" cy="330.2" r="1.57"/><circle cx="364.7" cy="398.0" r="1.23"/><circle cx="365.0" cy="370.5" r="1.11"/><circle cx="344.7" cy="368.1" r="1.14"/><circle cx="411.1" cy="370.4" r="1.34"/><circle cx="391.1" cy="323.6" r="1.05"/><circle cx="379.8" cy="330.8" r="1.74"/><circle cx="288.4" cy="380.4" r="1.57"/><circle cx="332.4" cy="381.2" r="0.76"/><circle cx="354.8" cy="343.5" r="1.39"/><circle cx="369.1" cy="317.8" r="1.09"/><circle cx="409.4" cy="407.8" r="1.20"/><circle cx="398.1" cy="373.7" r="1.65"/><circle cx="312.5" cy="416.5" r="1.62"/><circle cx="344.1" cy="395.5" r="1.38"/><circle cx="378.1" cy="409.1" r="1.50"/><circle cx="316.0" cy="353.5" r="0.99"/><circle cx="285.4" cy="363.2" r="1.67"/><circle cx="286.4" cy="324.9" r="1.50"/><circle cx="306.9" cy="321.0" r="1.84"/><circle cx="383.3" cy="376.4" r="1.76"/><circle cx="373.3" cy="419.8" r="1.40"/><circle cx="286.3" cy="376.0" r="1.41"/><circle cx="303.6" cy="411.8" r="0.96"/><circle cx="380.7" cy="353.2" r="0.74"/><circle cx="346.8" cy="387.6" r="0.85"/><circle cx="300.6" cy="334.7" r="1.30"/><circle cx="302.3" cy="341.8" r="1.52"/><circle cx="313.1" cy="311.2" r="1.80"/><circle cx="366.5" cy="386.5" r="1.36"/><circle cx="330.6" cy="375.8" r="1.16"/><circle cx="283.6" cy="348.0" r="1.66"/><circle cx="356.0" cy="338.6" r="1.22"/><circle cx="401.7" cy="357.2" r="1.10"/><circle cx="353.3" cy="379.4" r="0.88"/><circle cx="309.2" cy="416.8" r="1.25"/><circle cx="290.7" cy="324.2" r="1.82"/><circle cx="398.9" cy="362.7" r="0.86"/><circle cx="368.1" cy="358.0" r="1.17"/><circle cx="371.9" cy="379.5" r="1.23"/><circle cx="299.7" cy="344.8" r="1.38"/><circle cx="369.4" cy="312.9" r="1.29"/><circle cx="341.2" cy="378.3" r="1.06"/><circle cx="401.2" cy="316.8" r="1.89"/><circle cx="301.4" cy="354.4" r="1.71"/><circle cx="290.7" cy="317.6" r="0.98"/><circle cx="396.8" cy="326.8" r="1.38"/><circle cx="338.4" cy="406.2" r="1.47"/><circle cx="322.3" cy="354.6" r="1.77"/><circle cx="361.3" cy="333.0" r="1.31"/><circle cx="320.9" cy="316.1" r="1.41"/><circle cx="401.9" cy="407.0" r="1.57"/><circle cx="382.1" cy="334.3" r="2.03"/><circle cx="377.1" cy="346.4" r="0.93"/><circle cx="384.4" cy="397.1" r="1.23"/><circle cx="311.9" cy="335.0" r="1.04"/><circle cx="289.8" cy="372.9" r="1.74"/><circle cx="361.0" cy="358.9" r="1.94"/><circle cx="375.2" cy="380.6" r="1.38"/><circle cx="381.7" cy="347.5" r="0.65"/><circle cx="372.0" cy="339.5" r="1.04"/><circle cx="390.9" cy="367.6" r="0.96"/><circle cx="284.3" cy="336.6" r="1.87"/><circle cx="294.9" cy="358.9" r="1.07"/><circle cx="384.5" cy="327.2" r="1.23"/><circle cx="340.7" cy="313.0" r="1.41"/><circle cx="373.3" cy="395.3" r="1.40"/><circle cx="339.2" cy="388.1" r="1.10"/><circle cx="402.5" cy="354.2" r="1.41"/><circle cx="349.9" cy="333.4" r="1.31"/><circle cx="402.8" cy="330.5" r="1.41"/><circle cx="381.3" cy="407.8" r="1.14"/><circle cx="281.9" cy="376.5" r="1.48"/><circle cx="369.9" cy="336.5" r="1.50"/><circle cx="314.6" cy="371.4" r="1.15"/><circle cx="351.9" cy="346.2" r="1.20"/><circle cx="388.2" cy="365.9" r="1.14"/><circle cx="310.6" cy="379.5" r="1.23"/><circle cx="290.7" cy="312.3" r="1.35"/><circle cx="396.8" cy="357.9" r="1.00"/><circle cx="376.7" cy="316.4" r="1.76"/><circle cx="336.0" cy="342.7" r="1.69"/><circle cx="411.3" cy="366.9" r="1.54"/><circle cx="327.7" cy="387.4" r="1.21"/><circle cx="401.6" cy="375.3" r="1.16"/><circle cx="325.9" cy="347.1" r="1.69"/><circle cx="313.8" cy="363.8" r="1.43"/><circle cx="298.7" cy="409.2" r="1.59"/><circle cx="348.7" cy="377.0" r="1.05"/><circle cx="310.1" cy="325.2" r="1.18"/><circle cx="283.2" cy="332.4" r="1.79"/><circle cx="285.5" cy="411.7" r="1.56"/><circle cx="386.4" cy="402.5" r="1.49"/><circle cx="326.8" cy="326.7" r="2.07"/><circle cx="397.6" cy="418.4" r="1.06"/><circle cx="307.8" cy="345.4" r="1.14"/><circle cx="367.8" cy="418.7" r="1.34"/><circle cx="350.6" cy="368.2" r="1.20"/><circle cx="301.3" cy="368.6" r="1.70"/><circle cx="366.0" cy="355.8" r="1.27"/><circle cx="391.5" cy="376.2" r="1.00"/><circle cx="282.4" cy="413.3" r="1.42"/><circle cx="407.0" cy="347.3" r="1.96"/><circle cx="336.8" cy="412.4" r="1.27"/><circle cx="366.0" cy="337.8" r="1.16"/><circle cx="279.6" cy="330.3" r="1.33"/><circle cx="280.7" cy="338.0" r="1.17"/><circle cx="318.6" cy="334.1" r="2.20"/><circle cx="331.7" cy="418.0" r="1.14"/><circle cx="360.2" cy="337.2" r="1.47"/><circle cx="289.4" cy="411.5" r="1.44"/><circle cx="381.0" cy="311.3" r="1.40"/><circle cx="372.6" cy="331.4" r="1.40"/><circle cx="392.3" cy="394.1" r="1.09"/><circle cx="375.6" cy="332.9" r="1.27"/><circle cx="315.7" cy="313.4" r="1.14"/><circle cx="390.0" cy="385.2" r="1.31"/><circle cx="405.3" cy="338.1" r="1.21"/><circle cx="351.4" cy="329.3" r="1.40"/><circle cx="319.5" cy="417.0" r="1.70"/><circle cx="394.2" cy="372.9" r="1.14"/><circle cx="317.9" cy="355.8" r="1.27"/><circle cx="316.0" cy="414.8" r="1.49"/><circle cx="363.9" cy="407.2" r="1.67"/><circle cx="395.3" cy="392.7" r="0.84"/><circle cx="380.6" cy="319.5" r="1.61"/><circle cx="314.2" cy="381.6" r="1.13"/><circle cx="308.3" cy="373.9" r="1.77"/><circle cx="359.8" cy="381.2" r="1.27"/><circle cx="326.6" cy="411.3" r="1.51"/><circle cx="311.1" cy="348.9" r="1.15"/><circle cx="295.6" cy="397.2" r="1.50"/><circle cx="325.8" cy="360.8" r="1.28"/><circle cx="352.0" cy="349.7" r="1.24"/><circle cx="304.9" cy="366.5" r="1.45"/><circle cx="326.4" cy="333.3" r="1.18"/><circle cx="403.3" cy="395.6" r="1.46"/><circle cx="304.3" cy="312.6" r="1.53"/><circle cx="410.1" cy="336.5" r="1.18"/><circle cx="386.8" cy="411.4" r="1.75"/><circle cx="396.9" cy="354.0" r="1.09"/><circle cx="318.6" cy="395.8" r="1.39"/><circle cx="357.5" cy="398.9" r="1.13"/><circle cx="297.9" cy="353.8" r="1.32"/><circle cx="393.6" cy="419.6" r="1.79"/><circle cx="391.1" cy="391.3" r="1.15"/><circle cx="377.4" cy="384.3" r="0.98"/><circle cx="285.8" cy="317.3" r="1.41"/><circle cx="285.4" cy="400.4" r="1.40"/><circle cx="343.6" cy="383.5" r="1.23"/><circle cx="279.4" cy="346.2" r="2.09"/><circle cx="357.1" cy="384.4" r="1.21"/><circle cx="282.7" cy="373.1" r="1.65"/><circle cx="388.4" cy="368.6" r="0.90"/><circle cx="321.2" cy="389.8" r="1.17"/><circle cx="367.6" cy="324.7" r="1.32"/><circle cx="283.1" cy="340.0" r="1.39"/><circle cx="314.6" cy="320.2" r="1.36"/><circle cx="366.0" cy="310.1" r="1.46"/><circle cx="387.5" cy="318.1" r="1.33"/><circle cx="339.1" cy="349.4" r="1.28"/><circle cx="297.3" cy="334.1" r="1.33"/><circle cx="405.2" cy="356.0" r="1.55"/><circle cx="406.5" cy="398.2" r="1.27"/><circle cx="377.3" cy="356.8" r="0.90"/><circle cx="332.1" cy="402.2" r="1.03"/><circle cx="382.8" cy="349.4" r="1.03"/><circle cx="388.2" cy="358.9" r="1.05"/><circle cx="368.1" cy="370.6" r="0.95"/><circle cx="405.4" cy="417.0" r="1.57"/><circle cx="337.8" cy="367.0" r="1.33"/><circle cx="403.0" cy="386.4" r="0.98"/><circle cx="330.3" cy="389.8" r="1.62"/><circle cx="347.8" cy="411.7" r="1.75"/><circle cx="301.7" cy="377.7" r="1.76"/><circle cx="366.1" cy="401.4" r="0.89"/><circle cx="352.3" cy="353.3" r="1.10"/><circle cx="324.0" cy="350.0" r="1.36"/><circle cx="320.4" cy="369.6" r="1.41"/><circle cx="350.6" cy="395.5" r="0.91"/><circle cx="332.7" cy="408.5" r="1.04"/><circle cx="286.5" cy="372.3" r="1.56"/><circle cx="293.7" cy="352.9" r="1.38"/><circle cx="307.7" cy="384.1" r="1.19"/><circle cx="310.5" cy="409.0" r="1.33"/><circle cx="290.6" cy="342.3" r="1.17"/><circle cx="312.9" cy="398.1" r="1.20"/><circle cx="338.6" cy="399.5" r="1.24"/><circle cx="398.6" cy="383.8" r="1.36"/><circle cx="351.4" cy="417.3" r="1.64"/><circle cx="388.1" cy="343.6" r="1.46"/><circle cx="346.4" cy="382.7" r="0.86"/><circle cx="358.3" cy="372.6" r="0.81"/><circle cx="386.3" cy="391.4" r="1.02"/><circle cx="383.5" cy="354.2" r="1.06"/><circle cx="339.3" cy="309.7" r="1.20"/><circle cx="399.9" cy="366.5" r="1.47"/><circle cx="372.1" cy="374.7" r="0.97"/><circle cx="371.3" cy="402.3" r="1.62"/><circle cx="315.6" cy="350.6" r="1.39"/><circle cx="403.8" cy="409.9" r="1.63"/><circle cx="360.5" cy="371.4" r="0.99"/><circle cx="371.3" cy="389.3" r="0.93"/><circle cx="354.4" cy="386.2" r="0.72"/><circle cx="393.0" cy="415.0" r="1.51"/><circle cx="306.3" cy="413.0" r="0.78"/><circle cx="359.8" cy="401.3" r="1.05"/><circle cx="334.1" cy="347.0" r="1.44"/><circle cx="369.6" cy="354.1" r="1.37"/><circle cx="319.3" cy="312.7" r="1.33"/><circle cx="323.0" cy="343.0" r="1.77"/><circle cx="338.3" cy="396.0" r="1.28"/><circle cx="366.2" cy="392.5" r="0.92"/><circle cx="364.0" cy="367.7" r="1.10"/><circle cx="308.7" cy="328.9" r="1.02"/><circle cx="339.0" cy="333.0" r="1.74"/><circle cx="399.8" cy="380.9" r="1.07"/><circle cx="369.8" cy="411.2" r="1.09"/><circle cx="343.8" cy="380.3" r="1.01"/><circle cx="348.9" cy="389.9" r="0.60"/><circle cx="353.8" cy="367.0" r="1.04"/><circle cx="347.4" cy="391.3" r="0.88"/><circle cx="329.0" cy="408.2" r="1.77"/><circle cx="397.9" cy="388.5" r="0.85"/><circle cx="378.3" cy="374.0" r="0.75"/><circle cx="409.4" cy="325.5" r="1.33"/><circle cx="365.6" cy="346.0" r="0.99"/><circle cx="323.7" cy="388.3" r="1.57"/><circle cx="384.3" cy="412.8" r="0.95"/><circle cx="292.7" cy="315.3" r="1.08"/><circle cx="313.5" cy="340.2" r="1.64"/><circle cx="407.6" cy="359.0" r="1.52"/><circle cx="336.6" cy="337.0" r="1.57"/><circle cx="360.7" cy="344.0" r="0.90"/><circle cx="383.9" cy="351.9" r="1.08"/><circle cx="289.0" cy="358.1" r="1.58"/><circle cx="287.1" cy="408.5" r="1.68"/><circle cx="338.5" cy="372.6" r="1.12"/><circle cx="287.7" cy="311.4" r="1.27"/><circle cx="360.3" cy="347.3" r="0.83"/></g>
<g fill="#ebe4c0"><circle cx="298.0" cy="405.0" r="1.14"/><circle cx="388.6" cy="390.1" r="1.06"/><circle cx="320.5" cy="319.5" r="1.59"/><circle cx="311.2" cy="314.5" r="1.61"/><circle cx="349.9" cy="398.5" r="1.20"/><circle cx="311.8" cy="353.3" r="1.50"/><circle cx="329.0" cy="414.4" r="1.04"/><circle cx="380.7" cy="344.5" r="1.19"/><circle cx="307.1" cy="315.8" r="1.69"/><circle cx="299.0" cy="381.7" r="1.39"/><circle cx="296.4" cy="350.9" r="1.22"/><circle cx="402.8" cy="399.2" r="2.18"/><circle cx="317.5" cy="316.6" r="1.59"/><circle cx="304.6" cy="408.1" r="1.39"/><circle cx="353.5" cy="363.0" r="1.27"/><circle cx="363.6" cy="335.9" r="1.39"/><circle cx="285.2" cy="396.9" r="1.19"/><circle cx="330.6" cy="333.5" r="1.22"/><circle cx="410.6" cy="381.5" r="1.97"/><circle cx="373.9" cy="363.3" r="1.00"/><circle cx="298.5" cy="387.2" r="1.30"/><circle cx="394.1" cy="358.8" r="0.77"/><circle cx="280.6" cy="389.3" r="2.01"/><circle cx="324.1" cy="415.6" r="2.03"/><circle cx="375.4" cy="349.3" r="1.19"/><circle cx="332.3" cy="336.6" r="1.67"/><circle cx="310.3" cy="343.0" r="1.80"/><circle cx="316.5" cy="405.3" r="1.32"/><circle cx="388.4" cy="321.8" r="0.98"/><circle cx="379.4" cy="366.2" r="1.16"/><circle cx="290.7" cy="407.3" r="2.24"/><circle cx="396.0" cy="334.1" r="1.67"/><circle cx="364.4" cy="331.5" r="1.37"/><circle cx="303.1" cy="419.8" r="1.78"/><circle cx="303.8" cy="332.6" r="1.26"/><circle cx="281.9" cy="311.6" r="1.43"/><circle cx="280.5" cy="382.7" r="1.71"/><circle cx="347.4" cy="315.1" r="1.55"/><circle cx="392.5" cy="383.5" r="1.07"/><circle cx="381.7" cy="324.7" r="1.42"/><circle cx="281.2" cy="399.8" r="1.35"/><circle cx="329.3" cy="372.2" r="0.97"/><circle cx="383.6" cy="400.6" r="0.95"/><circle cx="372.2" cy="317.0" r="1.13"/><circle cx="291.0" cy="334.1" r="1.96"/><circle cx="286.8" cy="404.5" r="2.03"/><circle cx="365.6" cy="395.5" r="0.96"/><circle cx="379.4" cy="392.3" r="0.85"/><circle cx="290.2" cy="338.5" r="1.47"/><circle cx="401.8" cy="312.1" r="2.02"/><circle cx="296.9" cy="370.2" r="2.21"/><circle cx="335.5" cy="363.3" r="1.35"/><circle cx="390.2" cy="412.3" r="1.77"/><circle cx="339.9" cy="409.9" r="1.61"/><circle cx="284.6" cy="328.9" r="1.86"/><circle cx="347.3" cy="370.5" r="1.05"/><circle cx="290.2" cy="351.4" r="1.35"/><circle cx="290.9" cy="388.7" r="1.63"/><circle cx="360.3" cy="419.5" r="1.48"/><circle cx="298.2" cy="357.5" r="1.43"/><circle cx="410.7" cy="328.6" r="1.30"/><circle cx="347.1" cy="373.8" r="1.44"/><circle cx="343.2" cy="371.7" r="0.88"/><circle cx="393.3" cy="409.8" r="1.66"/><circle cx="397.3" cy="349.3" r="1.54"/><circle cx="352.9" cy="414.1" r="1.85"/><circle cx="286.6" cy="351.5" r="1.53"/><circle cx="359.1" cy="329.7" r="0.96"/><circle cx="281.9" cy="315.5" r="1.77"/><circle cx="396.9" cy="390.4" r="0.96"/><circle cx="340.9" cy="413.2" r="1.41"/><circle cx="297.3" cy="375.9" r="1.38"/><circle cx="388.1" cy="325.1" r="1.38"/><circle cx="363.1" cy="364.8" r="0.69"/><circle cx="392.5" cy="315.6" r="1.33"/><circle cx="391.4" cy="349.0" r="1.30"/><circle cx="359.1" cy="369.5" r="0.82"/><circle cx="390.8" cy="357.1" r="1.29"/><circle cx="404.0" cy="344.2" r="1.22"/><circle cx="400.6" cy="327.8" r="1.64"/><circle cx="334.6" cy="390.1" r="1.72"/><circle cx="364.9" cy="327.7" r="1.62"/><circle cx="359.4" cy="391.1" r="1.28"/><circle cx="384.7" cy="408.4" r="1.24"/><circle cx="323.6" cy="375.4" r="1.19"/><circle cx="394.6" cy="318.7" r="1.58"/><circle cx="401.9" cy="383.5" r="1.00"/><circle cx="356.6" cy="380.1" r="1.08"/><circle cx="358.3" cy="352.0" r="0.82"/><circle cx="314.5" cy="336.1" r="1.28"/><circle cx="366.0" cy="364.7" r="0.91"/><circle cx="368.3" cy="378.8" r="1.22"/><circle cx="355.9" cy="388.8" r="1.23"/><circle cx="379.5" cy="370.0" r="1.31"/><circle cx="317.4" cy="388.0" r="1.72"/><circle cx="340.5" cy="375.2" r="0.93"/><circle cx="338.1" cy="357.9" r="1.66"/><circle cx="319.0" cy="375.8" r="1.09"/><circle cx="289.2" cy="384.8" r="1.60"/><circle cx="355.7" cy="313.7" r="1.87"/><circle cx="364.7" cy="417.0" r="1.38"/><circle cx="369.7" cy="394.7" r="1.26"/><circle cx="376.3" cy="365.7" r="1.16"/><circle cx="310.5" cy="338.5" r="1.35"/><circle cx="333.7" cy="415.1" r="2.16"/><circle cx="306.2" cy="362.8" r="1.95"/><circle cx="379.9" cy="387.3" r="0.95"/><circle cx="321.7" cy="394.1" r="1.67"/><circle cx="283.5" cy="386.3" r="1.92"/><circle cx="284.3" cy="369.3" r="1.60"/><circle cx="376.0" cy="352.2" r="0.81"/><circle cx="402.7" cy="389.0" r="1.38"/><circle cx="368.4" cy="398.9" r="1.36"/><circle cx="391.1" cy="312.4" r="1.50"/><circle cx="313.4" cy="356.4" r="1.32"/><circle cx="281.1" cy="418.2" r="1.32"/><circle cx="342.1" cy="327.2" r="1.58"/><circle cx="347.5" cy="394.9" r="0.97"/><circle cx="377.8" cy="313.1" r="1.54"/><circle cx="281.2" cy="365.2" r="2.10"/><circle cx="331.6" cy="353.0" r="1.48"/><circle cx="338.4" cy="392.0" r="1.70"/><circle cx="365.8" cy="373.2" r="1.02"/><circle cx="383.2" cy="392.2" r="0.83"/><circle cx="355.1" cy="352.0" r="1.00"/><circle cx="351.8" cy="385.2" r="0.95"/><circle cx="310.8" cy="332.4" r="1.32"/><circle cx="360.7" cy="395.5" r="0.91"/><circle cx="400.1" cy="390.4" r="1.22"/><circle cx="363.8" cy="323.7" r="1.30"/><circle cx="327.0" cy="381.4" r="1.47"/><circle cx="386.3" cy="383.2" r="1.46"/><circle cx="395.4" cy="387.8" r="1.04"/><circle cx="348.8" cy="384.2" r="0.81"/><circle cx="398.3" cy="337.3" r="1.78"/><circle cx="338.6" cy="361.8" r="1.47"/><circle cx="288.6" cy="393.0" r="1.68"/><circle cx="335.9" cy="377.7" r="1.57"/><circle cx="287.3" cy="334.2" r="1.65"/><circle cx="353.8" cy="321.0" r="1.58"/><circle cx="409.6" cy="343.8" r="2.02"/><circle cx="371.2" cy="371.7" r="1.13"/><circle cx="347.0" cy="310.8" r="1.41"/><circle cx="389.0" cy="331.4" r="1.32"/><circle cx="307.7" cy="335.7" r="1.74"/><circle cx="319.5" cy="341.8" r="1.81"/><circle cx="365.7" cy="375.9" r="0.76"/><circle cx="336.8" cy="385.6" r="1.49"/><circle cx="304.2" cy="351.0" r="2.23"/><circle cx="334.0" cy="339.7" r="1.62"/><circle cx="408.6" cy="321.3" r="1.76"/><circle cx="295.1" cy="406.4" r="1.55"/><circle cx="309.3" cy="365.7" r="1.49"/><circle cx="343.1" cy="359.8" r="1.84"/><circle cx="355.8" cy="376.7" r="1.35"/><circle cx="315.0" cy="392.6" r="1.80"/><circle cx="308.4" cy="406.4" r="1.62"/><circle cx="397.4" cy="369.4" r="1.18"/><circle cx="346.1" cy="330.1" r="1.79"/><circle cx="407.0" cy="411.0" r="1.61"/><circle cx="351.0" cy="312.0" r="1.50"/><circle cx="353.1" cy="332.4" r="1.52"/><circle cx="321.3" cy="403.8" r="1.28"/><circle cx="360.6" cy="408.4" r="1.75"/><circle cx="408.0" cy="312.0" r="2.27"/><circle cx="326.2" cy="353.4" r="1.38"/><circle cx="325.0" cy="401.4" r="1.70"/><circle cx="314.1" cy="385.2" r="1.21"/><circle cx="282.6" cy="356.9" r="1.99"/><circle cx="313.1" cy="407.5" r="1.31"/><circle cx="324.4" cy="318.0" r="1.43"/><circle cx="289.7" cy="361.9" r="1.43"/><circle cx="334.1" cy="360.0" r="1.19"/><circle cx="334.8" cy="332.1" r="1.75"/><circle cx="347.8" cy="407.9" r="1.06"/><circle cx="361.6" cy="362.3" r="1.06"/><circle cx="373.0" cy="413.3" r="1.27"/><circle cx="378.5" cy="403.2" r="1.20"/><circle cx="351.0" cy="317.0" r="1.67"/><circle cx="384.4" cy="311.5" r="1.51"/><circle cx="322.0" cy="372.6" r="1.47"/><circle cx="343.2" cy="310.3" r="1.28"/><circle cx="313.4" cy="412.1" r="1.47"/><circle cx="334.3" cy="319.5" r="2.07"/><circle cx="385.0" cy="380.1" r="1.25"/><circle cx="367.2" cy="408.7" r="1.40"/><circle cx="326.6" cy="373.7" r="1.04"/><circle cx="310.3" cy="376.5" r="1.08"/><circle cx="330.7" cy="341.3" r="1.82"/><circle cx="348.0" cy="358.3" r="1.60"/><circle cx="321.1" cy="385.1" r="1.42"/><circle cx="342.6" cy="348.0" r="1.47"/><circle cx="315.1" cy="378.7" r="1.34"/><circle cx="354.1" cy="382.6" r="0.94"/><circle cx="357.4" cy="407.2" r="1.16"/><circle cx="375.2" cy="359.2" r="1.14"/><circle cx="400.2" cy="415.7" r="1.21"/><circle cx="299.4" cy="401.0" r="1.36"/><circle cx="370.6" cy="349.4" r="1.20"/><circle cx="368.5" cy="329.5" r="1.55"/><circle cx="375.3" cy="410.8" r="1.24"/><circle cx="394.1" cy="390.6" r="1.15"/><circle cx="373.4" cy="377.5" r="0.74"/><circle cx="335.4" cy="401.1" r="1.48"/><circle cx="291.8" cy="418.8" r="1.63"/><circle cx="353.8" cy="400.4" r="1.67"/><circle cx="284.5" cy="394.1" r="1.34"/><circle cx="310.3" cy="318.5" r="1.69"/><circle cx="383.1" cy="338.1" r="1.26"/><circle cx="358.4" cy="341.2" r="1.23"/><circle cx="372.0" cy="392.5" r="0.93"/><circle cx="382.5" cy="356.1" r="0.77"/><circle cx="361.5" cy="320.4" r="1.55"/><circle cx="304.1" cy="392.5" r="2.87"/><circle cx="406.0" cy="401.5" r="1.23"/><circle cx="396.5" cy="412.6" r="1.86"/><circle cx="390.5" cy="353.3" r="1.67"/><circle cx="293.3" cy="380.3" r="2.59"/><circle cx="363.8" cy="389.2" r="1.90"/><circle cx="405.8" cy="376.4" r="1.42"/><circle cx="391.7" cy="360.9" r="1.26"/><circle cx="335.2" cy="405.2" r="1.30"/><circle cx="405.3" cy="365.2" r="1.63"/><circle cx="402.0" cy="336.6" r="1.59"/><circle cx="359.3" cy="378.1" r="1.00"/><circle cx="381.5" cy="395.0" r="1.12"/><circle cx="331.6" cy="363.4" r="1.49"/><circle cx="280.7" cy="334.7" r="1.14"/><circle cx="287.2" cy="340.0" r="1.99"/><circle cx="379.4" cy="417.3" r="1.88"/><circle cx="294.7" cy="366.3" r="1.28"/><circle cx="302.0" cy="409.7" r="1.03"/><circle cx="301.9" cy="358.3" r="1.08"/><circle cx="409.1" cy="392.6" r="1.42"/><circle cx="377.3" cy="362.6" r="0.97"/><circle cx="357.1" cy="348.5" r="1.10"/><circle cx="335.7" cy="398.1" r="1.46"/><circle cx="308.8" cy="356.5" r="1.08"/><circle cx="328.4" cy="403.9" r="1.31"/><circle cx="285.5" cy="383.2" r="1.72"/><circle cx="322.1" cy="398.0" r="1.04"/><circle cx="340.7" cy="417.8" r="1.93"/><circle cx="405.9" cy="341.4" r="1.26"/><circle cx="332.5" cy="398.2" r="1.47"/><circle cx="390.6" cy="370.8" r="0.88"/><circle cx="384.9" cy="361.9" r="1.08"/><circle cx="296.4" cy="347.5" r="1.13"/><circle cx="362.7" cy="346.2" r="1.17"/><circle cx="404.2" cy="372.6" r="1.31"/><circle cx="357.6" cy="394.8" r="0.81"/><circle cx="394.8" cy="345.8" r="1.84"/><circle cx="293.6" cy="362.6" r="1.71"/><circle cx="349.4" cy="380.2" r="1.14"/><circle cx="337.9" cy="353.8" r="1.62"/><circle cx="338.0" cy="328.1" r="2.06"/><circle cx="384.9" cy="371.9" r="1.14"/><circle cx="286.5" cy="355.5" r="1.76"/><circle cx="306.6" cy="418.6" r="1.26"/><circle cx="379.5" cy="342.1" r="0.70"/><circle cx="370.2" cy="368.6" r="0.88"/><circle cx="395.0" cy="376.6" r="0.99"/><circle cx="361.1" cy="326.4" r="1.56"/><circle cx="357.6" cy="367.1" r="1.03"/><circle cx="313.6" cy="388.8" r="1.86"/><circle cx="305.0" cy="359.4" r="1.66"/><circle cx="350.1" cy="322.3" r="1.29"/><circle cx="288.3" cy="348.2" r="1.57"/><circle cx="345.1" cy="391.7" r="0.92"/><circle cx="315.0" cy="396.4" r="1.03"/><circle cx="354.2" cy="396.7" r="1.15"/><circle cx="310.6" cy="362.2" r="1.38"/><circle cx="295.4" cy="326.3" r="2.23"/><circle cx="373.7" cy="335.9" r="1.19"/><circle cx="360.8" cy="383.6" r="1.22"/><circle cx="365.7" cy="413.0" r="1.38"/><circle cx="316.7" cy="368.7" r="1.42"/><circle cx="365.5" cy="378.5" r="1.32"/><circle cx="404.8" cy="315.5" r="1.87"/><circle cx="404.4" cy="391.9" r="1.14"/><circle cx="409.4" cy="401.0" r="1.76"/><circle cx="295.9" cy="343.8" r="1.42"/><circle cx="338.1" cy="402.6" r="1.46"/><circle cx="373.7" cy="408.8" r="0.87"/><circle cx="357.4" cy="416.3" r="2.43"/><circle cx="291.2" cy="366.2" r="1.21"/><circle cx="341.7" cy="401.1" r="1.61"/><circle cx="306.4" cy="325.1" r="1.37"/><circle cx="299.6" cy="330.4" r="1.70"/><circle cx="377.4" cy="390.1" r="1.13"/><circle cx="343.3" cy="315.6" r="1.63"/><circle cx="398.5" cy="320.1" r="1.83"/><circle cx="381.5" cy="373.2" r="1.28"/><circle cx="345.9" cy="335.0" r="1.87"/><circle cx="319.6" cy="413.5" r="1.42"/><circle cx="407.5" cy="372.6" r="1.52"/><circle cx="388.1" cy="372.1" r="0.75"/><circle cx="340.3" cy="323.7" r="1.55"/><circle cx="334.7" cy="382.5" r="1.61"/><circle cx="385.4" cy="323.5" r="1.18"/><circle cx="372.5" cy="366.6" r="1.49"/><circle cx="381.0" cy="315.3" r="1.17"/><circle cx="408.4" cy="317.0" r="2.17"/><circle cx="379.1" cy="359.5" r="0.88"/><circle cx="331.8" cy="411.6" r="1.12"/><circle cx="361.9" cy="373.8" r="1.10"/><circle cx="313.8" cy="316.9" r="1.40"/><circle cx="383.3" cy="385.1" r="1.16"/><circle cx="389.1" cy="408.5" r="1.81"/><circle cx="393.2" cy="364.9" r="1.48"/><circle cx="400.0" cy="410.8" r="1.61"/><circle cx="369.5" cy="382.0" r="0.85"/><circle cx="303.4" cy="345.9" r="1.61"/><circle cx="323.2" cy="367.0" r="1.32"/><circle cx="293.9" cy="385.7" r="0.94"/><circle cx="344.9" cy="405.8" r="1.51"/><circle cx="312.0" cy="403.8" r="1.69"/><circle cx="356.1" cy="392.7" r="1.18"/><circle cx="394.4" cy="338.2" r="1.23"/><circle cx="327.8" cy="336.8" r="1.85"/><circle cx="408.9" cy="385.0" r="1.81"/><circle cx="307.6" cy="332.5" r="1.14"/><circle cx="344.3" cy="324.8" r="1.00"/><circle cx="317.9" cy="402.2" r="1.29"/><circle cx="378.1" cy="351.3" r="1.01"/><circle cx="341.3" cy="397.4" r="1.64"/><circle cx="303.5" cy="336.4" r="1.25"/><circle cx="357.3" cy="326.7" r="1.23"/><circle cx="321.7" cy="326.2" r="1.74"/><circle cx="376.2" cy="368.7" r="1.21"/><circle cx="338.0" cy="381.6" r="1.29"/><circle cx="389.2" cy="327.7" r="1.51"/><circle cx="378.3" cy="336.1" r="1.45"/><circle cx="405.1" cy="361.9" r="1.41"/><circle cx="316.9" cy="325.0" r="1.68"/><circle cx="356.0" cy="364.7" r="1.02"/><circle cx="342.4" cy="390.3" r="1.19"/><circle cx="299.3" cy="412.9" r="1.36"/><circle cx="299.7" cy="419.6" r="1.40"/><circle cx="317.7" cy="361.6" r="1.47"/><circle cx="400.7" cy="351.4" r="1.44"/><circle cx="410.0" cy="412.7" r="1.18"/><circle cx="409.7" cy="416.3" r="1.31"/><circle cx="374.7" cy="383.9" r="1.02"/><circle cx="344.9" cy="339.0" r="1.74"/><circle cx="354.9" cy="410.2" r="1.72"/><circle cx="382.7" cy="367.2" r="1.02"/><circle cx="399.7" cy="359.7" r="0.85"/><circle cx="375.1" cy="375.1" r="0.94"/><circle cx="369.8" cy="376.5" r="0.99"/><circle cx="308.0" cy="352.7" r="1.81"/><circle cx="345.1" cy="398.6" r="1.20"/><circle cx="372.1" cy="361.3" r="1.28"/><circle cx="378.4" cy="379.3" r="0.84"/><circle cx="305.8" cy="342.4" r="1.31"/><circle cx="362.7" cy="317.2" r="1.83"/><circle cx="350.5" cy="371.5" r="0.83"/><circle cx="288.5" cy="397.5" r="1.32"/><circle cx="337.7" cy="415.7" r="1.76"/><circle cx="386.2" cy="388.6" r="0.74"/><circle cx="380.2" cy="357.3" r="0.72"/><circle cx="380.8" cy="390.2" r="1.10"/><circle cx="308.0" cy="381.6" r="0.93"/><circle cx="288.4" cy="368.9" r="1.22"/><circle cx="395.9" cy="381.9" r="0.80"/></g>
<path d="M327.5 316 C330 340, 336 368, 350 392 S358 408, 357 414" stroke="#ece6d0" stroke-width="1.6" fill="none" stroke-linecap="round"/>
<path d="M287 384 C300 392, 330 402, 352 398" stroke="#d8c8a0" stroke-width="0.7" fill="none" opacity="0.5"/>
<path d="M378 408 C388 403, 396 398, 405 392" stroke="#ece4cc" stroke-width="1.3" fill="none"/>
<path d="M287 319 L297 317 L287 328 Z" stroke="#e8dcc0" stroke-width="0" fill="#e8dcc0" opacity="0.6"/>
<path d="M394 317 L405 317 L405 330 Z" stroke="#e0dcd0" stroke-width="0" fill="#e0dcd0" opacity="0.5"/>
<line x1="383.00" y1="405.60" x2="401.00" y2="405.60" stroke="#111" stroke-width="0.9"/>
<line x1="383.00" y1="403.40" x2="383.00" y2="407.80" stroke="#111" stroke-width="0.9"/>
<line x1="401.00" y1="403.40" x2="401.00" y2="407.80" stroke="#111" stroke-width="0.9"/>
<text x="392.00" y="409.80" font-size="3.6" text-anchor="middle" fill="#111">300µm</text>
</g></g>
<rect x="287.30" y="317.60" width="116.70" height="94.40" fill="none" stroke="#1c1c1c" stroke-width="1.0"/>
<clipPath id="c4"><rect x="412.0" y="318.5" width="116.00" height="92.50"/></clipPath>
<g clip-path="url(#c4)"><g filter="url(#bl)">
<rect x="410.00" y="316.50" width="120.00" height="96.50" fill="#a27a36"/>
<g fill="#c8a258"><circle cx="438.3" cy="407.5" r="1.69"/><circle cx="493.8" cy="326.4" r="1.87"/><circle cx="527.9" cy="337.9" r="2.46"/><circle cx="465.3" cy="360.4" r="2.24"/><circle cx="434.3" cy="395.3" r="1.63"/><circle cx="439.2" cy="320.3" r="1.90"/><circle cx="459.3" cy="401.9" r="2.07"/><circle cx="425.2" cy="342.4" r="2.99"/><circle cx="419.3" cy="375.9" r="2.07"/><circle cx="488.7" cy="349.8" r="2.54"/><circle cx="469.7" cy="378.6" r="2.85"/><circle cx="479.5" cy="331.6" r="1.60"/><circle cx="521.7" cy="363.7" r="1.79"/><circle cx="521.7" cy="372.1" r="2.59"/><circle cx="514.2" cy="344.9" r="2.04"/><circle cx="513.9" cy="331.0" r="2.65"/><circle cx="423.3" cy="382.3" r="2.55"/><circle cx="522.2" cy="396.5" r="2.26"/><circle cx="434.9" cy="332.4" r="2.29"/><circle cx="471.1" cy="325.1" r="2.85"/><circle cx="470.9" cy="383.4" r="1.83"/><circle cx="440.3" cy="319.6" r="2.01"/><circle cx="443.0" cy="357.7" r="2.07"/><circle cx="508.8" cy="401.0" r="1.76"/><circle cx="458.0" cy="333.9" r="2.49"/><circle cx="525.1" cy="337.2" r="2.65"/><circle cx="446.8" cy="319.7" r="2.65"/><circle cx="451.7" cy="334.2" r="2.15"/><circle cx="438.9" cy="356.4" r="2.17"/><circle cx="460.5" cy="372.9" r="1.93"/><circle cx="423.0" cy="326.4" r="1.66"/><circle cx="472.4" cy="351.8" r="2.71"/><circle cx="470.6" cy="384.0" r="2.97"/><circle cx="419.3" cy="320.1" r="1.71"/><circle cx="456.8" cy="371.6" r="2.62"/><circle cx="452.8" cy="407.8" r="1.50"/><circle cx="508.9" cy="337.9" r="2.81"/><circle cx="415.8" cy="407.8" r="2.64"/><circle cx="526.9" cy="372.2" r="1.77"/><circle cx="524.5" cy="359.3" r="1.63"/><circle cx="482.2" cy="364.5" r="2.21"/><circle cx="429.9" cy="329.8" r="2.37"/><circle cx="464.5" cy="330.2" r="2.16"/><circle cx="496.2" cy="384.7" r="2.21"/><circle cx="457.7" cy="351.9" r="1.84"/><circle cx="434.9" cy="359.8" r="1.66"/><circle cx="496.1" cy="384.0" r="2.42"/><circle cx="414.6" cy="352.2" r="2.15"/><circle cx="422.8" cy="408.0" r="2.63"/><circle cx="470.3" cy="383.7" r="1.80"/><circle cx="438.6" cy="367.1" r="2.62"/><circle cx="487.1" cy="319.1" r="2.42"/><circle cx="517.4" cy="387.3" r="2.89"/><circle cx="525.9" cy="339.2" r="1.94"/><circle cx="475.5" cy="408.9" r="2.05"/><circle cx="521.2" cy="397.2" r="2.27"/><circle cx="484.5" cy="407.0" r="2.67"/><circle cx="446.3" cy="396.7" r="1.79"/><circle cx="454.9" cy="407.2" r="2.77"/><circle cx="448.2" cy="345.4" r="2.42"/><circle cx="509.7" cy="381.8" r="2.90"/><circle cx="496.5" cy="394.4" r="2.41"/><circle cx="454.0" cy="358.0" r="2.23"/><circle cx="473.4" cy="396.0" r="1.90"/><circle cx="420.0" cy="386.3" r="1.91"/><circle cx="460.7" cy="329.3" r="2.74"/><circle cx="443.8" cy="345.5" r="2.71"/><circle cx="470.5" cy="344.2" r="2.83"/><circle cx="459.8" cy="351.9" r="2.95"/><circle cx="503.7" cy="387.6" r="1.87"/><circle cx="506.3" cy="373.7" r="2.74"/><circle cx="454.7" cy="390.7" r="2.69"/><circle cx="457.0" cy="379.1" r="2.67"/><circle cx="527.2" cy="403.6" r="2.68"/><circle cx="427.9" cy="375.0" r="2.53"/><circle cx="422.1" cy="361.3" r="2.80"/><circle cx="517.0" cy="404.1" r="1.64"/><circle cx="482.4" cy="398.5" r="2.48"/><circle cx="449.1" cy="322.1" r="2.88"/><circle cx="511.7" cy="379.0" r="2.05"/><circle cx="508.1" cy="393.9" r="2.59"/><circle cx="481.6" cy="348.0" r="1.94"/><circle cx="453.5" cy="348.7" r="2.28"/><circle cx="425.2" cy="385.2" r="2.02"/><circle cx="430.5" cy="342.1" r="2.08"/><circle cx="462.0" cy="390.9" r="1.65"/><circle cx="437.8" cy="345.6" r="1.77"/><circle cx="498.9" cy="328.6" r="1.58"/><circle cx="476.5" cy="386.6" r="2.74"/><circle cx="476.9" cy="348.7" r="2.82"/><circle cx="497.4" cy="362.8" r="2.34"/><circle cx="520.6" cy="410.8" r="2.90"/><circle cx="427.4" cy="348.7" r="2.11"/><circle cx="431.6" cy="389.0" r="1.59"/><circle cx="514.9" cy="372.7" r="2.42"/><circle cx="460.1" cy="405.1" r="2.37"/><circle cx="516.0" cy="403.8" r="2.54"/><circle cx="526.1" cy="363.8" r="2.05"/><circle cx="509.9" cy="367.3" r="1.96"/><circle cx="490.9" cy="362.5" r="1.69"/><circle cx="509.2" cy="364.7" r="2.96"/><circle cx="473.9" cy="405.2" r="1.93"/><circle cx="437.2" cy="367.2" r="2.65"/><circle cx="507.7" cy="378.4" r="1.69"/><circle cx="457.7" cy="321.7" r="2.06"/><circle cx="521.6" cy="350.6" r="2.55"/><circle cx="484.1" cy="331.7" r="2.53"/><circle cx="421.2" cy="335.6" r="2.37"/><circle cx="426.8" cy="407.7" r="2.14"/><circle cx="485.1" cy="407.8" r="1.66"/><circle cx="527.9" cy="322.2" r="2.40"/><circle cx="488.1" cy="409.7" r="2.04"/><circle cx="521.8" cy="378.6" r="2.21"/><circle cx="431.7" cy="340.3" r="2.05"/><circle cx="452.2" cy="352.9" r="2.71"/><circle cx="455.5" cy="376.7" r="1.56"/><circle cx="428.3" cy="384.2" r="2.84"/><circle cx="448.3" cy="321.5" r="1.85"/><circle cx="453.8" cy="352.4" r="2.34"/><circle cx="447.0" cy="378.4" r="2.68"/><circle cx="502.9" cy="387.1" r="2.38"/><circle cx="442.3" cy="396.3" r="1.93"/><circle cx="511.8" cy="359.9" r="2.44"/><circle cx="469.9" cy="379.0" r="2.01"/><circle cx="479.1" cy="386.6" r="2.04"/><circle cx="481.7" cy="360.7" r="2.21"/><circle cx="456.5" cy="369.1" r="2.56"/><circle cx="432.2" cy="332.0" r="2.73"/><circle cx="422.3" cy="391.9" r="2.64"/><circle cx="437.2" cy="377.3" r="1.88"/><circle cx="514.3" cy="336.8" r="1.67"/><circle cx="416.2" cy="385.0" r="1.82"/><circle cx="448.5" cy="408.9" r="2.60"/><circle cx="497.6" cy="371.8" r="2.46"/><circle cx="413.3" cy="393.7" r="1.99"/><circle cx="511.1" cy="356.8" r="2.87"/><circle cx="412.1" cy="409.2" r="1.64"/><circle cx="471.3" cy="363.0" r="2.98"/><circle cx="495.2" cy="409.3" r="2.86"/><circle cx="461.3" cy="332.2" r="1.72"/><circle cx="494.3" cy="406.5" r="2.50"/><circle cx="452.2" cy="373.7" r="2.49"/><circle cx="441.3" cy="382.7" r="1.80"/><circle cx="415.2" cy="324.4" r="2.23"/><circle cx="492.7" cy="339.4" r="2.10"/><circle cx="492.4" cy="342.8" r="2.28"/><circle cx="481.9" cy="356.1" r="1.81"/><circle cx="492.4" cy="383.3" r="1.78"/><circle cx="505.7" cy="379.1" r="2.80"/><circle cx="502.5" cy="364.2" r="2.57"/><circle cx="448.5" cy="379.0" r="1.62"/><circle cx="452.1" cy="365.3" r="2.83"/><circle cx="491.3" cy="402.6" r="2.80"/><circle cx="524.6" cy="375.6" r="2.43"/><circle cx="466.4" cy="339.0" r="2.69"/><circle cx="482.8" cy="333.5" r="1.86"/><circle cx="437.6" cy="385.3" r="2.40"/><circle cx="435.3" cy="382.1" r="2.34"/><circle cx="442.9" cy="359.6" r="2.99"/><circle cx="428.4" cy="340.4" r="2.39"/><circle cx="509.4" cy="403.8" r="2.10"/><circle cx="501.2" cy="329.5" r="2.08"/><circle cx="511.4" cy="380.0" r="2.17"/><circle cx="481.4" cy="363.6" r="2.32"/><circle cx="514.6" cy="408.7" r="1.80"/><circle cx="499.6" cy="405.9" r="2.41"/><circle cx="470.1" cy="353.0" r="2.23"/><circle cx="479.4" cy="375.1" r="1.67"/><circle cx="527.9" cy="344.0" r="2.32"/><circle cx="435.0" cy="376.9" r="1.61"/><circle cx="450.9" cy="354.1" r="1.97"/><circle cx="468.5" cy="333.1" r="2.24"/><circle cx="504.3" cy="376.7" r="2.96"/><circle cx="522.2" cy="362.7" r="2.20"/><circle cx="500.4" cy="399.9" r="2.31"/><circle cx="489.4" cy="382.4" r="2.27"/><circle cx="471.0" cy="355.6" r="2.17"/><circle cx="467.0" cy="392.8" r="1.74"/><circle cx="425.6" cy="403.9" r="2.27"/><circle cx="492.8" cy="403.2" r="2.60"/><circle cx="477.7" cy="406.6" r="2.44"/><circle cx="463.8" cy="335.4" r="1.74"/><circle cx="503.9" cy="401.4" r="2.04"/><circle cx="473.4" cy="381.3" r="2.41"/><circle cx="443.9" cy="402.8" r="2.33"/><circle cx="494.9" cy="382.2" r="2.16"/><circle cx="493.3" cy="336.1" r="2.32"/><circle cx="487.6" cy="376.7" r="1.94"/><circle cx="433.0" cy="327.9" r="1.69"/><circle cx="433.4" cy="363.4" r="2.35"/><circle cx="493.9" cy="359.0" r="2.65"/><circle cx="415.4" cy="350.7" r="1.68"/><circle cx="471.9" cy="371.5" r="2.37"/><circle cx="463.5" cy="352.6" r="1.99"/><circle cx="424.3" cy="336.4" r="2.23"/><circle cx="477.8" cy="327.8" r="2.77"/><circle cx="415.2" cy="330.2" r="2.17"/><circle cx="450.6" cy="366.6" r="2.53"/><circle cx="481.0" cy="391.1" r="2.21"/><circle cx="490.4" cy="357.2" r="1.69"/></g>
<g fill="#6a4018"><circle cx="420.6" cy="335.3" r="1.24"/><circle cx="444.0" cy="370.4" r="1.47"/><circle cx="518.6" cy="332.3" r="1.76"/><circle cx="412.1" cy="400.8" r="1.78"/><circle cx="454.4" cy="392.4" r="1.31"/><circle cx="477.2" cy="397.8" r="1.74"/><circle cx="446.8" cy="338.8" r="1.72"/><circle cx="480.7" cy="401.9" r="1.02"/><circle cx="510.5" cy="333.3" r="0.95"/><circle cx="445.4" cy="404.3" r="1.19"/><circle cx="463.1" cy="345.2" r="0.87"/><circle cx="463.2" cy="364.5" r="1.13"/><circle cx="496.8" cy="347.2" r="1.78"/><circle cx="517.5" cy="372.0" r="0.90"/><circle cx="476.9" cy="375.9" r="1.45"/><circle cx="461.3" cy="385.6" r="1.80"/><circle cx="493.5" cy="322.3" r="1.43"/><circle cx="484.3" cy="368.9" r="1.74"/><circle cx="418.1" cy="320.1" r="1.52"/><circle cx="423.6" cy="331.2" r="1.62"/><circle cx="453.9" cy="400.2" r="1.60"/><circle cx="488.9" cy="351.7" r="0.88"/><circle cx="525.2" cy="399.0" r="1.72"/><circle cx="471.0" cy="344.5" r="1.43"/><circle cx="460.6" cy="336.2" r="0.91"/><circle cx="459.3" cy="332.2" r="1.07"/><circle cx="525.4" cy="404.9" r="1.69"/><circle cx="471.4" cy="389.1" r="0.96"/><circle cx="484.0" cy="408.6" r="1.59"/><circle cx="526.4" cy="376.6" r="1.10"/><circle cx="414.4" cy="343.5" r="1.63"/><circle cx="473.2" cy="376.2" r="1.60"/><circle cx="446.3" cy="331.5" r="1.69"/><circle cx="481.7" cy="321.0" r="1.50"/><circle cx="495.7" cy="388.9" r="0.93"/><circle cx="443.7" cy="385.4" r="1.47"/><circle cx="452.2" cy="408.1" r="1.10"/><circle cx="515.4" cy="331.0" r="1.26"/><circle cx="527.1" cy="382.7" r="1.56"/><circle cx="514.5" cy="376.5" r="1.35"/><circle cx="507.7" cy="367.7" r="1.76"/><circle cx="500.3" cy="318.6" r="1.09"/><circle cx="514.7" cy="329.3" r="0.82"/><circle cx="479.5" cy="382.7" r="1.78"/><circle cx="523.7" cy="376.5" r="1.50"/><circle cx="473.5" cy="397.1" r="1.49"/><circle cx="426.9" cy="376.4" r="0.85"/><circle cx="450.9" cy="349.4" r="1.72"/><circle cx="437.6" cy="353.3" r="1.36"/><circle cx="435.8" cy="360.4" r="1.10"/><circle cx="495.7" cy="391.9" r="1.38"/><circle cx="512.6" cy="363.9" r="1.55"/><circle cx="423.0" cy="354.3" r="1.12"/><circle cx="514.9" cy="364.6" r="1.18"/><circle cx="489.4" cy="406.8" r="1.63"/><circle cx="505.2" cy="380.1" r="1.60"/><circle cx="477.2" cy="354.4" r="1.12"/><circle cx="442.5" cy="349.7" r="1.30"/><circle cx="512.0" cy="340.4" r="1.19"/><circle cx="442.3" cy="363.1" r="0.86"/><circle cx="484.3" cy="397.9" r="1.71"/><circle cx="453.6" cy="334.1" r="1.53"/><circle cx="499.6" cy="336.1" r="0.86"/><circle cx="489.7" cy="353.6" r="1.32"/><circle cx="477.5" cy="400.3" r="0.93"/><circle cx="442.1" cy="321.7" r="1.49"/><circle cx="421.2" cy="397.4" r="1.41"/><circle cx="471.4" cy="343.2" r="1.67"/><circle cx="425.3" cy="372.2" r="1.63"/><circle cx="488.3" cy="323.1" r="0.91"/><circle cx="445.1" cy="386.1" r="0.94"/><circle cx="522.9" cy="400.4" r="1.37"/><circle cx="513.7" cy="377.3" r="0.96"/><circle cx="458.9" cy="320.7" r="1.24"/><circle cx="526.8" cy="355.9" r="1.46"/><circle cx="453.7" cy="380.9" r="1.13"/><circle cx="518.0" cy="356.4" r="1.07"/><circle cx="461.8" cy="325.5" r="1.13"/><circle cx="497.7" cy="355.9" r="1.25"/><circle cx="439.2" cy="394.8" r="1.68"/><circle cx="459.4" cy="318.7" r="1.23"/><circle cx="513.4" cy="378.8" r="1.03"/><circle cx="424.2" cy="400.5" r="0.88"/><circle cx="483.4" cy="373.6" r="0.98"/><circle cx="463.2" cy="398.3" r="1.80"/><circle cx="420.7" cy="321.4" r="1.06"/><circle cx="417.8" cy="404.4" r="0.88"/><circle cx="454.6" cy="397.8" r="1.26"/><circle cx="439.1" cy="324.3" r="1.03"/><circle cx="448.0" cy="396.9" r="1.23"/><circle cx="476.1" cy="342.8" r="1.21"/><circle cx="519.6" cy="329.1" r="1.50"/><circle cx="448.4" cy="357.2" r="1.52"/><circle cx="452.5" cy="363.7" r="1.29"/><circle cx="468.2" cy="325.3" r="1.19"/><circle cx="456.1" cy="357.3" r="1.09"/><circle cx="464.0" cy="387.0" r="0.87"/><circle cx="420.7" cy="368.0" r="1.38"/><circle cx="504.7" cy="321.5" r="0.81"/><circle cx="482.5" cy="338.4" r="1.29"/><circle cx="446.1" cy="326.6" r="1.36"/><circle cx="448.6" cy="363.5" r="1.67"/><circle cx="464.2" cy="396.4" r="1.09"/><circle cx="433.1" cy="355.7" r="1.10"/><circle cx="496.3" cy="329.7" r="1.52"/><circle cx="437.5" cy="356.3" r="1.02"/><circle cx="428.8" cy="331.4" r="1.79"/><circle cx="423.5" cy="404.0" r="1.26"/><circle cx="514.3" cy="335.1" r="1.38"/><circle cx="491.2" cy="346.8" r="1.41"/><circle cx="516.8" cy="357.0" r="0.83"/><circle cx="482.8" cy="390.7" r="1.25"/><circle cx="509.4" cy="351.4" r="1.25"/><circle cx="462.1" cy="327.2" r="0.87"/><circle cx="486.0" cy="400.7" r="0.98"/><circle cx="517.0" cy="348.7" r="1.22"/><circle cx="416.9" cy="319.2" r="1.38"/><circle cx="514.6" cy="377.3" r="0.93"/><circle cx="488.7" cy="330.5" r="1.27"/><circle cx="499.0" cy="354.3" r="1.12"/><circle cx="449.2" cy="345.4" r="0.82"/><circle cx="496.3" cy="354.7" r="0.99"/><circle cx="448.1" cy="322.3" r="1.27"/><circle cx="479.7" cy="376.0" r="1.24"/><circle cx="526.7" cy="332.4" r="1.00"/><circle cx="477.1" cy="356.6" r="1.10"/><circle cx="496.1" cy="366.1" r="1.37"/><circle cx="492.2" cy="357.5" r="1.31"/><circle cx="526.6" cy="333.5" r="1.27"/><circle cx="483.1" cy="389.1" r="0.89"/><circle cx="425.4" cy="343.2" r="1.47"/><circle cx="436.3" cy="321.7" r="1.22"/><circle cx="429.9" cy="382.1" r="1.75"/><circle cx="499.4" cy="371.1" r="1.21"/><circle cx="415.1" cy="358.7" r="1.32"/><circle cx="446.9" cy="356.2" r="1.74"/><circle cx="455.2" cy="342.8" r="1.24"/><circle cx="520.4" cy="322.4" r="1.27"/><circle cx="526.7" cy="367.4" r="1.12"/><circle cx="450.6" cy="382.5" r="0.93"/><circle cx="522.3" cy="382.6" r="1.71"/><circle cx="430.8" cy="320.1" r="1.12"/><circle cx="466.2" cy="367.4" r="1.42"/><circle cx="416.1" cy="405.1" r="0.95"/><circle cx="433.6" cy="330.2" r="1.18"/><circle cx="430.7" cy="384.6" r="1.15"/><circle cx="426.6" cy="352.5" r="1.62"/><circle cx="475.6" cy="324.8" r="1.39"/><circle cx="469.1" cy="366.5" r="1.55"/><circle cx="428.7" cy="383.1" r="1.57"/><circle cx="518.3" cy="354.2" r="1.02"/><circle cx="494.3" cy="410.7" r="1.77"/><circle cx="480.9" cy="348.2" r="1.72"/><circle cx="429.6" cy="378.0" r="1.66"/><circle cx="477.1" cy="387.2" r="1.23"/><circle cx="493.6" cy="338.3" r="1.48"/><circle cx="428.1" cy="334.6" r="0.92"/><circle cx="449.4" cy="319.1" r="1.50"/><circle cx="518.0" cy="396.1" r="0.84"/><circle cx="469.3" cy="330.8" r="1.37"/></g>
<g fill="#5a3424"><ellipse cx="446.8" cy="322.6" rx="3.73" ry="3.19" transform="rotate(52 446.8 322.6)"/><ellipse cx="478.9" cy="347.7" rx="5.38" ry="4.80" transform="rotate(88 478.9 347.7)"/><ellipse cx="484.8" cy="407.5" rx="4.85" ry="3.77" transform="rotate(175 484.8 407.5)"/><ellipse cx="529.8" cy="355.0" rx="4.19" ry="3.50" transform="rotate(-168 529.8 355.0)"/><ellipse cx="409.0" cy="398.4" rx="5.06" ry="3.51" transform="rotate(-168 409.0 398.4)"/><ellipse cx="497.1" cy="382.6" rx="4.29" ry="4.14" transform="rotate(121 497.1 382.6)"/><ellipse cx="531.0" cy="321.8" rx="4.74" ry="4.62" transform="rotate(-161 531.0 321.8)"/><ellipse cx="406.6" cy="390.6" rx="4.78" ry="3.72" transform="rotate(148 406.6 390.6)"/><ellipse cx="500.7" cy="362.7" rx="4.99" ry="3.67" transform="rotate(-147 500.7 362.7)"/><ellipse cx="511.5" cy="354.9" rx="4.29" ry="3.10" transform="rotate(-143 511.5 354.9)"/><ellipse cx="514.2" cy="379.0" rx="4.84" ry="4.12" transform="rotate(125 514.2 379.0)"/><ellipse cx="458.2" cy="400.1" rx="3.53" ry="3.13" transform="rotate(85 458.2 400.1)"/><ellipse cx="455.3" cy="356.9" rx="5.17" ry="3.82" transform="rotate(-168 455.3 356.9)"/><ellipse cx="430.3" cy="320.8" rx="4.63" ry="3.56" transform="rotate(115 430.3 320.8)"/><ellipse cx="514.9" cy="400.6" rx="4.69" ry="4.37" transform="rotate(-149 514.9 400.6)"/><ellipse cx="482.9" cy="311.7" rx="5.83" ry="5.22" transform="rotate(72 482.9 311.7)"/><ellipse cx="422.7" cy="391.5" rx="3.87" ry="3.36" transform="rotate(82 422.7 391.5)"/><ellipse cx="479.7" cy="365.8" rx="3.90" ry="3.56" transform="rotate(89 479.7 365.8)"/><ellipse cx="470.9" cy="387.8" rx="4.37" ry="3.95" transform="rotate(120 470.9 387.8)"/><ellipse cx="510.1" cy="407.8" rx="4.32" ry="3.29" transform="rotate(129 510.1 407.8)"/><ellipse cx="471.7" cy="378.4" rx="5.49" ry="3.70" transform="rotate(56 471.7 378.4)"/><ellipse cx="488.5" cy="415.1" rx="4.36" ry="3.74" transform="rotate(-158 488.5 415.1)"/><ellipse cx="430.2" cy="377.2" rx="5.20" ry="3.97" transform="rotate(112 430.2 377.2)"/><ellipse cx="521.9" cy="395.7" rx="4.89" ry="4.01" transform="rotate(86 521.9 395.7)"/><ellipse cx="414.0" cy="360.1" rx="4.46" ry="3.81" transform="rotate(149 414.0 360.1)"/><ellipse cx="416.3" cy="411.5" rx="4.67" ry="4.04" transform="rotate(65 416.3 411.5)"/><ellipse cx="445.8" cy="313.8" rx="4.39" ry="3.73" transform="rotate(105 445.8 313.8)"/><ellipse cx="485.6" cy="393.3" rx="5.21" ry="3.94" transform="rotate(-165 485.6 393.3)"/><ellipse cx="524.1" cy="417.4" rx="4.88" ry="3.26" transform="rotate(111 524.1 417.4)"/><ellipse cx="499.4" cy="404.2" rx="3.98" ry="3.54" transform="rotate(60 499.4 404.2)"/><ellipse cx="464.3" cy="370.2" rx="4.66" ry="3.86" transform="rotate(-156 464.3 370.2)"/><ellipse cx="468.6" cy="326.4" rx="3.98" ry="3.70" transform="rotate(-174 468.6 326.4)"/><ellipse cx="478.0" cy="328.6" rx="5.38" ry="4.31" transform="rotate(152 478.0 328.6)"/><ellipse cx="514.3" cy="369.1" rx="4.62" ry="3.24" transform="rotate(85 514.3 369.1)"/><ellipse cx="496.7" cy="330.7" rx="4.52" ry="4.49" transform="rotate(68 496.7 330.7)"/><ellipse cx="532.2" cy="330.9" rx="4.35" ry="4.00" transform="rotate(-144 532.2 330.9)"/><ellipse cx="453.4" cy="372.2" rx="5.69" ry="3.98" transform="rotate(-177 453.4 372.2)"/><ellipse cx="462.3" cy="388.5" rx="4.85" ry="3.24" transform="rotate(-157 462.3 388.5)"/><ellipse cx="417.0" cy="335.1" rx="5.64" ry="4.30" transform="rotate(-145 417.0 335.1)"/><ellipse cx="412.1" cy="351.6" rx="5.68" ry="4.41" transform="rotate(-157 412.1 351.6)"/><ellipse cx="492.7" cy="356.7" rx="4.58" ry="3.69" transform="rotate(63 492.7 356.7)"/><ellipse cx="502.8" cy="411.8" rx="4.55" ry="3.88" transform="rotate(127 502.8 411.8)"/><ellipse cx="457.4" cy="330.9" rx="4.13" ry="3.22" transform="rotate(107 457.4 330.9)"/><ellipse cx="409.2" cy="415.2" rx="4.83" ry="3.52" transform="rotate(-166 409.2 415.2)"/><ellipse cx="523.3" cy="328.9" rx="5.36" ry="3.99" transform="rotate(99 523.3 328.9)"/><ellipse cx="470.6" cy="351.8" rx="4.59" ry="3.90" transform="rotate(115 470.6 351.8)"/><ellipse cx="467.3" cy="343.6" rx="5.47" ry="3.63" transform="rotate(170 467.3 343.6)"/><ellipse cx="517.0" cy="311.3" rx="4.92" ry="3.78" transform="rotate(128 517.0 311.3)"/><ellipse cx="404.1" cy="333.5" rx="5.59" ry="4.97" transform="rotate(178 404.1 333.5)"/><ellipse cx="514.1" cy="390.4" rx="4.65" ry="3.43" transform="rotate(71 514.1 390.4)"/><ellipse cx="454.1" cy="415.6" rx="5.06" ry="4.12" transform="rotate(-155 454.1 415.6)"/><ellipse cx="452.4" cy="397.7" rx="4.05" ry="3.50" transform="rotate(107 452.4 397.7)"/><ellipse cx="434.4" cy="349.2" rx="4.86" ry="3.59" transform="rotate(-140 434.4 349.2)"/><ellipse cx="414.7" cy="392.1" rx="3.49" ry="3.28" transform="rotate(170 414.7 392.1)"/><ellipse cx="466.5" cy="404.8" rx="4.54" ry="3.41" transform="rotate(149 466.5 404.8)"/><ellipse cx="441.4" cy="326.7" rx="3.80" ry="3.50" transform="rotate(-167 441.4 326.7)"/><ellipse cx="422.2" cy="357.0" rx="5.80" ry="3.96" transform="rotate(-137 422.2 357.0)"/><ellipse cx="500.3" cy="322.2" rx="5.52" ry="4.49" transform="rotate(-180 500.3 322.2)"/><ellipse cx="486.9" cy="331.2" rx="4.88" ry="4.03" transform="rotate(171 486.9 331.2)"/><ellipse cx="510.6" cy="337.6" rx="4.46" ry="3.12" transform="rotate(-166 510.6 337.6)"/><ellipse cx="522.9" cy="407.1" rx="5.11" ry="3.48" transform="rotate(84 522.9 407.1)"/><ellipse cx="505.4" cy="387.2" rx="5.13" ry="3.99" transform="rotate(138 505.4 387.2)"/><ellipse cx="430.1" cy="310.9" rx="4.88" ry="4.10" transform="rotate(59 430.1 310.9)"/><ellipse cx="409.1" cy="312.9" rx="5.71" ry="4.62" transform="rotate(82 409.1 312.9)"/><ellipse cx="504.0" cy="377.5" rx="4.97" ry="4.05" transform="rotate(-162 504.0 377.5)"/><ellipse cx="529.4" cy="389.8" rx="5.23" ry="3.73" transform="rotate(69 529.4 389.8)"/><ellipse cx="462.6" cy="376.6" rx="4.58" ry="3.41" transform="rotate(-163 462.6 376.6)"/><ellipse cx="444.0" cy="395.4" rx="4.56" ry="3.84" transform="rotate(149 444.0 395.4)"/><ellipse cx="522.4" cy="316.9" rx="6.30" ry="4.33" transform="rotate(117 522.4 316.9)"/><ellipse cx="453.2" cy="326.3" rx="4.10" ry="3.26" transform="rotate(114 453.2 326.3)"/><ellipse cx="416.3" cy="319.1" rx="4.82" ry="3.95" transform="rotate(52 416.3 319.1)"/><ellipse cx="429.0" cy="416.8" rx="4.54" ry="4.05" transform="rotate(142 429.0 416.8)"/><ellipse cx="465.8" cy="360.3" rx="4.43" ry="4.11" transform="rotate(-162 465.8 360.3)"/><ellipse cx="418.9" cy="346.3" rx="5.35" ry="3.95" transform="rotate(73 418.9 346.3)"/><ellipse cx="444.2" cy="354.7" rx="6.15" ry="4.85" transform="rotate(128 444.2 354.7)"/><ellipse cx="435.1" cy="393.8" rx="4.26" ry="3.98" transform="rotate(152 435.1 393.8)"/><ellipse cx="470.7" cy="412.8" rx="4.38" ry="3.74" transform="rotate(77 470.7 412.8)"/><ellipse cx="440.9" cy="332.6" rx="3.59" ry="2.81" transform="rotate(-150 440.9 332.6)"/><ellipse cx="422.1" cy="382.2" rx="4.15" ry="3.47" transform="rotate(-143 422.1 382.2)"/><ellipse cx="455.5" cy="348.1" rx="5.45" ry="3.61" transform="rotate(146 455.5 348.1)"/><ellipse cx="457.8" cy="364.6" rx="4.32" ry="4.12" transform="rotate(154 457.8 364.6)"/><ellipse cx="494.8" cy="347.3" rx="4.38" ry="3.85" transform="rotate(104 494.8 347.3)"/><ellipse cx="471.8" cy="367.8" rx="5.17" ry="3.69" transform="rotate(99 471.8 367.8)"/><ellipse cx="440.6" cy="344.5" rx="4.45" ry="3.45" transform="rotate(64 440.6 344.5)"/><ellipse cx="451.7" cy="334.9" rx="4.33" ry="3.03" transform="rotate(105 451.7 334.9)"/><ellipse cx="489.0" cy="339.8" rx="5.46" ry="3.86" transform="rotate(150 489.0 339.8)"/><ellipse cx="410.3" cy="341.8" rx="5.02" ry="4.49" transform="rotate(67 410.3 341.8)"/><ellipse cx="487.9" cy="322.7" rx="6.05" ry="3.99" transform="rotate(-164 487.9 322.7)"/><ellipse cx="524.8" cy="361.6" rx="4.26" ry="3.85" transform="rotate(117 524.8 361.6)"/><ellipse cx="428.1" cy="366.6" rx="4.80" ry="4.19" transform="rotate(-136 428.1 366.6)"/><ellipse cx="535.2" cy="348.5" rx="3.99" ry="3.78" transform="rotate(95 535.2 348.5)"/><ellipse cx="477.2" cy="373.3" rx="3.61" ry="3.55" transform="rotate(122 477.2 373.3)"/><ellipse cx="509.4" cy="362.4" rx="3.93" ry="3.63" transform="rotate(167 509.4 362.4)"/><ellipse cx="475.9" cy="319.9" rx="5.43" ry="4.80" transform="rotate(-170 475.9 319.9)"/><ellipse cx="460.3" cy="323.4" rx="4.64" ry="3.63" transform="rotate(63 460.3 323.4)"/><ellipse cx="519.2" cy="337.5" rx="4.24" ry="3.13" transform="rotate(149 519.2 337.5)"/><ellipse cx="447.0" cy="379.5" rx="5.46" ry="4.15" transform="rotate(74 447.0 379.5)"/><ellipse cx="491.9" cy="400.5" rx="4.43" ry="3.86" transform="rotate(133 491.9 400.5)"/><ellipse cx="426.1" cy="342.7" rx="4.95" ry="3.31" transform="rotate(46 426.1 342.7)"/><ellipse cx="475.0" cy="404.2" rx="5.11" ry="3.81" transform="rotate(63 475.0 404.2)"/><ellipse cx="525.5" cy="378.4" rx="5.02" ry="4.55" transform="rotate(-135 525.5 378.4)"/><ellipse cx="421.0" cy="373.0" rx="4.69" ry="3.80" transform="rotate(-164 421.0 373.0)"/><ellipse cx="413.9" cy="384.8" rx="4.24" ry="2.96" transform="rotate(132 413.9 384.8)"/><ellipse cx="492.7" cy="364.8" rx="4.38" ry="3.21" transform="rotate(53 492.7 364.8)"/><ellipse cx="478.6" cy="337.9" rx="5.48" ry="4.09" transform="rotate(146 478.6 337.9)"/><ellipse cx="501.9" cy="312.4" rx="4.93" ry="4.20" transform="rotate(-167 501.9 312.4)"/><ellipse cx="512.9" cy="349.2" rx="4.01" ry="2.93" transform="rotate(-155 512.9 349.2)"/><ellipse cx="444.1" cy="411.3" rx="5.62" ry="4.28" transform="rotate(-179 444.1 411.3)"/><ellipse cx="456.6" cy="381.4" rx="4.71" ry="4.10" transform="rotate(-139 456.6 381.4)"/><ellipse cx="484.8" cy="372.7" rx="4.33" ry="3.57" transform="rotate(-163 484.8 372.7)"/><ellipse cx="427.6" cy="399.9" rx="5.21" ry="4.62" transform="rotate(86 427.6 399.9)"/><ellipse cx="433.4" cy="358.6" rx="5.66" ry="4.69" transform="rotate(-159 433.4 358.6)"/><ellipse cx="478.9" cy="386.6" rx="4.51" ry="3.45" transform="rotate(-141 478.9 386.6)"/><ellipse cx="527.5" cy="369.1" rx="4.47" ry="3.69" transform="rotate(95 527.5 369.1)"/><ellipse cx="424.4" cy="410.1" rx="5.13" ry="3.90" transform="rotate(111 424.4 410.1)"/><ellipse cx="462.1" cy="411.5" rx="4.28" ry="3.94" transform="rotate(129 462.1 411.5)"/><ellipse cx="533.8" cy="372.9" rx="4.51" ry="4.10" transform="rotate(119 533.8 372.9)"/><ellipse cx="508.1" cy="343.4" rx="4.15" ry="3.42" transform="rotate(-145 508.1 343.4)"/><ellipse cx="453.1" cy="317.9" rx="4.17" ry="3.51" transform="rotate(68 453.1 317.9)"/><ellipse cx="507.3" cy="329.9" rx="4.78" ry="4.02" transform="rotate(118 507.3 329.9)"/><ellipse cx="464.0" cy="337.6" rx="3.53" ry="3.27" transform="rotate(140 464.0 337.6)"/><ellipse cx="489.5" cy="379.0" rx="3.86" ry="3.36" transform="rotate(-152 489.5 379.0)"/><ellipse cx="530.7" cy="418.5" rx="4.20" ry="3.67" transform="rotate(80 530.7 418.5)"/><ellipse cx="446.6" cy="403.5" rx="4.39" ry="3.86" transform="rotate(-139 446.6 403.5)"/><ellipse cx="510.8" cy="318.8" rx="4.88" ry="4.57" transform="rotate(141 510.8 318.8)"/><ellipse cx="434.2" cy="385.5" rx="4.49" ry="3.57" transform="rotate(55 434.2 385.5)"/><ellipse cx="527.3" cy="338.1" rx="5.12" ry="4.02" transform="rotate(56 527.3 338.1)"/><ellipse cx="419.3" cy="365.3" rx="4.13" ry="3.54" transform="rotate(136 419.3 365.3)"/><ellipse cx="484.4" cy="358.1" rx="4.64" ry="3.48" transform="rotate(50 484.4 358.1)"/><ellipse cx="498.8" cy="354.4" rx="4.30" ry="3.39" transform="rotate(84 498.8 354.4)"/><ellipse cx="527.6" cy="347.2" rx="4.96" ry="3.31" transform="rotate(129 527.6 347.2)"/><ellipse cx="410.5" cy="324.4" rx="5.73" ry="3.83" transform="rotate(60 410.5 324.4)"/><ellipse cx="519.7" cy="348.4" rx="3.47" ry="2.92" transform="rotate(-163 519.7 348.4)"/><ellipse cx="462.8" cy="331.7" rx="3.98" ry="3.34" transform="rotate(128 462.8 331.7)"/><ellipse cx="495.5" cy="391.4" rx="4.61" ry="3.65" transform="rotate(151 495.5 391.4)"/><ellipse cx="440.2" cy="368.9" rx="6.05" ry="5.44" transform="rotate(51 440.2 368.9)"/><ellipse cx="417.9" cy="403.7" rx="4.74" ry="3.22" transform="rotate(-172 417.9 403.7)"/><ellipse cx="517.1" cy="361.7" rx="4.11" ry="3.43" transform="rotate(55 517.1 361.7)"/><ellipse cx="460.1" cy="314.1" rx="4.23" ry="3.78" transform="rotate(171 460.1 314.1)"/><ellipse cx="411.5" cy="368.1" rx="4.85" ry="3.29" transform="rotate(45 411.5 368.1)"/><ellipse cx="520.8" cy="386.2" rx="4.67" ry="4.37" transform="rotate(49 520.8 386.2)"/><ellipse cx="468.6" cy="396.0" rx="4.47" ry="3.18" transform="rotate(61 468.6 396.0)"/><ellipse cx="516.2" cy="409.2" rx="4.10" ry="3.29" transform="rotate(88 516.2 409.2)"/><ellipse cx="433.1" cy="341.4" rx="3.93" ry="3.29" transform="rotate(55 433.1 341.4)"/><ellipse cx="504.8" cy="356.5" rx="4.12" ry="3.39" transform="rotate(103 504.8 356.5)"/><ellipse cx="470.3" cy="334.7" rx="4.02" ry="3.53" transform="rotate(76 470.3 334.7)"/><ellipse cx="409.0" cy="406.6" rx="4.55" ry="4.13" transform="rotate(174 409.0 406.6)"/><ellipse cx="533.6" cy="363.0" rx="4.29" ry="3.83" transform="rotate(100 533.6 363.0)"/><ellipse cx="515.4" cy="332.8" rx="3.93" ry="3.29" transform="rotate(175 515.4 332.8)"/><ellipse cx="418.8" cy="310.6" rx="5.37" ry="4.56" transform="rotate(-173 418.8 310.6)"/><ellipse cx="427.9" cy="334.6" rx="4.46" ry="3.87" transform="rotate(-174 427.9 334.6)"/><ellipse cx="476.5" cy="394.6" rx="3.90" ry="3.61" transform="rotate(111 476.5 394.6)"/><ellipse cx="463.2" cy="400.9" rx="3.88" ry="2.63" transform="rotate(122 463.2 400.9)"/><ellipse cx="466.7" cy="318.5" rx="4.33" ry="4.20" transform="rotate(-146 466.7 318.5)"/><ellipse cx="494.0" cy="373.6" rx="4.71" ry="3.15" transform="rotate(-141 494.0 373.6)"/><ellipse cx="518.0" cy="417.2" rx="4.75" ry="3.17" transform="rotate(107 518.0 417.2)"/><ellipse cx="448.9" cy="363.7" rx="5.12" ry="5.01" transform="rotate(59 448.9 363.7)"/><ellipse cx="433.6" cy="409.5" rx="5.33" ry="4.08" transform="rotate(-139 433.6 409.5)"/><ellipse cx="510.7" cy="415.4" rx="4.36" ry="4.05" transform="rotate(108 510.7 415.4)"/><ellipse cx="515.3" cy="343.1" rx="3.41" ry="3.03" transform="rotate(-158 515.3 343.1)"/><ellipse cx="455.8" cy="406.5" rx="5.30" ry="3.65" transform="rotate(164 455.8 406.5)"/><ellipse cx="438.2" cy="319.2" rx="4.43" ry="3.97" transform="rotate(61 438.2 319.2)"/><ellipse cx="460.1" cy="394.3" rx="4.59" ry="3.17" transform="rotate(-161 460.1 394.3)"/><ellipse cx="465.1" cy="382.9" rx="4.24" ry="3.36" transform="rotate(-174 465.1 382.9)"/><ellipse cx="404.6" cy="358.4" rx="5.44" ry="4.71" transform="rotate(69 404.6 358.4)"/><ellipse cx="500.9" cy="339.1" rx="5.08" ry="4.20" transform="rotate(149 500.9 339.1)"/><ellipse cx="492.8" cy="316.2" rx="5.12" ry="3.82" transform="rotate(-170 492.8 316.2)"/><ellipse cx="487.1" cy="366.8" rx="4.52" ry="3.15" transform="rotate(58 487.1 366.8)"/><ellipse cx="481.4" cy="379.9" rx="4.13" ry="3.41" transform="rotate(-168 481.4 379.9)"/><ellipse cx="441.9" cy="387.5" rx="4.62" ry="4.00" transform="rotate(157 441.9 387.5)"/><ellipse cx="520.4" cy="354.3" rx="4.24" ry="3.07" transform="rotate(177 520.4 354.3)"/><ellipse cx="501.2" cy="396.5" rx="4.50" ry="3.76" transform="rotate(123 501.2 396.5)"/><ellipse cx="426.9" cy="351.2" rx="4.43" ry="3.63" transform="rotate(45 426.9 351.2)"/><ellipse cx="457.7" cy="339.3" rx="4.05" ry="3.60" transform="rotate(81 457.7 339.3)"/><ellipse cx="438.7" cy="379.3" rx="4.21" ry="3.63" transform="rotate(85 438.7 379.3)"/><ellipse cx="407.2" cy="374.5" rx="4.00" ry="3.74" transform="rotate(73 407.2 374.5)"/><ellipse cx="504.0" cy="348.7" rx="4.43" ry="3.14" transform="rotate(-146 504.0 348.7)"/><ellipse cx="414.3" cy="377.3" rx="4.00" ry="3.71" transform="rotate(75 414.3 377.3)"/><ellipse cx="482.4" cy="400.3" rx="4.02" ry="3.46" transform="rotate(-176 482.4 400.3)"/><ellipse cx="529.1" cy="400.2" rx="5.07" ry="4.15" transform="rotate(94 529.1 400.2)"/><ellipse cx="487.0" cy="349.6" rx="4.96" ry="4.13" transform="rotate(82 487.0 349.6)"/><ellipse cx="462.6" cy="351.8" rx="4.38" ry="3.64" transform="rotate(96 462.6 351.8)"/><ellipse cx="522.2" cy="343.1" rx="3.59" ry="3.19" transform="rotate(-180 522.2 343.1)"/><ellipse cx="418.6" cy="397.6" rx="4.60" ry="3.18" transform="rotate(179 418.6 397.6)"/><ellipse cx="423.9" cy="317.4" rx="4.49" ry="3.76" transform="rotate(108 423.9 317.4)"/><ellipse cx="479.6" cy="414.4" rx="5.48" ry="4.23" transform="rotate(54 479.6 414.4)"/><ellipse cx="534.8" cy="381.6" rx="4.52" ry="4.01" transform="rotate(163 534.8 381.6)"/><ellipse cx="428.4" cy="388.5" rx="5.09" ry="3.39" transform="rotate(83 428.4 388.5)"/><ellipse cx="452.0" cy="389.0" rx="5.03" ry="4.17" transform="rotate(-171 452.0 389.0)"/><ellipse cx="444.7" cy="337.9" rx="3.74" ry="3.22" transform="rotate(155 444.7 337.9)"/><ellipse cx="447.2" cy="330.4" rx="3.66" ry="3.03" transform="rotate(119 447.2 330.4)"/><ellipse cx="488.2" cy="386.0" rx="4.40" ry="3.41" transform="rotate(-168 488.2 386.0)"/><ellipse cx="437.9" cy="402.5" rx="4.83" ry="4.25" transform="rotate(45 437.9 402.5)"/><ellipse cx="507.7" cy="370.2" rx="4.64" ry="3.11" transform="rotate(57 507.7 370.2)"/><ellipse cx="422.6" cy="326.4" rx="5.34" ry="4.13" transform="rotate(-178 422.6 326.4)"/><ellipse cx="494.1" cy="409.9" rx="5.09" ry="3.85" transform="rotate(53 494.1 409.9)"/><ellipse cx="531.7" cy="409.8" rx="4.75" ry="3.88" transform="rotate(125 531.7 409.8)"/><ellipse cx="499.9" cy="370.0" rx="4.22" ry="3.66" transform="rotate(-139 499.9 370.0)"/><ellipse cx="506.4" cy="402.9" rx="4.21" ry="3.41" transform="rotate(126 506.4 402.9)"/><ellipse cx="520.7" cy="370.0" rx="4.85" ry="3.24" transform="rotate(100 520.7 370.0)"/><ellipse cx="406.9" cy="382.2" rx="4.54" ry="3.90" transform="rotate(160 406.9 382.2)"/><ellipse cx="532.3" cy="311.2" rx="5.32" ry="4.63" transform="rotate(-175 532.3 311.2)"/><ellipse cx="508.4" cy="395.4" rx="3.94" ry="3.32" transform="rotate(60 508.4 395.4)"/><ellipse cx="433.7" cy="328.3" rx="4.06" ry="3.67" transform="rotate(-171 433.7 328.3)"/><ellipse cx="449.1" cy="344.0" rx="4.87" ry="3.29" transform="rotate(120 449.1 344.0)"/><ellipse cx="475.5" cy="358.3" rx="5.27" ry="3.92" transform="rotate(126 475.5 358.3)"/><ellipse cx="516.0" cy="325.6" rx="4.85" ry="3.71" transform="rotate(139 516.0 325.6)"/><ellipse cx="436.9" cy="336.6" rx="4.12" ry="2.78" transform="rotate(-138 436.9 336.6)"/><ellipse cx="437.3" cy="418.7" rx="5.22" ry="4.16" transform="rotate(89 437.3 418.7)"/><ellipse cx="418.9" cy="387.4" rx="3.09" ry="2.80" transform="rotate(139 418.9 387.4)"/></g>
<g fill="#f6f4f2"><ellipse cx="446.8" cy="322.6" rx="3.18" ry="2.64" transform="rotate(52 446.8 322.6)"/><ellipse cx="484.8" cy="407.5" rx="4.30" ry="3.22" transform="rotate(175 484.8 407.5)"/><ellipse cx="409.0" cy="398.4" rx="4.51" ry="2.96" transform="rotate(-168 409.0 398.4)"/><ellipse cx="531.0" cy="321.8" rx="4.19" ry="4.07" transform="rotate(-161 531.0 321.8)"/><ellipse cx="500.7" cy="362.7" rx="4.44" ry="3.12" transform="rotate(-147 500.7 362.7)"/><ellipse cx="514.2" cy="379.0" rx="4.29" ry="3.57" transform="rotate(125 514.2 379.0)"/><ellipse cx="455.3" cy="356.9" rx="4.62" ry="3.27" transform="rotate(-168 455.3 356.9)"/><ellipse cx="514.9" cy="400.6" rx="4.14" ry="3.82" transform="rotate(-149 514.9 400.6)"/><ellipse cx="422.7" cy="391.5" rx="3.32" ry="2.81" transform="rotate(82 422.7 391.5)"/><ellipse cx="470.9" cy="387.8" rx="3.82" ry="3.40" transform="rotate(120 470.9 387.8)"/><ellipse cx="471.7" cy="378.4" rx="4.94" ry="3.15" transform="rotate(56 471.7 378.4)"/><ellipse cx="430.2" cy="377.2" rx="4.65" ry="3.42" transform="rotate(112 430.2 377.2)"/><ellipse cx="414.0" cy="360.1" rx="3.91" ry="3.26" transform="rotate(149 414.0 360.1)"/><ellipse cx="445.8" cy="313.8" rx="3.84" ry="3.18" transform="rotate(105 445.8 313.8)"/><ellipse cx="524.1" cy="417.4" rx="4.33" ry="2.71" transform="rotate(111 524.1 417.4)"/><ellipse cx="464.3" cy="370.2" rx="4.11" ry="3.31" transform="rotate(-156 464.3 370.2)"/><ellipse cx="478.0" cy="328.6" rx="4.83" ry="3.76" transform="rotate(152 478.0 328.6)"/><ellipse cx="496.7" cy="330.7" rx="3.97" ry="3.94" transform="rotate(68 496.7 330.7)"/><ellipse cx="453.4" cy="372.2" rx="5.14" ry="3.43" transform="rotate(-177 453.4 372.2)"/><ellipse cx="417.0" cy="335.1" rx="5.09" ry="3.75" transform="rotate(-145 417.0 335.1)"/><ellipse cx="492.7" cy="356.7" rx="4.03" ry="3.14" transform="rotate(63 492.7 356.7)"/><ellipse cx="457.4" cy="330.9" rx="3.58" ry="2.67" transform="rotate(107 457.4 330.9)"/><ellipse cx="523.3" cy="328.9" rx="4.81" ry="3.44" transform="rotate(99 523.3 328.9)"/><ellipse cx="467.3" cy="343.6" rx="4.92" ry="3.08" transform="rotate(170 467.3 343.6)"/><ellipse cx="404.1" cy="333.5" rx="5.04" ry="4.42" transform="rotate(178 404.1 333.5)"/><ellipse cx="454.1" cy="415.6" rx="4.51" ry="3.57" transform="rotate(-155 454.1 415.6)"/><ellipse cx="434.4" cy="349.2" rx="4.31" ry="3.04" transform="rotate(-140 434.4 349.2)"/><ellipse cx="466.5" cy="404.8" rx="3.99" ry="2.86" transform="rotate(149 466.5 404.8)"/><ellipse cx="422.2" cy="357.0" rx="5.25" ry="3.41" transform="rotate(-137 422.2 357.0)"/><ellipse cx="486.9" cy="331.2" rx="4.33" ry="3.48" transform="rotate(171 486.9 331.2)"/><ellipse cx="522.9" cy="407.1" rx="4.56" ry="2.93" transform="rotate(84 522.9 407.1)"/><ellipse cx="430.1" cy="310.9" rx="4.33" ry="3.55" transform="rotate(59 430.1 310.9)"/><ellipse cx="504.0" cy="377.5" rx="4.42" ry="3.50" transform="rotate(-162 504.0 377.5)"/><ellipse cx="462.6" cy="376.6" rx="4.03" ry="2.86" transform="rotate(-163 462.6 376.6)"/><ellipse cx="522.4" cy="316.9" rx="5.75" ry="3.78" transform="rotate(117 522.4 316.9)"/><ellipse cx="416.3" cy="319.1" rx="4.27" ry="3.40" transform="rotate(52 416.3 319.1)"/><ellipse cx="465.8" cy="360.3" rx="3.88" ry="3.56" transform="rotate(-162 465.8 360.3)"/><ellipse cx="444.2" cy="354.7" rx="5.60" ry="4.30" transform="rotate(128 444.2 354.7)"/><ellipse cx="470.7" cy="412.8" rx="3.83" ry="3.19" transform="rotate(77 470.7 412.8)"/><ellipse cx="422.1" cy="382.2" rx="3.60" ry="2.92" transform="rotate(-143 422.1 382.2)"/><ellipse cx="457.8" cy="364.6" rx="3.77" ry="3.57" transform="rotate(154 457.8 364.6)"/><ellipse cx="471.8" cy="367.8" rx="4.62" ry="3.14" transform="rotate(99 471.8 367.8)"/><ellipse cx="451.7" cy="334.9" rx="3.78" ry="2.48" transform="rotate(105 451.7 334.9)"/><ellipse cx="410.3" cy="341.8" rx="4.47" ry="3.94" transform="rotate(67 410.3 341.8)"/><ellipse cx="524.8" cy="361.6" rx="3.71" ry="3.30" transform="rotate(117 524.8 361.6)"/><ellipse cx="535.2" cy="348.5" rx="3.44" ry="3.23" transform="rotate(95 535.2 348.5)"/><ellipse cx="509.4" cy="362.4" rx="3.38" ry="3.08" transform="rotate(167 509.4 362.4)"/><ellipse cx="460.3" cy="323.4" rx="4.09" ry="3.08" transform="rotate(63 460.3 323.4)"/><ellipse cx="447.0" cy="379.5" rx="4.91" ry="3.60" transform="rotate(74 447.0 379.5)"/><ellipse cx="426.1" cy="342.7" rx="4.40" ry="2.76" transform="rotate(46 426.1 342.7)"/><ellipse cx="525.5" cy="378.4" rx="4.47" ry="4.00" transform="rotate(-135 525.5 378.4)"/><ellipse cx="413.9" cy="384.8" rx="3.69" ry="2.41" transform="rotate(132 413.9 384.8)"/><ellipse cx="478.6" cy="337.9" rx="4.93" ry="3.54" transform="rotate(146 478.6 337.9)"/><ellipse cx="512.9" cy="349.2" rx="3.46" ry="2.38" transform="rotate(-155 512.9 349.2)"/><ellipse cx="456.6" cy="381.4" rx="4.16" ry="3.55" transform="rotate(-139 456.6 381.4)"/><ellipse cx="427.6" cy="399.9" rx="4.66" ry="4.07" transform="rotate(86 427.6 399.9)"/><ellipse cx="478.9" cy="386.6" rx="3.96" ry="2.90" transform="rotate(-141 478.9 386.6)"/><ellipse cx="424.4" cy="410.1" rx="4.58" ry="3.35" transform="rotate(111 424.4 410.1)"/><ellipse cx="533.8" cy="372.9" rx="3.96" ry="3.55" transform="rotate(119 533.8 372.9)"/><ellipse cx="453.1" cy="317.9" rx="3.62" ry="2.96" transform="rotate(68 453.1 317.9)"/><ellipse cx="464.0" cy="337.6" rx="2.98" ry="2.72" transform="rotate(140 464.0 337.6)"/><ellipse cx="530.7" cy="418.5" rx="3.65" ry="3.12" transform="rotate(80 530.7 418.5)"/><ellipse cx="510.8" cy="318.8" rx="4.33" ry="4.02" transform="rotate(141 510.8 318.8)"/><ellipse cx="527.3" cy="338.1" rx="4.57" ry="3.47" transform="rotate(56 527.3 338.1)"/><ellipse cx="484.4" cy="358.1" rx="4.09" ry="2.93" transform="rotate(50 484.4 358.1)"/><ellipse cx="527.6" cy="347.2" rx="4.41" ry="2.76" transform="rotate(129 527.6 347.2)"/><ellipse cx="519.7" cy="348.4" rx="2.92" ry="2.37" transform="rotate(-163 519.7 348.4)"/><ellipse cx="495.5" cy="391.4" rx="4.06" ry="3.10" transform="rotate(151 495.5 391.4)"/><ellipse cx="417.9" cy="403.7" rx="4.19" ry="2.67" transform="rotate(-172 417.9 403.7)"/><ellipse cx="460.1" cy="314.1" rx="3.68" ry="3.23" transform="rotate(171 460.1 314.1)"/><ellipse cx="520.8" cy="386.2" rx="4.12" ry="3.82" transform="rotate(49 520.8 386.2)"/><ellipse cx="516.2" cy="409.2" rx="3.55" ry="2.74" transform="rotate(88 516.2 409.2)"/><ellipse cx="504.8" cy="356.5" rx="3.57" ry="2.84" transform="rotate(103 504.8 356.5)"/><ellipse cx="409.0" cy="406.6" rx="4.00" ry="3.58" transform="rotate(174 409.0 406.6)"/><ellipse cx="515.4" cy="332.8" rx="3.38" ry="2.74" transform="rotate(175 515.4 332.8)"/><ellipse cx="427.9" cy="334.6" rx="3.91" ry="3.32" transform="rotate(-174 427.9 334.6)"/><ellipse cx="463.2" cy="400.9" rx="3.33" ry="2.08" transform="rotate(122 463.2 400.9)"/><ellipse cx="494.0" cy="373.6" rx="4.16" ry="2.60" transform="rotate(-141 494.0 373.6)"/><ellipse cx="448.9" cy="363.7" rx="4.57" ry="4.46" transform="rotate(59 448.9 363.7)"/><ellipse cx="510.7" cy="415.4" rx="3.81" ry="3.50" transform="rotate(108 510.7 415.4)"/><ellipse cx="455.8" cy="406.5" rx="4.75" ry="3.10" transform="rotate(164 455.8 406.5)"/><ellipse cx="460.1" cy="394.3" rx="4.04" ry="2.62" transform="rotate(-161 460.1 394.3)"/><ellipse cx="404.6" cy="358.4" rx="4.89" ry="4.16" transform="rotate(69 404.6 358.4)"/><ellipse cx="492.8" cy="316.2" rx="4.57" ry="3.27" transform="rotate(-170 492.8 316.2)"/><ellipse cx="481.4" cy="379.9" rx="3.58" ry="2.86" transform="rotate(-168 481.4 379.9)"/><ellipse cx="520.4" cy="354.3" rx="3.69" ry="2.52" transform="rotate(177 520.4 354.3)"/><ellipse cx="426.9" cy="351.2" rx="3.88" ry="3.08" transform="rotate(45 426.9 351.2)"/><ellipse cx="438.7" cy="379.3" rx="3.66" ry="3.08" transform="rotate(85 438.7 379.3)"/><ellipse cx="504.0" cy="348.7" rx="3.88" ry="2.59" transform="rotate(-146 504.0 348.7)"/><ellipse cx="482.4" cy="400.3" rx="3.47" ry="2.91" transform="rotate(-176 482.4 400.3)"/><ellipse cx="487.0" cy="349.6" rx="4.41" ry="3.58" transform="rotate(82 487.0 349.6)"/><ellipse cx="522.2" cy="343.1" rx="3.04" ry="2.64" transform="rotate(-180 522.2 343.1)"/><ellipse cx="423.9" cy="317.4" rx="3.94" ry="3.21" transform="rotate(108 423.9 317.4)"/><ellipse cx="534.8" cy="381.6" rx="3.97" ry="3.46" transform="rotate(163 534.8 381.6)"/><ellipse cx="452.0" cy="389.0" rx="4.48" ry="3.62" transform="rotate(-171 452.0 389.0)"/><ellipse cx="447.2" cy="330.4" rx="3.11" ry="2.48" transform="rotate(119 447.2 330.4)"/><ellipse cx="437.9" cy="402.5" rx="4.28" ry="3.70" transform="rotate(45 437.9 402.5)"/><ellipse cx="422.6" cy="326.4" rx="4.79" ry="3.58" transform="rotate(-178 422.6 326.4)"/><ellipse cx="531.7" cy="409.8" rx="4.20" ry="3.33" transform="rotate(125 531.7 409.8)"/><ellipse cx="506.4" cy="402.9" rx="3.66" ry="2.86" transform="rotate(126 506.4 402.9)"/><ellipse cx="406.9" cy="382.2" rx="3.99" ry="3.35" transform="rotate(160 406.9 382.2)"/><ellipse cx="508.4" cy="395.4" rx="3.39" ry="2.77" transform="rotate(60 508.4 395.4)"/><ellipse cx="449.1" cy="344.0" rx="4.32" ry="2.74" transform="rotate(120 449.1 344.0)"/><ellipse cx="516.0" cy="325.6" rx="4.30" ry="3.16" transform="rotate(139 516.0 325.6)"/><ellipse cx="437.3" cy="418.7" rx="4.67" ry="3.61" transform="rotate(89 437.3 418.7)"/></g>
<g fill="#eeedf2"><ellipse cx="478.9" cy="347.7" rx="4.83" ry="4.25" transform="rotate(88 478.9 347.7)"/><ellipse cx="529.8" cy="355.0" rx="3.64" ry="2.95" transform="rotate(-168 529.8 355.0)"/><ellipse cx="497.1" cy="382.6" rx="3.74" ry="3.59" transform="rotate(121 497.1 382.6)"/><ellipse cx="406.6" cy="390.6" rx="4.23" ry="3.17" transform="rotate(148 406.6 390.6)"/><ellipse cx="511.5" cy="354.9" rx="3.74" ry="2.55" transform="rotate(-143 511.5 354.9)"/><ellipse cx="458.2" cy="400.1" rx="2.98" ry="2.58" transform="rotate(85 458.2 400.1)"/><ellipse cx="430.3" cy="320.8" rx="4.08" ry="3.01" transform="rotate(115 430.3 320.8)"/><ellipse cx="482.9" cy="311.7" rx="5.28" ry="4.67" transform="rotate(72 482.9 311.7)"/><ellipse cx="479.7" cy="365.8" rx="3.35" ry="3.01" transform="rotate(89 479.7 365.8)"/><ellipse cx="510.1" cy="407.8" rx="3.77" ry="2.74" transform="rotate(129 510.1 407.8)"/><ellipse cx="488.5" cy="415.1" rx="3.81" ry="3.19" transform="rotate(-158 488.5 415.1)"/><ellipse cx="521.9" cy="395.7" rx="4.34" ry="3.46" transform="rotate(86 521.9 395.7)"/><ellipse cx="416.3" cy="411.5" rx="4.12" ry="3.49" transform="rotate(65 416.3 411.5)"/><ellipse cx="485.6" cy="393.3" rx="4.66" ry="3.39" transform="rotate(-165 485.6 393.3)"/><ellipse cx="499.4" cy="404.2" rx="3.43" ry="2.99" transform="rotate(60 499.4 404.2)"/><ellipse cx="468.6" cy="326.4" rx="3.43" ry="3.15" transform="rotate(-174 468.6 326.4)"/><ellipse cx="514.3" cy="369.1" rx="4.07" ry="2.69" transform="rotate(85 514.3 369.1)"/><ellipse cx="532.2" cy="330.9" rx="3.80" ry="3.45" transform="rotate(-144 532.2 330.9)"/><ellipse cx="462.3" cy="388.5" rx="4.30" ry="2.69" transform="rotate(-157 462.3 388.5)"/><ellipse cx="412.1" cy="351.6" rx="5.13" ry="3.86" transform="rotate(-157 412.1 351.6)"/><ellipse cx="502.8" cy="411.8" rx="4.00" ry="3.33" transform="rotate(127 502.8 411.8)"/><ellipse cx="409.2" cy="415.2" rx="4.28" ry="2.97" transform="rotate(-166 409.2 415.2)"/><ellipse cx="470.6" cy="351.8" rx="4.04" ry="3.35" transform="rotate(115 470.6 351.8)"/><ellipse cx="517.0" cy="311.3" rx="4.37" ry="3.23" transform="rotate(128 517.0 311.3)"/><ellipse cx="514.1" cy="390.4" rx="4.10" ry="2.88" transform="rotate(71 514.1 390.4)"/><ellipse cx="452.4" cy="397.7" rx="3.50" ry="2.95" transform="rotate(107 452.4 397.7)"/><ellipse cx="414.7" cy="392.1" rx="2.94" ry="2.73" transform="rotate(170 414.7 392.1)"/><ellipse cx="441.4" cy="326.7" rx="3.25" ry="2.95" transform="rotate(-167 441.4 326.7)"/><ellipse cx="500.3" cy="322.2" rx="4.97" ry="3.94" transform="rotate(-180 500.3 322.2)"/><ellipse cx="510.6" cy="337.6" rx="3.91" ry="2.57" transform="rotate(-166 510.6 337.6)"/><ellipse cx="505.4" cy="387.2" rx="4.58" ry="3.44" transform="rotate(138 505.4 387.2)"/><ellipse cx="409.1" cy="312.9" rx="5.16" ry="4.07" transform="rotate(82 409.1 312.9)"/><ellipse cx="529.4" cy="389.8" rx="4.68" ry="3.18" transform="rotate(69 529.4 389.8)"/><ellipse cx="444.0" cy="395.4" rx="4.01" ry="3.29" transform="rotate(149 444.0 395.4)"/><ellipse cx="453.2" cy="326.3" rx="3.55" ry="2.71" transform="rotate(114 453.2 326.3)"/><ellipse cx="429.0" cy="416.8" rx="3.99" ry="3.50" transform="rotate(142 429.0 416.8)"/><ellipse cx="418.9" cy="346.3" rx="4.80" ry="3.40" transform="rotate(73 418.9 346.3)"/><ellipse cx="435.1" cy="393.8" rx="3.71" ry="3.43" transform="rotate(152 435.1 393.8)"/><ellipse cx="440.9" cy="332.6" rx="3.04" ry="2.26" transform="rotate(-150 440.9 332.6)"/><ellipse cx="455.5" cy="348.1" rx="4.90" ry="3.06" transform="rotate(146 455.5 348.1)"/><ellipse cx="494.8" cy="347.3" rx="3.83" ry="3.30" transform="rotate(104 494.8 347.3)"/><ellipse cx="440.6" cy="344.5" rx="3.90" ry="2.90" transform="rotate(64 440.6 344.5)"/><ellipse cx="489.0" cy="339.8" rx="4.91" ry="3.31" transform="rotate(150 489.0 339.8)"/><ellipse cx="487.9" cy="322.7" rx="5.50" ry="3.44" transform="rotate(-164 487.9 322.7)"/><ellipse cx="428.1" cy="366.6" rx="4.25" ry="3.64" transform="rotate(-136 428.1 366.6)"/><ellipse cx="477.2" cy="373.3" rx="3.06" ry="3.00" transform="rotate(122 477.2 373.3)"/><ellipse cx="475.9" cy="319.9" rx="4.88" ry="4.25" transform="rotate(-170 475.9 319.9)"/><ellipse cx="519.2" cy="337.5" rx="3.69" ry="2.58" transform="rotate(149 519.2 337.5)"/><ellipse cx="491.9" cy="400.5" rx="3.88" ry="3.31" transform="rotate(133 491.9 400.5)"/><ellipse cx="475.0" cy="404.2" rx="4.56" ry="3.26" transform="rotate(63 475.0 404.2)"/><ellipse cx="421.0" cy="373.0" rx="4.14" ry="3.25" transform="rotate(-164 421.0 373.0)"/><ellipse cx="492.7" cy="364.8" rx="3.83" ry="2.66" transform="rotate(53 492.7 364.8)"/><ellipse cx="501.9" cy="312.4" rx="4.38" ry="3.65" transform="rotate(-167 501.9 312.4)"/><ellipse cx="444.1" cy="411.3" rx="5.07" ry="3.73" transform="rotate(-179 444.1 411.3)"/><ellipse cx="484.8" cy="372.7" rx="3.78" ry="3.02" transform="rotate(-163 484.8 372.7)"/><ellipse cx="433.4" cy="358.6" rx="5.11" ry="4.14" transform="rotate(-159 433.4 358.6)"/><ellipse cx="527.5" cy="369.1" rx="3.92" ry="3.14" transform="rotate(95 527.5 369.1)"/><ellipse cx="462.1" cy="411.5" rx="3.73" ry="3.39" transform="rotate(129 462.1 411.5)"/><ellipse cx="508.1" cy="343.4" rx="3.60" ry="2.87" transform="rotate(-145 508.1 343.4)"/><ellipse cx="507.3" cy="329.9" rx="4.23" ry="3.47" transform="rotate(118 507.3 329.9)"/><ellipse cx="489.5" cy="379.0" rx="3.31" ry="2.81" transform="rotate(-152 489.5 379.0)"/><ellipse cx="446.6" cy="403.5" rx="3.84" ry="3.31" transform="rotate(-139 446.6 403.5)"/><ellipse cx="434.2" cy="385.5" rx="3.94" ry="3.02" transform="rotate(55 434.2 385.5)"/><ellipse cx="419.3" cy="365.3" rx="3.58" ry="2.99" transform="rotate(136 419.3 365.3)"/><ellipse cx="498.8" cy="354.4" rx="3.75" ry="2.84" transform="rotate(84 498.8 354.4)"/><ellipse cx="410.5" cy="324.4" rx="5.18" ry="3.28" transform="rotate(60 410.5 324.4)"/><ellipse cx="462.8" cy="331.7" rx="3.43" ry="2.79" transform="rotate(128 462.8 331.7)"/><ellipse cx="440.2" cy="368.9" rx="5.50" ry="4.89" transform="rotate(51 440.2 368.9)"/><ellipse cx="517.1" cy="361.7" rx="3.56" ry="2.88" transform="rotate(55 517.1 361.7)"/><ellipse cx="411.5" cy="368.1" rx="4.30" ry="2.74" transform="rotate(45 411.5 368.1)"/><ellipse cx="468.6" cy="396.0" rx="3.92" ry="2.63" transform="rotate(61 468.6 396.0)"/><ellipse cx="433.1" cy="341.4" rx="3.38" ry="2.74" transform="rotate(55 433.1 341.4)"/><ellipse cx="470.3" cy="334.7" rx="3.47" ry="2.98" transform="rotate(76 470.3 334.7)"/><ellipse cx="533.6" cy="363.0" rx="3.74" ry="3.28" transform="rotate(100 533.6 363.0)"/><ellipse cx="418.8" cy="310.6" rx="4.82" ry="4.01" transform="rotate(-173 418.8 310.6)"/><ellipse cx="476.5" cy="394.6" rx="3.35" ry="3.06" transform="rotate(111 476.5 394.6)"/><ellipse cx="466.7" cy="318.5" rx="3.78" ry="3.65" transform="rotate(-146 466.7 318.5)"/><ellipse cx="518.0" cy="417.2" rx="4.20" ry="2.62" transform="rotate(107 518.0 417.2)"/><ellipse cx="433.6" cy="409.5" rx="4.78" ry="3.53" transform="rotate(-139 433.6 409.5)"/><ellipse cx="515.3" cy="343.1" rx="2.86" ry="2.48" transform="rotate(-158 515.3 343.1)"/><ellipse cx="438.2" cy="319.2" rx="3.88" ry="3.42" transform="rotate(61 438.2 319.2)"/><ellipse cx="465.1" cy="382.9" rx="3.69" ry="2.81" transform="rotate(-174 465.1 382.9)"/><ellipse cx="500.9" cy="339.1" rx="4.53" ry="3.65" transform="rotate(149 500.9 339.1)"/><ellipse cx="487.1" cy="366.8" rx="3.97" ry="2.60" transform="rotate(58 487.1 366.8)"/><ellipse cx="441.9" cy="387.5" rx="4.07" ry="3.45" transform="rotate(157 441.9 387.5)"/><ellipse cx="501.2" cy="396.5" rx="3.95" ry="3.21" transform="rotate(123 501.2 396.5)"/><ellipse cx="457.7" cy="339.3" rx="3.50" ry="3.05" transform="rotate(81 457.7 339.3)"/><ellipse cx="407.2" cy="374.5" rx="3.45" ry="3.19" transform="rotate(73 407.2 374.5)"/><ellipse cx="414.3" cy="377.3" rx="3.45" ry="3.16" transform="rotate(75 414.3 377.3)"/><ellipse cx="529.1" cy="400.2" rx="4.52" ry="3.60" transform="rotate(94 529.1 400.2)"/><ellipse cx="462.6" cy="351.8" rx="3.83" ry="3.09" transform="rotate(96 462.6 351.8)"/><ellipse cx="418.6" cy="397.6" rx="4.05" ry="2.63" transform="rotate(179 418.6 397.6)"/><ellipse cx="479.6" cy="414.4" rx="4.93" ry="3.68" transform="rotate(54 479.6 414.4)"/><ellipse cx="428.4" cy="388.5" rx="4.54" ry="2.84" transform="rotate(83 428.4 388.5)"/><ellipse cx="444.7" cy="337.9" rx="3.19" ry="2.67" transform="rotate(155 444.7 337.9)"/><ellipse cx="488.2" cy="386.0" rx="3.85" ry="2.86" transform="rotate(-168 488.2 386.0)"/><ellipse cx="507.7" cy="370.2" rx="4.09" ry="2.56" transform="rotate(57 507.7 370.2)"/><ellipse cx="494.1" cy="409.9" rx="4.54" ry="3.30" transform="rotate(53 494.1 409.9)"/><ellipse cx="499.9" cy="370.0" rx="3.67" ry="3.11" transform="rotate(-139 499.9 370.0)"/><ellipse cx="520.7" cy="370.0" rx="4.30" ry="2.69" transform="rotate(100 520.7 370.0)"/><ellipse cx="532.3" cy="311.2" rx="4.77" ry="4.08" transform="rotate(-175 532.3 311.2)"/><ellipse cx="433.7" cy="328.3" rx="3.51" ry="3.12" transform="rotate(-171 433.7 328.3)"/><ellipse cx="475.5" cy="358.3" rx="4.72" ry="3.37" transform="rotate(126 475.5 358.3)"/><ellipse cx="436.9" cy="336.6" rx="3.57" ry="2.23" transform="rotate(-138 436.9 336.6)"/><ellipse cx="418.9" cy="387.4" rx="2.54" ry="2.25" transform="rotate(139 418.9 387.4)"/></g>
<path d="M430 413 C448 405, 478 399, 530 396 L530 414 L430 414 Z" stroke="#f0eef2" stroke-width="0" fill="#efedf2"/>
<path d="M430 412 C448 404, 478 398, 530 395" stroke="#9a98c0" stroke-width="0.5" fill="none"/>
<path d="M412 318 L440 318 C430 320, 420 324, 412 331 Z" stroke="#dcdcee" stroke-width="0" fill="#dcdcee"/>
<path d="M412 327 C420 322, 430 320, 440 318.5" stroke="#6a70b8" stroke-width="0.7" fill="none"/>
<path d="M412 330 C421 324, 432 321, 444 319" stroke="#8a90c8" stroke-width="0.5" fill="none"/>
<line x1="506.00" y1="402.40" x2="525.00" y2="402.40" stroke="#111" stroke-width="0.9"/>
<line x1="506.00" y1="400.20" x2="506.00" y2="404.60" stroke="#111" stroke-width="0.9"/>
<line x1="525.00" y1="400.20" x2="525.00" y2="404.60" stroke="#111" stroke-width="0.9"/>
<text x="515.50" y="406.60" font-size="3.6" text-anchor="middle" fill="#111">300µm</text>
</g></g>
<rect x="412.00" y="318.50" width="116.00" height="92.50" fill="none" stroke="#1c1c1c" stroke-width="1.0"/>
</svg>
</body></html>
